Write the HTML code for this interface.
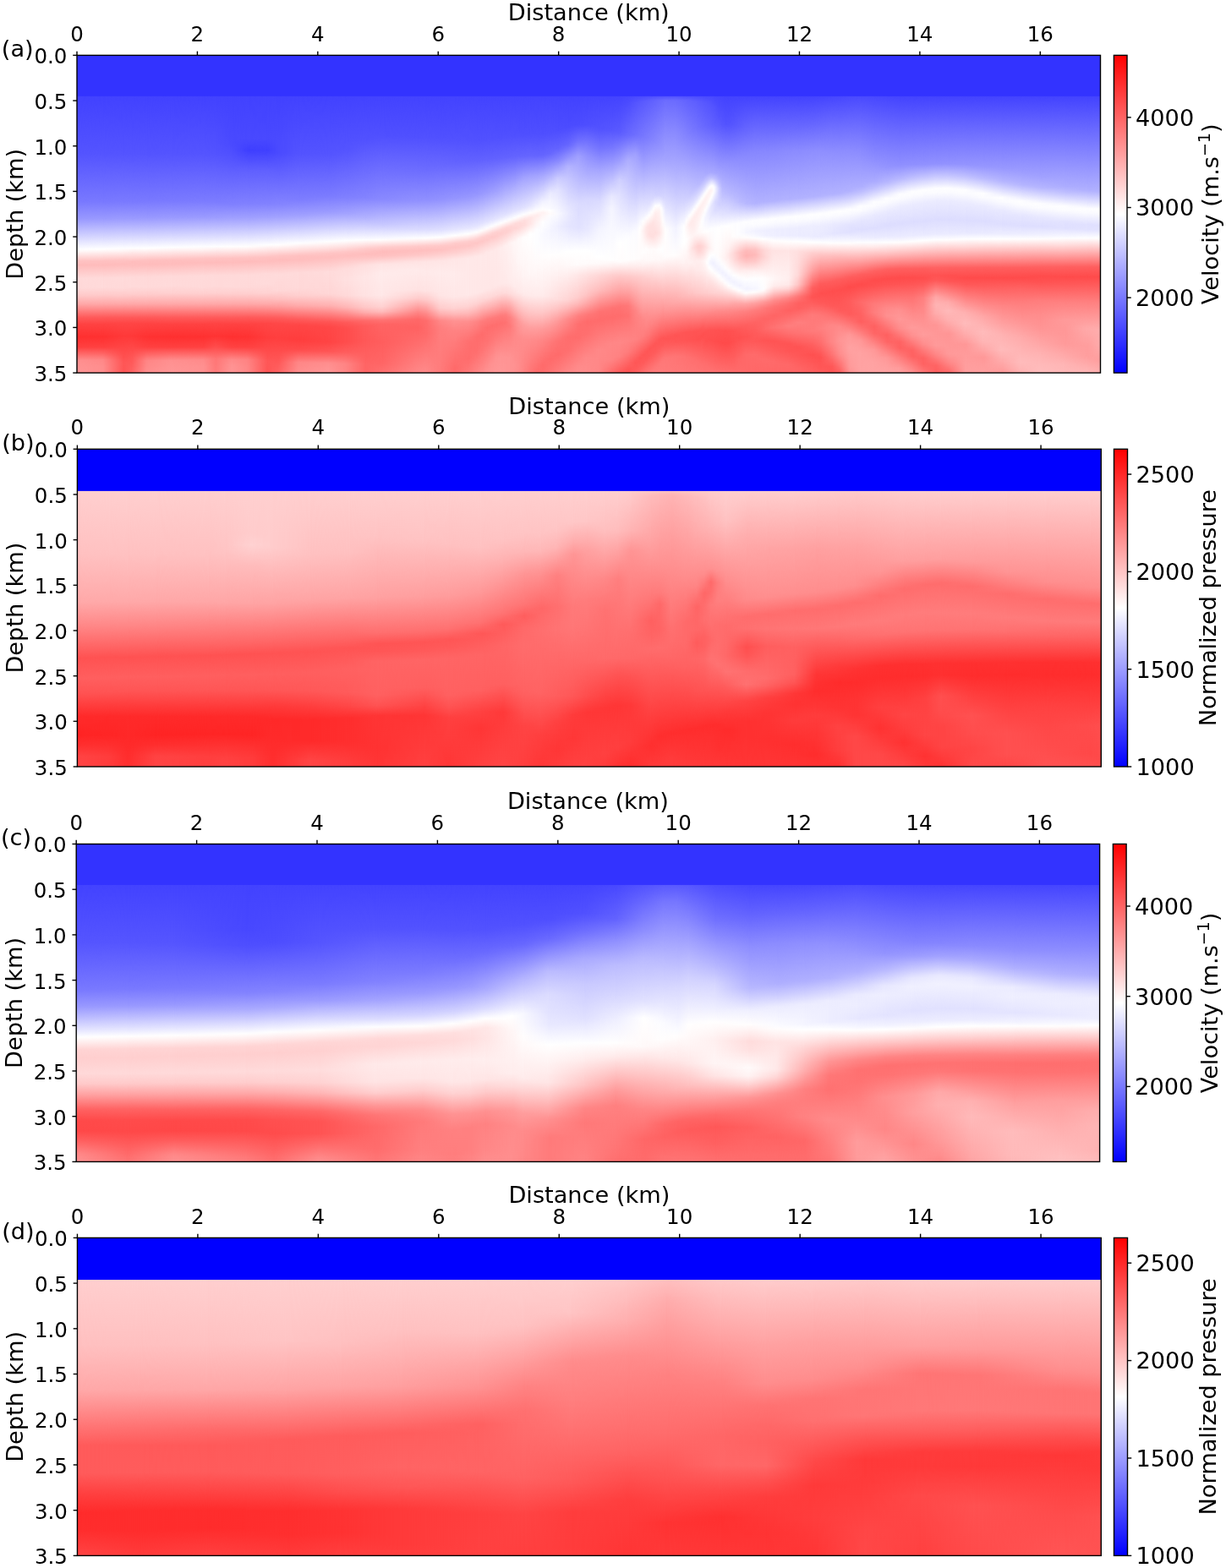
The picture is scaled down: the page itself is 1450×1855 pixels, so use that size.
<!DOCTYPE html>
<html><head><meta charset="utf-8"><style>
html,body{margin:0;padding:0;background:#fff;overflow:hidden;width:1450px;height:1855px;}
svg{display:block;}
.t{font-family:"DejaVu Sans","Liberation Sans",sans-serif;font-size:24.5px;fill:#000;}
.l{font-family:"DejaVu Sans","Liberation Sans",sans-serif;font-size:27.2px;fill:#000;}
.c{font-family:"DejaVu Sans","Liberation Sans",sans-serif;font-size:27.2px;fill:#000;}
</style></head><body>
<svg width="1450" height="1855" viewBox="0 0 1450 1855">
<defs><linearGradient id="rmpg"><stop offset="0" stop-color="#fff" stop-opacity="0"/><stop offset="1" stop-color="#fff"/></linearGradient><mask id="rmp" maskContentUnits="objectBoundingBox" style="mask-type:alpha"><rect width="1" height="1" fill="url(#rmpg)"/></mask></defs><defs><clipPath id="h0c"><rect x="91.0" y="65.4" width="1210.50" height="375.70"/></clipPath><linearGradient id="h00" x2="0" y2="1"><stop offset="0" stop-color="#33f"/><stop offset=".1263" stop-color="#33f"/><stop offset=".129" stop-color="#4242ff"/><stop offset=".3098" stop-color="#5454ff"/><stop offset=".4614" stop-color="#7979ff"/><stop offset=".5146" stop-color="#9898ff"/><stop offset=".6104" stop-color="#fdfdff"/><stop offset=".6157" stop-color="#fffafa"/><stop offset=".6476" stop-color="#ffc3c3"/><stop offset=".6609" stop-color="#ffbcbc"/><stop offset=".7035" stop-color="#ffdada"/><stop offset=".7327" stop-color="#ffd9d9"/><stop offset=".7566" stop-color="#ffc9c9"/><stop offset=".7832" stop-color="#ffa8a8"/><stop offset=".8258" stop-color="#ff5a5a"/><stop offset=".8471" stop-color="#ff4242"/><stop offset=".887" stop-color="#ff3030"/><stop offset=".9189" stop-color="#ff4040"/><stop offset=".9455" stop-color="#ff7474"/><stop offset=".9614" stop-color="#ff9090"/><stop offset="1" stop-color="#ff9797"/></linearGradient><linearGradient id="h01" x2="0" y2="1"><stop offset="0" stop-color="#33f"/><stop offset=".1263" stop-color="#33f"/><stop offset=".129" stop-color="#4242ff"/><stop offset=".3098" stop-color="#5454ff"/><stop offset=".4614" stop-color="#7979ff"/><stop offset=".5146" stop-color="#99f"/><stop offset=".6104" stop-color="#fff"/><stop offset=".6476" stop-color="#ffc1c1"/><stop offset=".6609" stop-color="#ffbcbc"/><stop offset=".7008" stop-color="#ffd9d9"/><stop offset=".7301" stop-color="#ffdada"/><stop offset=".754" stop-color="#ffcbcb"/><stop offset=".7832" stop-color="#ffa8a8"/><stop offset=".8258" stop-color="#ff5959"/><stop offset=".8471" stop-color="#ff4242"/><stop offset=".887" stop-color="#ff3131"/><stop offset=".9189" stop-color="#ff4141"/><stop offset=".9588" stop-color="#ff8787"/><stop offset=".9801" stop-color="#ff8d8d"/><stop offset="1" stop-color="#ff8d8d"/></linearGradient><linearGradient id="h02" x2="0" y2="1"><stop offset="0" stop-color="#33f"/><stop offset=".1263" stop-color="#33f"/><stop offset=".129" stop-color="#4242ff"/><stop offset=".3098" stop-color="#5454ff"/><stop offset=".4614" stop-color="#7a7aff"/><stop offset=".5146" stop-color="#9b9bff"/><stop offset=".6077" stop-color="#fdfdff"/><stop offset=".6157" stop-color="#fff5f5"/><stop offset=".6449" stop-color="#ffc3c3"/><stop offset=".6582" stop-color="#ffbcbc"/><stop offset=".7008" stop-color="#ffdada"/><stop offset=".7327" stop-color="#ffd9d9"/><stop offset=".7566" stop-color="#ffc9c9"/><stop offset=".7832" stop-color="#ffa8a8"/><stop offset=".8258" stop-color="#ff5959"/><stop offset=".8444" stop-color="#ff4545"/><stop offset=".8843" stop-color="#ff3939"/><stop offset=".9668" stop-color="#ff5656"/><stop offset="1" stop-color="#f55"/></linearGradient><linearGradient id="h03" x2="0" y2="1"><stop offset="0" stop-color="#33f"/><stop offset=".1263" stop-color="#33f"/><stop offset=".129" stop-color="#4242ff"/><stop offset=".3098" stop-color="#5454ff"/><stop offset=".4614" stop-color="#7a7aff"/><stop offset=".5146" stop-color="#9b9bff"/><stop offset=".6077" stop-color="#fefeff"/><stop offset=".6263" stop-color="#ffe0e0"/><stop offset=".6503" stop-color="#ffbdbd"/><stop offset=".6636" stop-color="#ffbfbf"/><stop offset=".6981" stop-color="#ffd9d9"/><stop offset=".7274" stop-color="#ffdada"/><stop offset=".7513" stop-color="#ffcece"/><stop offset=".7832" stop-color="#ffa8a8"/><stop offset=".8258" stop-color="#ff5959"/><stop offset=".8444" stop-color="#ff4545"/><stop offset=".8843" stop-color="#ff3939"/><stop offset=".9508" stop-color="#f55"/><stop offset="1" stop-color="#ff6363"/></linearGradient><linearGradient id="h04" x2="0" y2="1"><stop offset="0" stop-color="#33f"/><stop offset=".1263" stop-color="#33f"/><stop offset=".129" stop-color="#4242ff"/><stop offset=".3098" stop-color="#5454ff"/><stop offset=".4588" stop-color="#7979ff"/><stop offset=".512" stop-color="#99f"/><stop offset=".6077" stop-color="#fff"/><stop offset=".6449" stop-color="#ffc1c1"/><stop offset=".6582" stop-color="#ffbcbc"/><stop offset=".6981" stop-color="#ffd9d9"/><stop offset=".7301" stop-color="#ffdada"/><stop offset=".754" stop-color="#ffcbcb"/><stop offset=".7832" stop-color="#ffa8a8"/><stop offset=".8258" stop-color="#ff5959"/><stop offset=".8444" stop-color="#f44"/><stop offset=".887" stop-color="#ff3232"/><stop offset=".9189" stop-color="#ff4141"/><stop offset=".9614" stop-color="#ff8686"/><stop offset="1" stop-color="#ff8f8f"/></linearGradient><linearGradient id="h05" x2="0" y2="1"><stop offset="0" stop-color="#33f"/><stop offset=".1263" stop-color="#33f"/><stop offset=".129" stop-color="#4242ff"/><stop offset=".3098" stop-color="#5454ff"/><stop offset=".4588" stop-color="#7a7aff"/><stop offset=".512" stop-color="#9b9bff"/><stop offset=".6051" stop-color="#fefeff"/><stop offset=".621" stop-color="#ffe5e5"/><stop offset=".6449" stop-color="#ffbfbf"/><stop offset=".6582" stop-color="#ffbdbd"/><stop offset=".6955" stop-color="#ffd9d9"/><stop offset=".7247" stop-color="#ffdada"/><stop offset=".7487" stop-color="#ffd0d0"/><stop offset=".7832" stop-color="#ffa8a8"/><stop offset=".8258" stop-color="#ff5a5a"/><stop offset=".8471" stop-color="#ff4242"/><stop offset=".887" stop-color="#ff3030"/><stop offset=".9189" stop-color="#ff4040"/><stop offset=".9455" stop-color="#ff7474"/><stop offset=".9614" stop-color="#ff9090"/><stop offset="1" stop-color="#ff9797"/></linearGradient><linearGradient id="h06" x2="0" y2="1"><stop offset="0" stop-color="#33f"/><stop offset=".1263" stop-color="#33f"/><stop offset=".129" stop-color="#4242ff"/><stop offset=".3098" stop-color="#5454ff"/><stop offset=".4588" stop-color="#7b7bff"/><stop offset=".5093" stop-color="#9a9aff"/><stop offset=".6024" stop-color="#fdfdff"/><stop offset=".6104" stop-color="#fff5f5"/><stop offset=".6396" stop-color="#ffc3c3"/><stop offset=".6529" stop-color="#ffbcbc"/><stop offset=".6955" stop-color="#ffdada"/><stop offset=".7301" stop-color="#ffd9d9"/><stop offset=".7513" stop-color="#ffcece"/><stop offset=".7832" stop-color="#ffa8a8"/><stop offset=".8258" stop-color="#ff5a5a"/><stop offset=".8471" stop-color="#ff4242"/><stop offset=".887" stop-color="#ff3131"/><stop offset=".9189" stop-color="#ff4242"/><stop offset=".9588" stop-color="#ff8a8a"/><stop offset=".9801" stop-color="#ff9090"/><stop offset="1" stop-color="#ff9090"/></linearGradient><linearGradient id="h07" x2="0" y2="1"><stop offset="0" stop-color="#33f"/><stop offset=".1263" stop-color="#33f"/><stop offset=".129" stop-color="#4242ff"/><stop offset=".3098" stop-color="#5353ff"/><stop offset=".4614" stop-color="#7c7cff"/><stop offset=".512" stop-color="#9e9eff"/><stop offset=".5944" stop-color="#f6f6ff"/><stop offset=".6024" stop-color="#fefeff"/><stop offset=".6396" stop-color="#ffc2c2"/><stop offset=".6529" stop-color="#ffbcbc"/><stop offset=".6928" stop-color="#ffd9d9"/><stop offset=".7247" stop-color="#ffdada"/><stop offset=".7487" stop-color="#ffd0d0"/><stop offset=".7832" stop-color="#ffa8a8"/><stop offset=".8258" stop-color="#ff5a5a"/><stop offset=".8444" stop-color="#f44"/><stop offset=".8843" stop-color="#ff3434"/><stop offset=".9162" stop-color="#ff4b4b"/><stop offset=".9561" stop-color="#ff7676"/><stop offset="1" stop-color="#ff7b7b"/></linearGradient><linearGradient id="h08" x2="0" y2="1"><stop offset="0" stop-color="#33f"/><stop offset=".1263" stop-color="#33f"/><stop offset=".129" stop-color="#4242ff"/><stop offset=".2806" stop-color="#4a4aff"/><stop offset=".3231" stop-color="#5353ff"/><stop offset=".4694" stop-color="#8080ff"/><stop offset=".5146" stop-color="#a2a2ff"/><stop offset=".5918" stop-color="#f4f4ff"/><stop offset=".6024" stop-color="#fffefe"/><stop offset=".6396" stop-color="#ffc1c1"/><stop offset=".6529" stop-color="#ffbdbd"/><stop offset=".6928" stop-color="#ffd9d9"/><stop offset=".7274" stop-color="#ffdada"/><stop offset=".7513" stop-color="#ffcece"/><stop offset=".7832" stop-color="#ffa8a8"/><stop offset=".8258" stop-color="#ff5a5a"/><stop offset=".8471" stop-color="#ff4242"/><stop offset=".887" stop-color="#ff3131"/><stop offset=".9189" stop-color="#ff4242"/><stop offset=".9588" stop-color="#ff8b8b"/><stop offset=".9774" stop-color="#ff9393"/><stop offset="1" stop-color="#ff9595"/></linearGradient><linearGradient id="h09" x2="0" y2="1"><stop offset="0" stop-color="#33f"/><stop offset=".1263" stop-color="#33f"/><stop offset=".129" stop-color="#4242ff"/><stop offset=".262" stop-color="#4949ff"/><stop offset=".2992" stop-color="#3f3fff"/><stop offset=".3604" stop-color="#5f5fff"/><stop offset=".4668" stop-color="#8080ff"/><stop offset=".512" stop-color="#a0a0ff"/><stop offset=".5918" stop-color="#f5f5ff"/><stop offset=".6024" stop-color="#fffdfd"/><stop offset=".637" stop-color="#ffc3c3"/><stop offset=".6503" stop-color="#ffbcbc"/><stop offset=".6928" stop-color="#ffdada"/><stop offset=".7301" stop-color="#ffd9d9"/><stop offset=".7513" stop-color="#ffcece"/><stop offset=".7832" stop-color="#ffa8a8"/><stop offset=".8258" stop-color="#ff5959"/><stop offset=".8471" stop-color="#ff4242"/><stop offset=".887" stop-color="#ff3232"/><stop offset=".9189" stop-color="#ff4141"/><stop offset=".9588" stop-color="#ff8282"/><stop offset=".9827" stop-color="#ff8787"/><stop offset="1" stop-color="#ff8787"/></linearGradient><linearGradient id="h010" x2="0" y2="1"><stop offset="0" stop-color="#33f"/><stop offset=".1263" stop-color="#33f"/><stop offset=".129" stop-color="#4242ff"/><stop offset=".262" stop-color="#4949ff"/><stop offset=".2992" stop-color="#4040ff"/><stop offset=".363" stop-color="#6060ff"/><stop offset=".4668" stop-color="#8181ff"/><stop offset=".5093" stop-color="#a0a0ff"/><stop offset=".5891" stop-color="#f5f5ff"/><stop offset=".5971" stop-color="#fefeff"/><stop offset=".613" stop-color="#ffe5e5"/><stop offset=".637" stop-color="#ffc0c0"/><stop offset=".6503" stop-color="#ffbebe"/><stop offset=".6875" stop-color="#ffd9d9"/><stop offset=".7194" stop-color="#ffdbdb"/><stop offset=".7487" stop-color="#ffd2d2"/><stop offset=".7832" stop-color="#faa"/><stop offset=".8258" stop-color="#ff5b5b"/><stop offset=".8444" stop-color="#ff4646"/><stop offset=".8896" stop-color="#ff3d3d"/><stop offset=".9641" stop-color="#ff5757"/><stop offset="1" stop-color="#f55"/></linearGradient><linearGradient id="h011" x2="0" y2="1"><stop offset="0" stop-color="#33f"/><stop offset=".1263" stop-color="#33f"/><stop offset=".129" stop-color="#4242ff"/><stop offset=".2699" stop-color="#4a4aff"/><stop offset=".3072" stop-color="#4a4aff"/><stop offset=".3843" stop-color="#66f"/><stop offset=".4694" stop-color="#8484ff"/><stop offset=".5093" stop-color="#a2a2ff"/><stop offset=".5864" stop-color="#f5f5ff"/><stop offset=".5971" stop-color="#fffefe"/><stop offset=".6316" stop-color="#ffc4c4"/><stop offset=".6449" stop-color="#ffbcbc"/><stop offset=".6902" stop-color="#ffdbdb"/><stop offset=".7407" stop-color="#ffd7d7"/><stop offset=".7673" stop-color="#ffc0c0"/><stop offset=".7912" stop-color="#ff9e9e"/><stop offset=".8258" stop-color="#ff5d5d"/><stop offset=".8444" stop-color="#ff4848"/><stop offset=".8896" stop-color="#ff3f3f"/><stop offset=".9588" stop-color="#f55"/><stop offset="1" stop-color="#ff6363"/></linearGradient><linearGradient id="h012" x2="0" y2="1"><stop offset="0" stop-color="#33f"/><stop offset=".1263" stop-color="#33f"/><stop offset=".129" stop-color="#4242ff"/><stop offset=".3098" stop-color="#5353ff"/><stop offset=".4561" stop-color="#7e7eff"/><stop offset=".504" stop-color="#a0a0ff"/><stop offset=".5838" stop-color="#f5f5ff"/><stop offset=".5918" stop-color="#fefeff"/><stop offset=".6077" stop-color="#ffe5e5"/><stop offset=".6316" stop-color="#ffc0c0"/><stop offset=".6449" stop-color="#ffbebe"/><stop offset=".6848" stop-color="#ffdada"/><stop offset=".7327" stop-color="#ffd9d9"/><stop offset=".7566" stop-color="#ffcfcf"/><stop offset=".7886" stop-color="#faa"/><stop offset=".8311" stop-color="#ff5b5b"/><stop offset=".8497" stop-color="#ff4646"/><stop offset=".8949" stop-color="#ff3d3d"/><stop offset=".9269" stop-color="#ff4c4c"/><stop offset=".9668" stop-color="#ff8686"/><stop offset="1" stop-color="#ff8f8f"/></linearGradient><linearGradient id="h013" x2="0" y2="1"><stop offset="0" stop-color="#33f"/><stop offset=".1263" stop-color="#33f"/><stop offset=".129" stop-color="#4242ff"/><stop offset=".3098" stop-color="#5454ff"/><stop offset=".4428" stop-color="#7b7bff"/><stop offset=".4934" stop-color="#9b9bff"/><stop offset=".5864" stop-color="#fefeff"/><stop offset=".5971" stop-color="#ffefef"/><stop offset=".6237" stop-color="#ffc4c4"/><stop offset=".637" stop-color="#ffbebe"/><stop offset=".6822" stop-color="#ffdbdb"/><stop offset=".7513" stop-color="#ffd6d6"/><stop offset=".7886" stop-color="#ffb0b0"/><stop offset=".8391" stop-color="#f55"/><stop offset=".8551" stop-color="#ff4747"/><stop offset=".9029" stop-color="#f44"/><stop offset=".9322" stop-color="#f55"/><stop offset=".9694" stop-color="#ff8e8e"/><stop offset=".996" stop-color="#ff9696"/><stop offset="1" stop-color="#ff9696"/></linearGradient><linearGradient id="h014" x2="0" y2="1"><stop offset="0" stop-color="#33f"/><stop offset=".1263" stop-color="#33f"/><stop offset=".129" stop-color="#4242ff"/><stop offset=".2992" stop-color="#5454ff"/><stop offset=".4481" stop-color="#8080ff"/><stop offset=".4987" stop-color="#a3a3ff"/><stop offset=".5838" stop-color="#fefeff"/><stop offset=".6184" stop-color="#ffc6c6"/><stop offset=".6316" stop-color="#ffbebe"/><stop offset=".6715" stop-color="#ffdcdc"/><stop offset=".7088" stop-color="#ffe0e0"/><stop offset=".7566" stop-color="#ffd9d9"/><stop offset=".7939" stop-color="#ffb5b5"/><stop offset=".8178" stop-color="#ff8686"/><stop offset=".8418" stop-color="#ff5959"/><stop offset=".8604" stop-color="#ff4d4d"/><stop offset=".9029" stop-color="#ff4d4d"/><stop offset=".9348" stop-color="#ff5d5d"/><stop offset=".9721" stop-color="#ff8383"/><stop offset="1" stop-color="#ff8484"/></linearGradient><linearGradient id="h015" x2="0" y2="1"><stop offset="0" stop-color="#33f"/><stop offset=".1263" stop-color="#33f"/><stop offset=".129" stop-color="#4343ff"/><stop offset=".2646" stop-color="#5151ff"/><stop offset=".4481" stop-color="#8383ff"/><stop offset=".512" stop-color="#b2b2ff"/><stop offset=".5785" stop-color="#fafaff"/><stop offset=".5811" stop-color="#fefeff"/><stop offset=".6104" stop-color="#ffc8c8"/><stop offset=".6263" stop-color="#ffbdbd"/><stop offset=".6396" stop-color="#ffc6c6"/><stop offset=".6609" stop-color="#ffdfdf"/><stop offset=".6981" stop-color="#ffe6e6"/><stop offset=".7566" stop-color="#ffe2e2"/><stop offset=".7939" stop-color="#ffc7c7"/><stop offset=".8098" stop-color="#ffadad"/><stop offset=".8364" stop-color="#ff6969"/><stop offset=".8524" stop-color="#ff5b5b"/><stop offset=".8976" stop-color="#ff5858"/><stop offset=".9747" stop-color="#ff6565"/><stop offset="1" stop-color="#ff6565"/></linearGradient><linearGradient id="h016" x2="0" y2="1"><stop offset="0" stop-color="#33f"/><stop offset=".1263" stop-color="#33f"/><stop offset=".129" stop-color="#4343ff"/><stop offset=".254" stop-color="#5050ff"/><stop offset=".4535" stop-color="#8989ff"/><stop offset=".5332" stop-color="#c8c8ff"/><stop offset=".5758" stop-color="#f8f8ff"/><stop offset=".5811" stop-color="#fffdfd"/><stop offset=".6051" stop-color="#ffcaca"/><stop offset=".6184" stop-color="#ffbcbc"/><stop offset=".6316" stop-color="#ffc0c0"/><stop offset=".6582" stop-color="#ffe4e4"/><stop offset=".6875" stop-color="#ffebeb"/><stop offset=".7566" stop-color="#ffe7e7"/><stop offset=".7912" stop-color="#ffd2d2"/><stop offset=".8072" stop-color="#ffbcbc"/><stop offset=".8338" stop-color="#ff7373"/><stop offset=".8471" stop-color="#ff6464"/><stop offset=".9029" stop-color="#ff5e5e"/><stop offset=".9721" stop-color="#f66"/><stop offset="1" stop-color="#ff7070"/></linearGradient><linearGradient id="h017" x2="0" y2="1"><stop offset="0" stop-color="#33f"/><stop offset=".1263" stop-color="#33f"/><stop offset=".129" stop-color="#4343ff"/><stop offset=".2566" stop-color="#5050ff"/><stop offset=".3684" stop-color="#6f6fff"/><stop offset=".4588" stop-color="#9191ff"/><stop offset=".5492" stop-color="#dbdbff"/><stop offset=".5758" stop-color="#fdfdff"/><stop offset=".5838" stop-color="#ffefef"/><stop offset=".6024" stop-color="#ffc8c8"/><stop offset=".6157" stop-color="#ffbebe"/><stop offset=".629" stop-color="#ffc7c7"/><stop offset=".6503" stop-color="#ffe3e3"/><stop offset=".6769" stop-color="#ffeaea"/><stop offset=".738" stop-color="#ffe2e2"/><stop offset=".7646" stop-color="#fcc"/><stop offset=".8098" stop-color="#ff8585"/><stop offset=".8311" stop-color="#ff6868"/><stop offset=".8577" stop-color="#ff6262"/><stop offset=".9109" stop-color="#ff6e6e"/><stop offset="1" stop-color="#f88"/></linearGradient><linearGradient id="h018" x2="0" y2="1"><stop offset="0" stop-color="#33f"/><stop offset=".1263" stop-color="#33f"/><stop offset=".129" stop-color="#4343ff"/><stop offset=".2593" stop-color="#5151ff"/><stop offset=".3604" stop-color="#6c6cff"/><stop offset=".4561" stop-color="#9090ff"/><stop offset=".5492" stop-color="#dcdcff"/><stop offset=".5758" stop-color="#fff"/><stop offset=".5997" stop-color="#ffcbcb"/><stop offset=".613" stop-color="#ffbfbf"/><stop offset=".629" stop-color="#ffcaca"/><stop offset=".6503" stop-color="#ffe5e5"/><stop offset=".6822" stop-color="#ffeaea"/><stop offset=".7407" stop-color="#ffe3e3"/><stop offset=".7699" stop-color="#ffcaca"/><stop offset=".8152" stop-color="#ff8686"/><stop offset=".8364" stop-color="#ff6c6c"/><stop offset=".8763" stop-color="#ff6a6a"/><stop offset=".9934" stop-color="#f88"/><stop offset="1" stop-color="#f88"/></linearGradient><linearGradient id="h019" x2="0" y2="1"><stop offset="0" stop-color="#33f"/><stop offset=".1263" stop-color="#33f"/><stop offset=".129" stop-color="#4343ff"/><stop offset=".2593" stop-color="#5050ff"/><stop offset=".3471" stop-color="#6868ff"/><stop offset=".4561" stop-color="#9393ff"/><stop offset=".5519" stop-color="#e1e1ff"/><stop offset=".5731" stop-color="#fefeff"/><stop offset=".5997" stop-color="#ffc8c8"/><stop offset=".613" stop-color="#ffc1c1"/><stop offset=".629" stop-color="#ffd0d0"/><stop offset=".6476" stop-color="#ffe5e5"/><stop offset=".6848" stop-color="#ffebeb"/><stop offset=".7566" stop-color="#ffe5e5"/><stop offset=".7965" stop-color="#fcc"/><stop offset=".8152" stop-color="#ffb0b0"/><stop offset=".8364" stop-color="#f88"/><stop offset=".8604" stop-color="#ff7e7e"/><stop offset=".9082" stop-color="#ff7d7d"/><stop offset=".988" stop-color="#ff7b7b"/><stop offset="1" stop-color="#ff7a7a"/></linearGradient><linearGradient id="h020" x2="0" y2="1"><stop offset="0" stop-color="#33f"/><stop offset=".1263" stop-color="#33f"/><stop offset=".129" stop-color="#4343ff"/><stop offset=".2646" stop-color="#5151ff"/><stop offset=".3391" stop-color="#6464ff"/><stop offset=".4508" stop-color="#9595ff"/><stop offset=".5492" stop-color="#e5e5ff"/><stop offset=".5678" stop-color="#fff"/><stop offset=".5918" stop-color="#ffcbcb"/><stop offset=".6051" stop-color="#ffc3c3"/><stop offset=".621" stop-color="#ffcfcf"/><stop offset=".6423" stop-color="#ffe6e6"/><stop offset=".6902" stop-color="#ffebeb"/><stop offset=".7593" stop-color="#ffe7e7"/><stop offset=".7965" stop-color="#ffd2d2"/><stop offset=".8152" stop-color="#ffb8b8"/><stop offset=".8364" stop-color="#ff9292"/><stop offset=".8684" stop-color="#ff8383"/><stop offset=".9854" stop-color="#ff6a6a"/><stop offset="1" stop-color="#ff6b6b"/></linearGradient><linearGradient id="h021" x2="0" y2="1"><stop offset="0" stop-color="#33f"/><stop offset=".1263" stop-color="#33f"/><stop offset=".129" stop-color="#4343ff"/><stop offset=".2699" stop-color="#5252ff"/><stop offset=".3338" stop-color="#6262ff"/><stop offset=".4455" stop-color="#9696ff"/><stop offset=".5439" stop-color="#e5e5ff"/><stop offset=".5625" stop-color="#fff"/><stop offset=".5864" stop-color="#fcc"/><stop offset=".5997" stop-color="#ffc5c5"/><stop offset=".6184" stop-color="#ffd5d5"/><stop offset=".6396" stop-color="#ffe8e8"/><stop offset=".754" stop-color="#ffe8e8"/><stop offset=".7912" stop-color="#ffd2d2"/><stop offset=".8125" stop-color="#ffb8b8"/><stop offset=".8391" stop-color="#ff8d8d"/><stop offset=".9029" stop-color="#ff6f6f"/><stop offset=".9535" stop-color="#ff6c6c"/><stop offset="1" stop-color="#ff7979"/></linearGradient><linearGradient id="h022" x2="0" y2="1"><stop offset="0" stop-color="#33f"/><stop offset=".1263" stop-color="#33f"/><stop offset=".129" stop-color="#4343ff"/><stop offset=".2699" stop-color="#5151ff"/><stop offset=".3311" stop-color="#6161ff"/><stop offset=".4402" stop-color="#9797ff"/><stop offset=".5386" stop-color="#e5e5ff"/><stop offset=".5572" stop-color="#fffefe"/><stop offset=".5785" stop-color="#ffd0d0"/><stop offset=".5918" stop-color="#ffc6c6"/><stop offset=".6104" stop-color="#ffd4d4"/><stop offset=".6343" stop-color="#ffe8e8"/><stop offset=".7487" stop-color="#ffe7e7"/><stop offset=".7832" stop-color="#ffd1d1"/><stop offset=".8125" stop-color="#ffabab"/><stop offset=".8391" stop-color="#ff8484"/><stop offset=".887" stop-color="#ff6d6d"/><stop offset=".9348" stop-color="#ff6f6f"/><stop offset="1" stop-color="#ff8585"/></linearGradient><linearGradient id="h023" x2="0" y2="1"><stop offset="0" stop-color="#33f"/><stop offset=".1263" stop-color="#33f"/><stop offset=".129" stop-color="#4343ff"/><stop offset=".2673" stop-color="#5151ff"/><stop offset=".3285" stop-color="#6161ff"/><stop offset=".4375" stop-color="#9a9aff"/><stop offset=".5306" stop-color="#e3e3ff"/><stop offset=".5519" stop-color="#fffdfd"/><stop offset=".5731" stop-color="#ffcfcf"/><stop offset=".5864" stop-color="#ffc7c7"/><stop offset=".6077" stop-color="#ffd9d9"/><stop offset=".6316" stop-color="#ffe9e9"/><stop offset=".7434" stop-color="#ffe7e7"/><stop offset=".7753" stop-color="#ffd2d2"/><stop offset=".8125" stop-color="#ffa0a0"/><stop offset=".8391" stop-color="#ff7b7b"/><stop offset=".879" stop-color="#ff6c6c"/><stop offset=".9269" stop-color="#ff7474"/><stop offset="1" stop-color="#ff8b8b"/></linearGradient><linearGradient id="h024" x2="0" y2="1"><stop offset="0" stop-color="#33f"/><stop offset=".1263" stop-color="#33f"/><stop offset=".129" stop-color="#4343ff"/><stop offset=".2646" stop-color="#5151ff"/><stop offset=".3285" stop-color="#6262ff"/><stop offset=".4322" stop-color="#9b9bff"/><stop offset=".5253" stop-color="#e4e4ff"/><stop offset=".5439" stop-color="#fdfdff"/><stop offset=".5492" stop-color="#fff6f6"/><stop offset=".5678" stop-color="#ffcfcf"/><stop offset=".5811" stop-color="#ffc9c9"/><stop offset=".621" stop-color="#ffe8e8"/><stop offset=".7354" stop-color="#ffe7e7"/><stop offset=".7646" stop-color="#ffd8d8"/><stop offset=".7965" stop-color="#ffb0b0"/><stop offset=".8311" stop-color="#ff7c7c"/><stop offset=".8577" stop-color="#ff6e6e"/><stop offset=".9003" stop-color="#ff7272"/><stop offset=".988" stop-color="#ff8f8f"/><stop offset="1" stop-color="#ff9191"/></linearGradient><linearGradient id="h025" x2="0" y2="1"><stop offset="0" stop-color="#33f"/><stop offset=".1263" stop-color="#33f"/><stop offset=".129" stop-color="#4343ff"/><stop offset=".262" stop-color="#5151ff"/><stop offset=".3258" stop-color="#6161ff"/><stop offset=".4295" stop-color="#9e9eff"/><stop offset=".5199" stop-color="#e4e4ff"/><stop offset=".5386" stop-color="#fefeff"/><stop offset=".5598" stop-color="#ffd2d2"/><stop offset=".5731" stop-color="#ffc9c9"/><stop offset=".5944" stop-color="#ffdada"/><stop offset=".6184" stop-color="#ffe9e9"/><stop offset=".7327" stop-color="#ffe6e6"/><stop offset=".7593" stop-color="#ffd8d8"/><stop offset=".7912" stop-color="#ffb0b0"/><stop offset=".8285" stop-color="#ff7a7a"/><stop offset=".8524" stop-color="#ff6e6e"/><stop offset=".8949" stop-color="#f77"/><stop offset=".9694" stop-color="#ff9191"/><stop offset="1" stop-color="#ff9595"/></linearGradient><linearGradient id="h026" x2="0" y2="1"><stop offset="0" stop-color="#33f"/><stop offset=".1263" stop-color="#33f"/><stop offset=".129" stop-color="#4343ff"/><stop offset=".2593" stop-color="#5050ff"/><stop offset=".3258" stop-color="#6262ff"/><stop offset=".4295" stop-color="#a2a2ff"/><stop offset=".5146" stop-color="#e4e4ff"/><stop offset=".5332" stop-color="#fefeff"/><stop offset=".5572" stop-color="#ffcfcf"/><stop offset=".5705" stop-color="#ffcbcb"/><stop offset=".6104" stop-color="#ffe9e9"/><stop offset=".7247" stop-color="#ffe7e7"/><stop offset=".754" stop-color="#ffd9d9"/><stop offset=".7859" stop-color="#ffb1b1"/><stop offset=".8258" stop-color="#ff7979"/><stop offset=".8497" stop-color="#ff6e6e"/><stop offset=".8923" stop-color="#ff7b7b"/><stop offset=".9508" stop-color="#ff9292"/><stop offset="1" stop-color="#ff9797"/></linearGradient><linearGradient id="h027" x2="0" y2="1"><stop offset="0" stop-color="#33f"/><stop offset=".1263" stop-color="#33f"/><stop offset=".129" stop-color="#4343ff"/><stop offset=".2566" stop-color="#5050ff"/><stop offset=".3231" stop-color="#6262ff"/><stop offset=".4428" stop-color="#b1b1ff"/><stop offset=".5093" stop-color="#e5e5ff"/><stop offset=".5279" stop-color="#fff"/><stop offset=".5492" stop-color="#ffd3d3"/><stop offset=".5625" stop-color="#ffcdcd"/><stop offset=".6051" stop-color="#ffecec"/><stop offset=".7194" stop-color="#ffe8e8"/><stop offset=".7513" stop-color="#ffd8d8"/><stop offset=".7859" stop-color="#ffa9a9"/><stop offset=".8205" stop-color="#ff7a7a"/><stop offset=".8444" stop-color="#ff6f6f"/><stop offset=".8923" stop-color="#ff7f7f"/><stop offset=".9481" stop-color="#ff9494"/><stop offset="1" stop-color="#ff9797"/></linearGradient><linearGradient id="h028" x2="0" y2="1"><stop offset="0" stop-color="#33f"/><stop offset=".1263" stop-color="#33f"/><stop offset=".129" stop-color="#4343ff"/><stop offset=".254" stop-color="#5050ff"/><stop offset=".3231" stop-color="#6363ff"/><stop offset=".5013" stop-color="#e1e1ff"/><stop offset=".5226" stop-color="#fefeff"/><stop offset=".5439" stop-color="#ffd4d4"/><stop offset=".5572" stop-color="#ffcfcf"/><stop offset=".5997" stop-color="#ffefef"/><stop offset=".7168" stop-color="#ffe9e9"/><stop offset=".7487" stop-color="#ffdada"/><stop offset=".7832" stop-color="#ffadad"/><stop offset=".8178" stop-color="#ff7d7d"/><stop offset=".8418" stop-color="#ff7171"/><stop offset=".8976" stop-color="#ff8484"/><stop offset=".9535" stop-color="#ff9494"/><stop offset="1" stop-color="#ff9696"/></linearGradient><linearGradient id="h029" x2="0" y2="1"><stop offset="0" stop-color="#33f"/><stop offset=".1263" stop-color="#33f"/><stop offset=".129" stop-color="#4343ff"/><stop offset=".254" stop-color="#5050ff"/><stop offset=".3205" stop-color="#6363ff"/><stop offset=".496" stop-color="#e1e1ff"/><stop offset=".5173" stop-color="#fdfdff"/><stop offset=".5253" stop-color="#fff0f0"/><stop offset=".5386" stop-color="#ffd6d6"/><stop offset=".5519" stop-color="#ffd1d1"/><stop offset=".5918" stop-color="#fff2f2"/><stop offset=".7168" stop-color="#ffebeb"/><stop offset=".7513" stop-color="#ffdbdb"/><stop offset=".7939" stop-color="#ffa4a4"/><stop offset=".8258" stop-color="#ff8080"/><stop offset=".8524" stop-color="#ff7979"/><stop offset=".9508" stop-color="#ff9393"/><stop offset="1" stop-color="#ff9393"/></linearGradient><linearGradient id="h030" x2="0" y2="1"><stop offset="0" stop-color="#33f"/><stop offset=".1263" stop-color="#33f"/><stop offset=".129" stop-color="#4343ff"/><stop offset=".2513" stop-color="#5050ff"/><stop offset=".3205" stop-color="#6464ff"/><stop offset=".4269" stop-color="#b5b5ff"/><stop offset=".4907" stop-color="#e2e2ff"/><stop offset=".512" stop-color="#fefeff"/><stop offset=".5306" stop-color="#ffdada"/><stop offset=".5439" stop-color="#ffd4d4"/><stop offset=".5652" stop-color="#ffe6e6"/><stop offset=".5891" stop-color="#fff7f7"/><stop offset=".7274" stop-color="#ffecec"/><stop offset=".7566" stop-color="#fdd"/><stop offset=".8311" stop-color="#ff8f8f"/><stop offset=".8657" stop-color="#ff8787"/><stop offset=".9774" stop-color="#ff9191"/><stop offset="1" stop-color="#ff9090"/></linearGradient><linearGradient id="h031" x2="0" y2="1"><stop offset="0" stop-color="#33f"/><stop offset=".1263" stop-color="#33f"/><stop offset=".129" stop-color="#4343ff"/><stop offset=".2487" stop-color="#4f4fff"/><stop offset=".3178" stop-color="#6464ff"/><stop offset=".4003" stop-color="#a8a8ff"/><stop offset=".4854" stop-color="#e1e1ff"/><stop offset=".5066" stop-color="#fefeff"/><stop offset=".5279" stop-color="#ffd9d9"/><stop offset=".5439" stop-color="#ffd8d8"/><stop offset=".5785" stop-color="#fff9f9"/><stop offset=".6476" stop-color="#fff7f7"/><stop offset=".746" stop-color="#ffe9e9"/><stop offset=".7912" stop-color="#ffc5c5"/><stop offset=".8391" stop-color="#f99"/><stop offset=".8923" stop-color="#ff8b8b"/><stop offset=".9827" stop-color="#ff8c8c"/><stop offset="1" stop-color="#ff8b8b"/></linearGradient><linearGradient id="h032" x2="0" y2="1"><stop offset="0" stop-color="#33f"/><stop offset=".1263" stop-color="#33f"/><stop offset=".129" stop-color="#4343ff"/><stop offset=".2487" stop-color="#4f4fff"/><stop offset=".3178" stop-color="#6565ff"/><stop offset=".387" stop-color="#a4a4ff"/><stop offset=".4801" stop-color="#e2e2ff"/><stop offset=".5013" stop-color="#fefeff"/><stop offset=".5199" stop-color="#fdd"/><stop offset=".5359" stop-color="#ffdbdb"/><stop offset=".5731" stop-color="#fffdfd"/><stop offset=".6981" stop-color="#fff4f4"/><stop offset=".754" stop-color="#ffeaea"/><stop offset=".8125" stop-color="#ffbdbd"/><stop offset=".8497" stop-color="#ff9f9f"/><stop offset=".8949" stop-color="#ff8d8d"/><stop offset=".9907" stop-color="#ff8383"/><stop offset="1" stop-color="#ff8282"/></linearGradient><linearGradient id="h033" x2="0" y2="1"><stop offset="0" stop-color="#33f"/><stop offset=".1263" stop-color="#33f"/><stop offset=".129" stop-color="#4343ff"/><stop offset=".2487" stop-color="#4f4fff"/><stop offset=".3178" stop-color="#66f"/><stop offset=".3816" stop-color="#a3a3ff"/><stop offset=".4747" stop-color="#e5e5ff"/><stop offset=".496" stop-color="#fffefe"/><stop offset=".512" stop-color="#ffe4e4"/><stop offset=".5306" stop-color="#ffe5e5"/><stop offset=".5625" stop-color="#fff"/><stop offset=".6795" stop-color="#fff7f7"/><stop offset=".7566" stop-color="#ffeaea"/><stop offset=".8152" stop-color="#ffc1c1"/><stop offset=".8604" stop-color="#ff9d9d"/><stop offset=".8949" stop-color="#ff8c8c"/><stop offset="1" stop-color="#ff7676"/></linearGradient><linearGradient id="h034" x2="0" y2="1"><stop offset="0" stop-color="#33f"/><stop offset=".1263" stop-color="#33f"/><stop offset=".129" stop-color="#4343ff"/><stop offset=".2487" stop-color="#4f4fff"/><stop offset=".3152" stop-color="#6464ff"/><stop offset=".379" stop-color="#a3a3ff"/><stop offset=".4854" stop-color="#fafaff"/><stop offset=".4907" stop-color="#fffcfc"/><stop offset=".504" stop-color="#ffebeb"/><stop offset=".5492" stop-color="#fdfdff"/><stop offset=".5918" stop-color="#fdfdff"/><stop offset=".6556" stop-color="#fffafa"/><stop offset=".7566" stop-color="#ffebeb"/><stop offset=".8125" stop-color="#ffc5c5"/><stop offset=".8604" stop-color="#ff9d9d"/><stop offset=".8976" stop-color="#ff8989"/><stop offset=".9934" stop-color="#ff6d6d"/><stop offset="1" stop-color="#ff6c6c"/></linearGradient><linearGradient id="h035" x2="0" y2="1"><stop offset="0" stop-color="#33f"/><stop offset=".1263" stop-color="#33f"/><stop offset=".129" stop-color="#4343ff"/><stop offset=".2487" stop-color="#4f4fff"/><stop offset=".3152" stop-color="#6565ff"/><stop offset=".3763" stop-color="#a5a5ff"/><stop offset=".4614" stop-color="#f2f2ff"/><stop offset=".4854" stop-color="#fffefe"/><stop offset=".496" stop-color="#fff1f1"/><stop offset=".5253" stop-color="#fefeff"/><stop offset=".5678" stop-color="#f9f9ff"/><stop offset=".6316" stop-color="#fffdfd"/><stop offset=".7566" stop-color="#ffebeb"/><stop offset=".8098" stop-color="#ffc7c7"/><stop offset=".863" stop-color="#f99"/><stop offset=".9003" stop-color="#ff8484"/><stop offset=".9747" stop-color="#ff6b6b"/><stop offset="1" stop-color="#ff6c6c"/></linearGradient><linearGradient id="h036" x2="0" y2="1"><stop offset="0" stop-color="#33f"/><stop offset=".1263" stop-color="#33f"/><stop offset=".129" stop-color="#4343ff"/><stop offset=".2434" stop-color="#4f4fff"/><stop offset=".3098" stop-color="#6767ff"/><stop offset=".3896" stop-color="#bebeff"/><stop offset=".4348" stop-color="#ebebff"/><stop offset=".4614" stop-color="#f5f5ff"/><stop offset=".4827" stop-color="#fafaff"/><stop offset=".488" stop-color="#fff"/><stop offset=".4987" stop-color="#fffbfb"/><stop offset=".5066" stop-color="#fcfcff"/><stop offset=".5519" stop-color="#f4f4ff"/><stop offset=".629" stop-color="#fffefe"/><stop offset=".7593" stop-color="#ffe5e5"/><stop offset=".7992" stop-color="#ffc9c9"/><stop offset=".8497" stop-color="#ff9b9b"/><stop offset=".9029" stop-color="#ff7a7a"/><stop offset=".9561" stop-color="#ff6b6b"/><stop offset="1" stop-color="#ff7474"/></linearGradient><linearGradient id="h037" x2="0" y2="1"><stop offset="0" stop-color="#33f"/><stop offset=".1263" stop-color="#33f"/><stop offset=".129" stop-color="#4343ff"/><stop offset=".2354" stop-color="#4d4dff"/><stop offset=".2939" stop-color="#6363ff"/><stop offset=".3285" stop-color="#8484ff"/><stop offset=".387" stop-color="#cbcbff"/><stop offset=".4242" stop-color="#e3e3ff"/><stop offset=".4827" stop-color="#f4f4ff"/><stop offset=".4987" stop-color="#f9f9ff"/><stop offset=".5386" stop-color="#eef"/><stop offset=".6263" stop-color="#fffefe"/><stop offset=".6715" stop-color="#fff5f5"/><stop offset=".7673" stop-color="#fdd"/><stop offset=".7965" stop-color="#ffc4c4"/><stop offset=".8391" stop-color="#ff9797"/><stop offset=".9003" stop-color="#ff7272"/><stop offset=".9428" stop-color="#ff6b6b"/><stop offset="1" stop-color="#ff7d7d"/></linearGradient><linearGradient id="h038" x2="0" y2="1"><stop offset="0" stop-color="#33f"/><stop offset=".1263" stop-color="#33f"/><stop offset=".129" stop-color="#4242ff"/><stop offset=".2274" stop-color="#4c4cff"/><stop offset=".2832" stop-color="#6767ff"/><stop offset=".3497" stop-color="#b3b3ff"/><stop offset=".3896" stop-color="#c7c7ff"/><stop offset=".4774" stop-color="#e5e5ff"/><stop offset=".4987" stop-color="#eaeaff"/><stop offset=".5386" stop-color="#e5e5ff"/><stop offset=".6184" stop-color="#fff"/><stop offset=".6609" stop-color="#fff9f9"/><stop offset=".7035" stop-color="#ffe9e9"/><stop offset=".7699" stop-color="#ffd4d4"/><stop offset=".7939" stop-color="#ffb9b9"/><stop offset=".8311" stop-color="#ff8989"/><stop offset=".887" stop-color="#ff6d6d"/><stop offset=".9295" stop-color="#ff6f6f"/><stop offset="1" stop-color="#f88"/></linearGradient><linearGradient id="h039" x2="0" y2="1"><stop offset="0" stop-color="#33f"/><stop offset=".1263" stop-color="#33f"/><stop offset=".129" stop-color="#4242ff"/><stop offset=".2194" stop-color="#4c4cff"/><stop offset=".2699" stop-color="#7070ff"/><stop offset=".3178" stop-color="#a0a0ff"/><stop offset=".4082" stop-color="#c2c2ff"/><stop offset=".4668" stop-color="#dbdbff"/><stop offset=".5066" stop-color="#dfdfff"/><stop offset=".5439" stop-color="#e2e2ff"/><stop offset=".6157" stop-color="#fff"/><stop offset=".6582" stop-color="#fffbfb"/><stop offset=".6928" stop-color="#ffe6e6"/><stop offset=".762" stop-color="#fcc"/><stop offset=".7832" stop-color="#ffb7b7"/><stop offset=".8205" stop-color="#ff7f7f"/><stop offset=".8471" stop-color="#ff6f6f"/><stop offset=".8896" stop-color="#ff6d6d"/><stop offset=".9827" stop-color="#ff8b8b"/><stop offset="1" stop-color="#ff8c8c"/></linearGradient><linearGradient id="h040" x2="0" y2="1"><stop offset="0" stop-color="#33f"/><stop offset=".1263" stop-color="#33f"/><stop offset=".129" stop-color="#4343ff"/><stop offset=".2194" stop-color="#4e4eff"/><stop offset=".262" stop-color="#6c6cff"/><stop offset=".3178" stop-color="#9393ff"/><stop offset=".3843" stop-color="#b3b3ff"/><stop offset=".4535" stop-color="#d7d7ff"/><stop offset=".5013" stop-color="#e1e1ff"/><stop offset=".5465" stop-color="#e7e7ff"/><stop offset=".6157" stop-color="#fff"/><stop offset=".6556" stop-color="#fffbfb"/><stop offset=".6928" stop-color="#ffe0e0"/><stop offset=".754" stop-color="#ffc4c4"/><stop offset=".7806" stop-color="#ffa9a9"/><stop offset=".8152" stop-color="#ff7a7a"/><stop offset=".8391" stop-color="#ff6c6c"/><stop offset=".879" stop-color="#ff7070"/><stop offset=".9535" stop-color="#ff8989"/><stop offset="1" stop-color="#ff8c8c"/></linearGradient><linearGradient id="h041" x2="0" y2="1"><stop offset="0" stop-color="#33f"/><stop offset=".1263" stop-color="#33f"/><stop offset=".129" stop-color="#4343ff"/><stop offset=".2327" stop-color="#5353ff"/><stop offset=".2912" stop-color="#7373ff"/><stop offset=".363" stop-color="#a6a6ff"/><stop offset=".4588" stop-color="#dadaff"/><stop offset=".5492" stop-color="#f4f4ff"/><stop offset=".6343" stop-color="#fff"/><stop offset=".6556" stop-color="#fffafa"/><stop offset=".6928" stop-color="#ffd7d7"/><stop offset=".7407" stop-color="#fbb"/><stop offset=".8072" stop-color="#ff7272"/><stop offset=".8364" stop-color="#ff6c6c"/><stop offset=".9269" stop-color="#f88"/><stop offset="1" stop-color="#ff8686"/></linearGradient><linearGradient id="h042" x2="0" y2="1"><stop offset="0" stop-color="#33f"/><stop offset=".1263" stop-color="#33f"/><stop offset=".129" stop-color="#4343ff"/><stop offset=".2354" stop-color="#5656ff"/><stop offset=".2912" stop-color="#77f"/><stop offset=".4455" stop-color="#e9e9ff"/><stop offset=".4827" stop-color="#f5f5ff"/><stop offset=".5625" stop-color="#f9f9ff"/><stop offset=".6449" stop-color="#fffefe"/><stop offset=".6636" stop-color="#ffefef"/><stop offset=".6928" stop-color="#ffcece"/><stop offset=".7407" stop-color="#ffacac"/><stop offset=".7965" stop-color="#ff7373"/><stop offset=".8258" stop-color="#ff6c6c"/><stop offset=".9082" stop-color="#ff8787"/><stop offset=".9588" stop-color="#ff8484"/><stop offset="1" stop-color="#ff6a6a"/></linearGradient><linearGradient id="h043" x2="0" y2="1"><stop offset="0" stop-color="#33f"/><stop offset=".1263" stop-color="#33f"/><stop offset=".129" stop-color="#4343ff"/><stop offset=".2434" stop-color="#5b5bff"/><stop offset=".3311" stop-color="#9d9dff"/><stop offset=".3923" stop-color="#d0d0ff"/><stop offset=".4402" stop-color="#e0e0ff"/><stop offset=".5891" stop-color="#fff"/><stop offset=".6503" stop-color="#fffcfc"/><stop offset=".6955" stop-color="#ffc8c8"/><stop offset=".7434" stop-color="#ffa2a2"/><stop offset=".7912" stop-color="#ff7373"/><stop offset=".8205" stop-color="#ff6d6d"/><stop offset=".9029" stop-color="#ff8787"/><stop offset=".9481" stop-color="#ff8181"/><stop offset="1" stop-color="#ff5b5b"/></linearGradient><linearGradient id="h044" x2="0" y2="1"><stop offset="0" stop-color="#33f"/><stop offset=".1263" stop-color="#33f"/><stop offset=".129" stop-color="#4646ff"/><stop offset=".2513" stop-color="#6868ff"/><stop offset=".3285" stop-color="#adadff"/><stop offset=".3737" stop-color="#c0c0ff"/><stop offset=".4721" stop-color="#dedeff"/><stop offset=".5731" stop-color="#fdfdff"/><stop offset=".6449" stop-color="#fffdfd"/><stop offset=".6662" stop-color="#ffeaea"/><stop offset=".6955" stop-color="#ffcaca"/><stop offset=".7434" stop-color="#ffa3a3"/><stop offset=".7886" stop-color="#ff7878"/><stop offset=".8205" stop-color="#ff7171"/><stop offset=".8976" stop-color="#ff8585"/><stop offset=".9348" stop-color="#ff7b7b"/><stop offset=".988" stop-color="#ff5656"/><stop offset="1" stop-color="#ff5454"/></linearGradient><linearGradient id="h045" x2="0" y2="1"><stop offset="0" stop-color="#33f"/><stop offset=".1263" stop-color="#33f"/><stop offset=".129" stop-color="#4949ff"/><stop offset=".1503" stop-color="#55f"/><stop offset=".2513" stop-color="#6f6fff"/><stop offset=".3125" stop-color="#a1a1ff"/><stop offset=".4109" stop-color="#c3c3ff"/><stop offset=".5545" stop-color="#fbfbff"/><stop offset=".6423" stop-color="#fffcfc"/><stop offset=".6636" stop-color="#ffeded"/><stop offset=".6981" stop-color="#ffcbcb"/><stop offset=".8045" stop-color="#ff8585"/><stop offset=".8418" stop-color="#ff8080"/><stop offset=".8949" stop-color="#ff8282"/><stop offset=".9295" stop-color="#ff6f6f"/><stop offset=".9668" stop-color="#ff5656"/><stop offset=".996" stop-color="#ff5d5d"/><stop offset="1" stop-color="#ff5e5e"/></linearGradient><linearGradient id="h046" x2="0" y2="1"><stop offset="0" stop-color="#33f"/><stop offset=".1263" stop-color="#33f"/><stop offset=".129" stop-color="#4a4aff"/><stop offset=".1476" stop-color="#5858ff"/><stop offset=".254" stop-color="#7474ff"/><stop offset=".3231" stop-color="#9d9dff"/><stop offset=".5226" stop-color="#f7f7ff"/><stop offset=".5412" stop-color="#fffefe"/><stop offset=".5811" stop-color="#fffcfc"/><stop offset=".6396" stop-color="#fffcfc"/><stop offset=".6636" stop-color="#ffeded"/><stop offset=".6981" stop-color="#ffcdcd"/><stop offset=".8231" stop-color="#ff8686"/><stop offset=".8923" stop-color="#ff7e7e"/><stop offset=".9535" stop-color="#ff5656"/><stop offset=".9801" stop-color="#ff5c5c"/><stop offset="1" stop-color="#ff6767"/></linearGradient><linearGradient id="h047" x2="0" y2="1"><stop offset="0" stop-color="#33f"/><stop offset=".1263" stop-color="#33f"/><stop offset=".129" stop-color="#4b4bff"/><stop offset=".1449" stop-color="#5a5aff"/><stop offset=".2566" stop-color="#7878ff"/><stop offset=".4322" stop-color="#cdcdff"/><stop offset=".504" stop-color="#f1f1ff"/><stop offset=".5226" stop-color="#fffefe"/><stop offset=".5519" stop-color="#ffefef"/><stop offset=".621" stop-color="#fffefe"/><stop offset=".6556" stop-color="#fff4f4"/><stop offset=".6981" stop-color="#ffcfcf"/><stop offset=".8338" stop-color="#ff8787"/><stop offset=".8843" stop-color="#ff7e7e"/><stop offset=".9428" stop-color="#ff5656"/><stop offset=".9668" stop-color="#ff5a5a"/><stop offset="1" stop-color="#ff6e6e"/></linearGradient><linearGradient id="h048" x2="0" y2="1"><stop offset="0" stop-color="#33f"/><stop offset=".1263" stop-color="#33f"/><stop offset=".129" stop-color="#4d4dff"/><stop offset=".1449" stop-color="#5d5dff"/><stop offset=".2593" stop-color="#7c7cff"/><stop offset=".4854" stop-color="#e8e8ff"/><stop offset=".512" stop-color="#fffefe"/><stop offset=".5412" stop-color="#ffe4e4"/><stop offset=".5678" stop-color="#ffe5e5"/><stop offset=".6104" stop-color="#fffdfd"/><stop offset=".6476" stop-color="#fff8f8"/><stop offset=".7035" stop-color="#ffcdcd"/><stop offset=".8152" stop-color="#ff9090"/><stop offset=".8551" stop-color="#ff8484"/><stop offset=".8923" stop-color="#ff7373"/><stop offset=".9322" stop-color="#ff5656"/><stop offset=".9561" stop-color="#ff5959"/><stop offset="1" stop-color="#ff7474"/></linearGradient><linearGradient id="h049" x2="0" y2="1"><stop offset="0" stop-color="#33f"/><stop offset=".1263" stop-color="#33f"/><stop offset=".129" stop-color="#4d4dff"/><stop offset=".1449" stop-color="#5f5fff"/><stop offset=".262" stop-color="#7f7fff"/><stop offset=".4694" stop-color="#e1e1ff"/><stop offset=".504" stop-color="#fff"/><stop offset=".5359" stop-color="#ffe1e1"/><stop offset=".5652" stop-color="#ffdede"/><stop offset=".613" stop-color="#fffcfc"/><stop offset=".6476" stop-color="#fff8f8"/><stop offset=".7061" stop-color="#fcc"/><stop offset=".8045" stop-color="#ff9797"/><stop offset=".8391" stop-color="#ff8686"/><stop offset=".879" stop-color="#f77"/><stop offset=".9242" stop-color="#ff5656"/><stop offset=".9481" stop-color="#ff5959"/><stop offset=".9987" stop-color="#f77"/><stop offset="1" stop-color="#f77"/></linearGradient><linearGradient id="h050" x2="0" y2="1"><stop offset="0" stop-color="#33f"/><stop offset=".1263" stop-color="#33f"/><stop offset=".129" stop-color="#4e4eff"/><stop offset=".1423" stop-color="#6060ff"/><stop offset=".2646" stop-color="#8383ff"/><stop offset=".4535" stop-color="#dadaff"/><stop offset=".4934" stop-color="#fffefe"/><stop offset=".5306" stop-color="#ffe1e1"/><stop offset=".5705" stop-color="#ffdede"/><stop offset=".6104" stop-color="#fffbfb"/><stop offset=".6423" stop-color="#fffafa"/><stop offset=".6822" stop-color="#ffdcdc"/><stop offset=".8098" stop-color="#ff9494"/><stop offset=".8471" stop-color="#ff8383"/><stop offset=".887" stop-color="#ff6b6b"/><stop offset=".9189" stop-color="#ff5656"/><stop offset=".9455" stop-color="#ff5c5c"/><stop offset=".9934" stop-color="#ff7878"/><stop offset="1" stop-color="#ff7979"/></linearGradient><linearGradient id="h051" x2="0" y2="1"><stop offset="0" stop-color="#33f"/><stop offset=".1263" stop-color="#33f"/><stop offset=".129" stop-color="#4f4fff"/><stop offset=".1423" stop-color="#6262ff"/><stop offset=".2673" stop-color="#8585ff"/><stop offset=".4481" stop-color="#d7d7ff"/><stop offset=".4827" stop-color="#fff"/><stop offset=".5253" stop-color="#ffe2e2"/><stop offset=".5705" stop-color="#ffdede"/><stop offset=".6104" stop-color="#fffbfb"/><stop offset=".6423" stop-color="#fff9f9"/><stop offset=".7168" stop-color="#ffc8c8"/><stop offset=".8019" stop-color="#f99"/><stop offset=".8418" stop-color="#ff8383"/><stop offset=".8816" stop-color="#ff6b6b"/><stop offset=".9136" stop-color="#ff5656"/><stop offset=".9402" stop-color="#ff5b5b"/><stop offset=".988" stop-color="#ff7878"/><stop offset="1" stop-color="#ff7a7a"/></linearGradient><linearGradient id="h052" x2="0" y2="1"><stop offset="0" stop-color="#33f"/><stop offset=".1263" stop-color="#33f"/><stop offset=".129" stop-color="#5050ff"/><stop offset=".1423" stop-color="#6363ff"/><stop offset=".2699" stop-color="#88f"/><stop offset=".4428" stop-color="#d4d4ff"/><stop offset=".4641" stop-color="#eef"/><stop offset=".4747" stop-color="#fff"/><stop offset=".4987" stop-color="#ffecec"/><stop offset=".5598" stop-color="#fdd"/><stop offset=".5838" stop-color="#ffe9e9"/><stop offset=".613" stop-color="#fffcfc"/><stop offset=".6449" stop-color="#fff8f8"/><stop offset=".7168" stop-color="#ffc8c8"/><stop offset=".7992" stop-color="#ff9b9b"/><stop offset=".8471" stop-color="#ff7f7f"/><stop offset=".9082" stop-color="#ff5656"/><stop offset=".9348" stop-color="#ff5b5b"/><stop offset=".9827" stop-color="#ff7878"/><stop offset="1" stop-color="#ff7b7b"/></linearGradient><linearGradient id="h053" x2="0" y2="1"><stop offset="0" stop-color="#33f"/><stop offset=".1263" stop-color="#33f"/><stop offset=".129" stop-color="#5151ff"/><stop offset=".1423" stop-color="#6767ff"/><stop offset=".2832" stop-color="#9090ff"/><stop offset=".4402" stop-color="#d2d2ff"/><stop offset=".4614" stop-color="#ebebff"/><stop offset=".4721" stop-color="#fdfdff"/><stop offset=".4907" stop-color="#fff2f2"/><stop offset=".5306" stop-color="#ffeaea"/><stop offset=".5598" stop-color="#ffe5e5"/><stop offset=".6104" stop-color="#fffefe"/><stop offset=".6449" stop-color="#fff8f8"/><stop offset=".7301" stop-color="#ffc2c2"/><stop offset=".8045" stop-color="#ff9797"/><stop offset=".8684" stop-color="#ff6969"/><stop offset=".8976" stop-color="#f55"/><stop offset=".9242" stop-color="#ff5c5c"/><stop offset=".9721" stop-color="#ff7878"/><stop offset="1" stop-color="#ff7c7c"/></linearGradient><linearGradient id="h054" x2="0" y2="1"><stop offset="0" stop-color="#33f"/><stop offset=".1263" stop-color="#33f"/><stop offset=".129" stop-color="#5252ff"/><stop offset=".1423" stop-color="#6868ff"/><stop offset=".2912" stop-color="#9494ff"/><stop offset=".4428" stop-color="#d4d4ff"/><stop offset=".4694" stop-color="#f2f2ff"/><stop offset=".4801" stop-color="#fff"/><stop offset=".5306" stop-color="#fff2f2"/><stop offset=".5598" stop-color="#ffecec"/><stop offset=".6104" stop-color="#fff"/><stop offset=".6476" stop-color="#fff6f6"/><stop offset=".7327" stop-color="#ffc1c1"/><stop offset=".8045" stop-color="#ff9696"/><stop offset=".8657" stop-color="#ff6a6a"/><stop offset=".8923" stop-color="#ff5656"/><stop offset=".9162" stop-color="#ff5a5a"/><stop offset=".9641" stop-color="#f77"/><stop offset="1" stop-color="#ff7c7c"/></linearGradient><linearGradient id="h055" x2="0" y2="1"><stop offset="0" stop-color="#33f"/><stop offset=".1263" stop-color="#33f"/><stop offset=".129" stop-color="#5252ff"/><stop offset=".1423" stop-color="#6a6aff"/><stop offset=".3045" stop-color="#9a9aff"/><stop offset=".4481" stop-color="#d6d6ff"/><stop offset=".4854" stop-color="#f7f7ff"/><stop offset=".5226" stop-color="#fffdfd"/><stop offset=".5572" stop-color="#fff3f3"/><stop offset=".6077" stop-color="#fefeff"/><stop offset=".6396" stop-color="#fffafa"/><stop offset=".754" stop-color="#ffb6b6"/><stop offset=".8604" stop-color="#ff6d6d"/><stop offset=".8896" stop-color="#ff5656"/><stop offset=".9109" stop-color="#ff5959"/><stop offset=".9588" stop-color="#f77"/><stop offset="1" stop-color="#ff7c7c"/></linearGradient><linearGradient id="h056" x2="0" y2="1"><stop offset="0" stop-color="#33f"/><stop offset=".1263" stop-color="#33f"/><stop offset=".129" stop-color="#5353ff"/><stop offset=".1423" stop-color="#6c6cff"/><stop offset=".3311" stop-color="#a5a5ff"/><stop offset=".4641" stop-color="#dedeff"/><stop offset=".5066" stop-color="#f0f0ff"/><stop offset=".5465" stop-color="#fffefe"/><stop offset=".6343" stop-color="#fffcfc"/><stop offset=".7992" stop-color="#ff9a9a"/><stop offset=".8684" stop-color="#ff6464"/><stop offset=".8923" stop-color="#ff5454"/><stop offset=".9162" stop-color="#ff5e5e"/><stop offset=".9535" stop-color="#f77"/><stop offset="1" stop-color="#ff7b7b"/></linearGradient><linearGradient id="h057" x2="0" y2="1"><stop offset="0" stop-color="#33f"/><stop offset=".1263" stop-color="#33f"/><stop offset=".129" stop-color="#5353ff"/><stop offset=".1423" stop-color="#6b6bff"/><stop offset=".3577" stop-color="#adadff"/><stop offset=".5439" stop-color="#f2f2ff"/><stop offset=".629" stop-color="#fffdfd"/><stop offset=".7779" stop-color="#ffa9a9"/><stop offset=".8816" stop-color="#ff5454"/><stop offset=".9029" stop-color="#ff5757"/><stop offset=".9481" stop-color="#ff7575"/><stop offset="1" stop-color="#ff7979"/></linearGradient><linearGradient id="h058" x2="0" y2="1"><stop offset="0" stop-color="#33f"/><stop offset=".1263" stop-color="#33f"/><stop offset=".129" stop-color="#5050ff"/><stop offset=".1423" stop-color="#6565ff"/><stop offset=".2646" stop-color="#8989ff"/><stop offset=".4641" stop-color="#d5d5ff"/><stop offset=".5386" stop-color="#fefeff"/><stop offset=".5918" stop-color="#fff"/><stop offset=".6556" stop-color="#fff1f1"/><stop offset=".7593" stop-color="#ffb9b9"/><stop offset=".8737" stop-color="#f55"/><stop offset=".8976" stop-color="#f55"/><stop offset=".9481" stop-color="#ff7272"/><stop offset="1" stop-color="#ff7878"/></linearGradient><linearGradient id="h059" x2="0" y2="1"><stop offset="0" stop-color="#33f"/><stop offset=".1263" stop-color="#33f"/><stop offset=".129" stop-color="#4f4fff"/><stop offset=".1423" stop-color="#6363ff"/><stop offset=".2513" stop-color="#8282ff"/><stop offset=".4535" stop-color="#d1d1ff"/><stop offset=".5013" stop-color="#efefff"/><stop offset=".5199" stop-color="#fffefe"/><stop offset=".5412" stop-color="#fff6f6"/><stop offset=".5785" stop-color="#fffefe"/><stop offset=".6263" stop-color="#fff6f6"/><stop offset=".6689" stop-color="#ffebeb"/><stop offset=".7566" stop-color="#ffbcbc"/><stop offset=".8737" stop-color="#ff5454"/><stop offset=".8976" stop-color="#ff5454"/><stop offset=".9508" stop-color="#ff7171"/><stop offset="1" stop-color="#f77"/></linearGradient><linearGradient id="h060" x2="0" y2="1"><stop offset="0" stop-color="#33f"/><stop offset=".1263" stop-color="#33f"/><stop offset=".129" stop-color="#4f4fff"/><stop offset=".1423" stop-color="#6161ff"/><stop offset=".2434" stop-color="#7d7dff"/><stop offset=".4455" stop-color="#cdcdff"/><stop offset=".488" stop-color="#ebebff"/><stop offset=".5066" stop-color="#fefeff"/><stop offset=".5332" stop-color="#ffecec"/><stop offset=".5758" stop-color="#fff9f9"/><stop offset=".613" stop-color="#fee"/><stop offset=".6529" stop-color="#fff1f1"/><stop offset=".7513" stop-color="#ffc2c2"/><stop offset=".871" stop-color="#ff5454"/><stop offset=".8949" stop-color="#ff5353"/><stop offset=".9508" stop-color="#ff7070"/><stop offset="1" stop-color="#f77"/></linearGradient><linearGradient id="h061" x2="0" y2="1"><stop offset="0" stop-color="#33f"/><stop offset=".1263" stop-color="#33f"/><stop offset=".129" stop-color="#4e4eff"/><stop offset=".1423" stop-color="#6060ff"/><stop offset=".2407" stop-color="#7b7bff"/><stop offset=".4375" stop-color="#c9c9ff"/><stop offset=".4774" stop-color="#e6e6ff"/><stop offset=".5013" stop-color="#fffefe"/><stop offset=".5279" stop-color="#ffeaea"/><stop offset=".5519" stop-color="#fff0f0"/><stop offset=".5731" stop-color="#fff6f6"/><stop offset=".6104" stop-color="#ffe8e8"/><stop offset=".6529" stop-color="#fff0f0"/><stop offset=".7513" stop-color="#ffc2c2"/><stop offset=".871" stop-color="#ff5454"/><stop offset=".8949" stop-color="#ff5353"/><stop offset=".9535" stop-color="#ff7070"/><stop offset="1" stop-color="#ff7676"/></linearGradient><linearGradient id="h062" x2="0" y2="1"><stop offset="0" stop-color="#33f"/><stop offset=".1263" stop-color="#33f"/><stop offset=".129" stop-color="#4e4eff"/><stop offset=".1449" stop-color="#6060ff"/><stop offset=".2354" stop-color="#77f"/><stop offset=".4295" stop-color="#c5c5ff"/><stop offset=".4694" stop-color="#e3e3ff"/><stop offset=".4934" stop-color="#fff"/><stop offset=".5199" stop-color="#ffeaea"/><stop offset=".5439" stop-color="#ffeded"/><stop offset=".5705" stop-color="#fff4f4"/><stop offset=".6077" stop-color="#ffe1e1"/><stop offset=".6503" stop-color="#fff0f0"/><stop offset=".7274" stop-color="#ffd1d1"/><stop offset=".762" stop-color="#ffbaba"/><stop offset=".871" stop-color="#ff5454"/><stop offset=".8949" stop-color="#ff5252"/><stop offset=".9535" stop-color="#ff6f6f"/><stop offset="1" stop-color="#ff7676"/></linearGradient><linearGradient id="h063" x2="0" y2="1"><stop offset="0" stop-color="#33f"/><stop offset=".1263" stop-color="#33f"/><stop offset=".129" stop-color="#4d4dff"/><stop offset=".1449" stop-color="#5f5fff"/><stop offset=".2327" stop-color="#7575ff"/><stop offset=".4242" stop-color="#c3c3ff"/><stop offset=".4614" stop-color="#e1e1ff"/><stop offset=".4854" stop-color="#fff"/><stop offset=".5093" stop-color="#ffebeb"/><stop offset=".5359" stop-color="#ffecec"/><stop offset=".5652" stop-color="#fff4f4"/><stop offset=".6051" stop-color="#ffdbdb"/><stop offset=".6316" stop-color="#ffe8e8"/><stop offset=".6582" stop-color="#ffefef"/><stop offset=".7487" stop-color="#ffc6c6"/><stop offset=".871" stop-color="#ff5353"/><stop offset=".8976" stop-color="#ff5353"/><stop offset=".9561" stop-color="#ff6f6f"/><stop offset="1" stop-color="#ff7676"/></linearGradient><linearGradient id="h064" x2="0" y2="1"><stop offset="0" stop-color="#33f"/><stop offset=".1263" stop-color="#33f"/><stop offset=".129" stop-color="#4c4cff"/><stop offset=".1449" stop-color="#5d5dff"/><stop offset=".2301" stop-color="#7272ff"/><stop offset=".4136" stop-color="#bdbdff"/><stop offset=".4481" stop-color="#dcdcff"/><stop offset=".4747" stop-color="#fff"/><stop offset=".4987" stop-color="#ffebeb"/><stop offset=".5332" stop-color="#fff2f2"/><stop offset=".5625" stop-color="#fff6f6"/><stop offset=".6024" stop-color="#ffd4d4"/><stop offset=".621" stop-color="#ffdbdb"/><stop offset=".6476" stop-color="#fee"/><stop offset=".6795" stop-color="#ffe8e8"/><stop offset=".7487" stop-color="#ffc8c8"/><stop offset=".8684" stop-color="#ff5454"/><stop offset=".8949" stop-color="#ff5151"/><stop offset=".9588" stop-color="#ff6e6e"/><stop offset="1" stop-color="#ff7575"/></linearGradient><linearGradient id="h065" x2="0" y2="1"><stop offset="0" stop-color="#33f"/><stop offset=".1263" stop-color="#33f"/><stop offset=".129" stop-color="#4c4cff"/><stop offset=".1449" stop-color="#5b5bff"/><stop offset=".2274" stop-color="#6f6fff"/><stop offset=".4082" stop-color="#bbf"/><stop offset=".4428" stop-color="#dedeff"/><stop offset=".4668" stop-color="#fff"/><stop offset=".488" stop-color="#ffeded"/><stop offset=".5146" stop-color="#fff1f1"/><stop offset=".5545" stop-color="#fffafa"/><stop offset=".5758" stop-color="#ffecec"/><stop offset=".5997" stop-color="#ffd2d2"/><stop offset=".6157" stop-color="#ffd4d4"/><stop offset=".6476" stop-color="#fee"/><stop offset=".6795" stop-color="#ffe8e8"/><stop offset=".7487" stop-color="#ffc8c8"/><stop offset=".8684" stop-color="#ff5454"/><stop offset=".8949" stop-color="#ff5151"/><stop offset=".9614" stop-color="#ff6e6e"/><stop offset="1" stop-color="#ff7575"/></linearGradient><linearGradient id="h066" x2="0" y2="1"><stop offset="0" stop-color="#33f"/><stop offset=".1263" stop-color="#33f"/><stop offset=".129" stop-color="#4b4bff"/><stop offset=".1449" stop-color="#5a5aff"/><stop offset=".2274" stop-color="#6e6eff"/><stop offset=".4029" stop-color="#b9b9ff"/><stop offset=".4348" stop-color="#dcdcff"/><stop offset=".4588" stop-color="#fff"/><stop offset=".4801" stop-color="#ffeded"/><stop offset=".504" stop-color="#fff2f2"/><stop offset=".5412" stop-color="#fffdfd"/><stop offset=".5652" stop-color="#fff6f6"/><stop offset=".5997" stop-color="#ffd2d2"/><stop offset=".6157" stop-color="#ffd4d4"/><stop offset=".6476" stop-color="#fee"/><stop offset=".6769" stop-color="#ffeaea"/><stop offset=".7487" stop-color="#ffc9c9"/><stop offset=".8657" stop-color="#f55"/><stop offset=".8923" stop-color="#ff5050"/><stop offset=".9641" stop-color="#ff6e6e"/><stop offset="1" stop-color="#ff7474"/></linearGradient><linearGradient id="h067" x2="0" y2="1"><stop offset="0" stop-color="#33f"/><stop offset=".1263" stop-color="#33f"/><stop offset=".129" stop-color="#4b4bff"/><stop offset=".1476" stop-color="#5a5aff"/><stop offset=".2247" stop-color="#6b6bff"/><stop offset=".3949" stop-color="#b6b6ff"/><stop offset=".4242" stop-color="#d6d6ff"/><stop offset=".4508" stop-color="#fff"/><stop offset=".4721" stop-color="#fee"/><stop offset=".496" stop-color="#fff4f4"/><stop offset=".5199" stop-color="#fefeff"/><stop offset=".5572" stop-color="#fffbfb"/><stop offset=".5838" stop-color="#ffe3e3"/><stop offset=".6024" stop-color="#ffd3d3"/><stop offset=".621" stop-color="#ffdbdb"/><stop offset=".6476" stop-color="#fff0f0"/><stop offset=".6769" stop-color="#ffebeb"/><stop offset=".7487" stop-color="#ffcaca"/><stop offset=".8604" stop-color="#ff5858"/><stop offset=".8843" stop-color="#ff4f4f"/><stop offset=".9215" stop-color="#ff5d5d"/><stop offset=".9801" stop-color="#ff7171"/><stop offset="1" stop-color="#ff7474"/></linearGradient><linearGradient id="h068" x2="0" y2="1"><stop offset="0" stop-color="#33f"/><stop offset=".1263" stop-color="#33f"/><stop offset=".129" stop-color="#4a4aff"/><stop offset=".1476" stop-color="#5858ff"/><stop offset=".2247" stop-color="#6a6aff"/><stop offset=".387" stop-color="#b2b2ff"/><stop offset=".4136" stop-color="#d0d0ff"/><stop offset=".4428" stop-color="#fff"/><stop offset=".4641" stop-color="#fee"/><stop offset=".488" stop-color="#fff6f6"/><stop offset=".504" stop-color="#fdfdff"/><stop offset=".5306" stop-color="#fbfbff"/><stop offset=".5572" stop-color="#fffcfc"/><stop offset=".6024" stop-color="#ffd8d8"/><stop offset=".621" stop-color="#ffdfdf"/><stop offset=".6476" stop-color="#fff3f3"/><stop offset=".6769" stop-color="#ffeded"/><stop offset=".7487" stop-color="#ffcbcb"/><stop offset=".8551" stop-color="#ff5c5c"/><stop offset=".879" stop-color="#ff4f4f"/><stop offset=".9109" stop-color="#ff5656"/><stop offset=".9694" stop-color="#ff6e6e"/><stop offset="1" stop-color="#ff7474"/></linearGradient><linearGradient id="h069" x2="0" y2="1"><stop offset="0" stop-color="#33f"/><stop offset=".1263" stop-color="#33f"/><stop offset=".129" stop-color="#4a4aff"/><stop offset=".1476" stop-color="#5757ff"/><stop offset=".2221" stop-color="#6767ff"/><stop offset=".379" stop-color="#aeaeff"/><stop offset=".4056" stop-color="#ceceff"/><stop offset=".4348" stop-color="#fff"/><stop offset=".4535" stop-color="#ffefef"/><stop offset=".4747" stop-color="#fff5f5"/><stop offset=".488" stop-color="#fff"/><stop offset=".5146" stop-color="#f4f4ff"/><stop offset=".5545" stop-color="#fffefe"/><stop offset=".6024" stop-color="#ffdede"/><stop offset=".621" stop-color="#ffe5e5"/><stop offset=".6476" stop-color="#fff7f7"/><stop offset=".6742" stop-color="#fff0f0"/><stop offset=".7487" stop-color="#fcc"/><stop offset=".8364" stop-color="#ff6f6f"/><stop offset=".871" stop-color="#ff5151"/><stop offset=".9029" stop-color="#ff5252"/><stop offset=".9694" stop-color="#ff6d6d"/><stop offset="1" stop-color="#ff7373"/></linearGradient><linearGradient id="h070" x2="0" y2="1"><stop offset="0" stop-color="#33f"/><stop offset=".1263" stop-color="#33f"/><stop offset=".129" stop-color="#4949ff"/><stop offset=".1503" stop-color="#5656ff"/><stop offset=".2221" stop-color="#66f"/><stop offset=".3737" stop-color="#ababff"/><stop offset=".3949" stop-color="#c6c6ff"/><stop offset=".4269" stop-color="#fff"/><stop offset=".4455" stop-color="#fff0f0"/><stop offset=".4668" stop-color="#fff7f7"/><stop offset=".4774" stop-color="#fefeff"/><stop offset=".504" stop-color="#f0f0ff"/><stop offset=".5545" stop-color="#fffefe"/><stop offset=".6051" stop-color="#ffe4e4"/><stop offset=".629" stop-color="#fff2f2"/><stop offset=".6529" stop-color="#fffefe"/><stop offset=".7301" stop-color="#ffd8d8"/><stop offset=".754" stop-color="#ffc7c7"/><stop offset=".8205" stop-color="#ff7f7f"/><stop offset=".8684" stop-color="#ff5252"/><stop offset=".9003" stop-color="#ff5050"/><stop offset=".9747" stop-color="#ff6e6e"/><stop offset="1" stop-color="#ff7373"/></linearGradient><linearGradient id="h071" x2="0" y2="1"><stop offset="0" stop-color="#33f"/><stop offset=".1263" stop-color="#33f"/><stop offset=".129" stop-color="#4949ff"/><stop offset=".1503" stop-color="#55f"/><stop offset=".2221" stop-color="#6464ff"/><stop offset=".371" stop-color="#aaf"/><stop offset=".3896" stop-color="#c3c3ff"/><stop offset=".4189" stop-color="#fefeff"/><stop offset=".4375" stop-color="#fff0f0"/><stop offset=".4588" stop-color="#fffafa"/><stop offset=".4668" stop-color="#fdfdff"/><stop offset=".4934" stop-color="#ececff"/><stop offset=".5199" stop-color="#f1f1ff"/><stop offset=".5545" stop-color="#fffefe"/><stop offset=".6051" stop-color="#ffebeb"/><stop offset=".629" stop-color="#fff8f8"/><stop offset=".6396" stop-color="#fefeff"/><stop offset=".6582" stop-color="#fbfbff"/><stop offset=".6689" stop-color="#fffcfc"/><stop offset=".7114" stop-color="#ffe0e0"/><stop offset=".7487" stop-color="#ffcece"/><stop offset=".8178" stop-color="#ff8181"/><stop offset=".8657" stop-color="#ff5353"/><stop offset=".8949" stop-color="#ff4f4f"/><stop offset=".9854" stop-color="#ff7070"/><stop offset="1" stop-color="#ff7272"/></linearGradient><linearGradient id="h072" x2="0" y2="1"><stop offset="0" stop-color="#33f"/><stop offset=".1263" stop-color="#33f"/><stop offset=".129" stop-color="#4848ff"/><stop offset=".1529" stop-color="#55f"/><stop offset=".2221" stop-color="#6464ff"/><stop offset=".371" stop-color="#aaf"/><stop offset=".3896" stop-color="#c6c6ff"/><stop offset=".4136" stop-color="#fbfbff"/><stop offset=".4162" stop-color="#fff"/><stop offset=".4322" stop-color="#fff1f1"/><stop offset=".4508" stop-color="#fff8f8"/><stop offset=".4588" stop-color="#fff"/><stop offset=".488" stop-color="#eaeaff"/><stop offset=".5146" stop-color="#ededff"/><stop offset=".5492" stop-color="#fefeff"/><stop offset=".6077" stop-color="#fee"/><stop offset=".6343" stop-color="#fff"/><stop offset=".6556" stop-color="#f7f7ff"/><stop offset=".6689" stop-color="#fff"/><stop offset=".7088" stop-color="#ffe2e2"/><stop offset=".7487" stop-color="#ffcece"/><stop offset=".8152" stop-color="#ff8383"/><stop offset=".8657" stop-color="#ff5353"/><stop offset=".8949" stop-color="#ff4e4e"/><stop offset=".988" stop-color="#ff7070"/><stop offset="1" stop-color="#ff7272"/></linearGradient><linearGradient id="h073" x2="0" y2="1"><stop offset="0" stop-color="#33f"/><stop offset=".1263" stop-color="#33f"/><stop offset=".129" stop-color="#4848ff"/><stop offset=".1529" stop-color="#5454ff"/><stop offset=".2221" stop-color="#6363ff"/><stop offset=".3684" stop-color="#a8a8ff"/><stop offset=".387" stop-color="#c2c2ff"/><stop offset=".4136" stop-color="#fff"/><stop offset=".4269" stop-color="#fff2f2"/><stop offset=".4455" stop-color="#fff8f8"/><stop offset=".4535" stop-color="#fff"/><stop offset=".4827" stop-color="#e8e8ff"/><stop offset=".512" stop-color="#ebebff"/><stop offset=".5465" stop-color="#fdfdff"/><stop offset=".6077" stop-color="#fff1f1"/><stop offset=".6316" stop-color="#fff"/><stop offset=".6529" stop-color="#f5f5ff"/><stop offset=".6715" stop-color="#fff"/><stop offset=".7114" stop-color="#ffe1e1"/><stop offset=".7487" stop-color="#ffcfcf"/><stop offset=".8152" stop-color="#ff8383"/><stop offset=".8657" stop-color="#ff5252"/><stop offset=".8976" stop-color="#ff4f4f"/><stop offset=".988" stop-color="#ff7070"/><stop offset="1" stop-color="#ff7272"/></linearGradient><linearGradient id="h074" x2="0" y2="1"><stop offset="0" stop-color="#33f"/><stop offset=".1263" stop-color="#33f"/><stop offset=".129" stop-color="#4848ff"/><stop offset=".1556" stop-color="#5454ff"/><stop offset=".2221" stop-color="#6262ff"/><stop offset=".3684" stop-color="#a8a8ff"/><stop offset=".3843" stop-color="#bebeff"/><stop offset=".4109" stop-color="#fdfdff"/><stop offset=".4269" stop-color="#fff2f2"/><stop offset=".4481" stop-color="#fff"/><stop offset=".4774" stop-color="#e6e6ff"/><stop offset=".5066" stop-color="#e8e8ff"/><stop offset=".5465" stop-color="#fefeff"/><stop offset=".6104" stop-color="#fff4f4"/><stop offset=".6316" stop-color="#fdfdff"/><stop offset=".6529" stop-color="#f3f3ff"/><stop offset=".6742" stop-color="#fff"/><stop offset=".7114" stop-color="#ffe2e2"/><stop offset=".7487" stop-color="#ffcfcf"/><stop offset=".8152" stop-color="#ff8383"/><stop offset=".8657" stop-color="#ff5252"/><stop offset=".8976" stop-color="#ff4e4e"/><stop offset=".9907" stop-color="#ff7070"/><stop offset="1" stop-color="#ff7272"/></linearGradient><linearGradient id="h075" x2="0" y2="1"><stop offset="0" stop-color="#33f"/><stop offset=".1263" stop-color="#33f"/><stop offset=".129" stop-color="#4848ff"/><stop offset=".1556" stop-color="#5353ff"/><stop offset=".2194" stop-color="#6060ff"/><stop offset=".3684" stop-color="#a7a7ff"/><stop offset=".3843" stop-color="#bebeff"/><stop offset=".4109" stop-color="#fefeff"/><stop offset=".4242" stop-color="#fff4f4"/><stop offset=".4428" stop-color="#fff"/><stop offset=".4721" stop-color="#e4e4ff"/><stop offset=".4987" stop-color="#e4e4ff"/><stop offset=".5465" stop-color="#fefeff"/><stop offset=".6104" stop-color="#fff6f6"/><stop offset=".629" stop-color="#fefeff"/><stop offset=".6529" stop-color="#f1f1ff"/><stop offset=".6769" stop-color="#fff"/><stop offset=".7141" stop-color="#ffe2e2"/><stop offset=".7487" stop-color="#ffcfcf"/><stop offset=".8125" stop-color="#ff8585"/><stop offset=".8657" stop-color="#ff5252"/><stop offset=".8976" stop-color="#ff4e4e"/><stop offset=".9934" stop-color="#ff7171"/><stop offset="1" stop-color="#ff7272"/></linearGradient><linearGradient id="h076" x2="0" y2="1"><stop offset="0" stop-color="#33f"/><stop offset=".1263" stop-color="#33f"/><stop offset=".129" stop-color="#4747ff"/><stop offset=".1582" stop-color="#5353ff"/><stop offset=".2194" stop-color="#5f5fff"/><stop offset=".3684" stop-color="#a7a7ff"/><stop offset=".3843" stop-color="#bdbdff"/><stop offset=".4109" stop-color="#fcfcff"/><stop offset=".4269" stop-color="#fff8f8"/><stop offset=".4375" stop-color="#fefeff"/><stop offset=".4694" stop-color="#e2e2ff"/><stop offset=".496" stop-color="#e2e2ff"/><stop offset=".5439" stop-color="#fdfdff"/><stop offset=".613" stop-color="#fff8f8"/><stop offset=".629" stop-color="#fefeff"/><stop offset=".6556" stop-color="#f1f1ff"/><stop offset=".6795" stop-color="#fffefe"/><stop offset=".7168" stop-color="#ffe1e1"/><stop offset=".7487" stop-color="#ffd0d0"/><stop offset=".8125" stop-color="#ff8585"/><stop offset=".8657" stop-color="#ff5252"/><stop offset=".8976" stop-color="#ff4e4e"/><stop offset=".996" stop-color="#ff7171"/><stop offset="1" stop-color="#ff7272"/></linearGradient><linearGradient id="h077" x2="0" y2="1"><stop offset="0" stop-color="#33f"/><stop offset=".1263" stop-color="#33f"/><stop offset=".129" stop-color="#4747ff"/><stop offset=".1609" stop-color="#5353ff"/><stop offset=".2194" stop-color="#5f5fff"/><stop offset=".371" stop-color="#a9a9ff"/><stop offset=".387" stop-color="#c1c1ff"/><stop offset=".4109" stop-color="#f9f9ff"/><stop offset=".4162" stop-color="#fff"/><stop offset=".4348" stop-color="#fbfbff"/><stop offset=".4641" stop-color="#e0e0ff"/><stop offset=".4907" stop-color="#dfdfff"/><stop offset=".5439" stop-color="#fdfdff"/><stop offset=".6157" stop-color="#fffafa"/><stop offset=".629" stop-color="#fefeff"/><stop offset=".6556" stop-color="#f0f0ff"/><stop offset=".6769" stop-color="#fbfbff"/><stop offset=".6848" stop-color="#fffbfb"/><stop offset=".7194" stop-color="#ffe1e1"/><stop offset=".7487" stop-color="#ffd0d0"/><stop offset=".8125" stop-color="#ff8585"/><stop offset=".8657" stop-color="#ff5252"/><stop offset=".9003" stop-color="#ff4e4e"/><stop offset=".996" stop-color="#ff7171"/><stop offset="1" stop-color="#ff7171"/></linearGradient><linearGradient id="h078" x2="0" y2="1"><stop offset="0" stop-color="#33f"/><stop offset=".1263" stop-color="#33f"/><stop offset=".129" stop-color="#4646ff"/><stop offset=".1689" stop-color="#5353ff"/><stop offset=".2194" stop-color="#5d5dff"/><stop offset=".371" stop-color="#a7a7ff"/><stop offset=".3896" stop-color="#c1c1ff"/><stop offset=".4136" stop-color="#efefff"/><stop offset=".4269" stop-color="#f3f3ff"/><stop offset=".4614" stop-color="#d9d9ff"/><stop offset=".488" stop-color="#dcdcff"/><stop offset=".5439" stop-color="#fefeff"/><stop offset=".621" stop-color="#fffcfc"/><stop offset=".6343" stop-color="#fcfcff"/><stop offset=".6636" stop-color="#f1f1ff"/><stop offset=".6875" stop-color="#fffdfd"/><stop offset=".7221" stop-color="#ffe1e1"/><stop offset=".7487" stop-color="#ffd1d1"/><stop offset=".8098" stop-color="#ff8787"/><stop offset=".8657" stop-color="#ff5252"/><stop offset=".9003" stop-color="#ff4d4d"/><stop offset=".9987" stop-color="#ff7171"/><stop offset="1" stop-color="#ff7171"/></linearGradient><linearGradient id="h079" x2="0" y2="1"><stop offset="0" stop-color="#33f"/><stop offset=".1263" stop-color="#33f"/><stop offset=".129" stop-color="#4545ff"/><stop offset=".1928" stop-color="#5353ff"/><stop offset=".2301" stop-color="#6060ff"/><stop offset=".3497" stop-color="#99f"/><stop offset=".3843" stop-color="#aeaeff"/><stop offset=".4189" stop-color="#d2d2ff"/><stop offset=".4694" stop-color="#d1d1ff"/><stop offset=".5199" stop-color="#f0f0ff"/><stop offset=".5439" stop-color="#fff"/><stop offset=".6316" stop-color="#fffbfb"/><stop offset=".6449" stop-color="#fdfdff"/><stop offset=".6742" stop-color="#f1f1ff"/><stop offset=".6955" stop-color="#fff"/><stop offset=".7301" stop-color="#ffe1e1"/><stop offset=".754" stop-color="#ffcdcd"/><stop offset=".8072" stop-color="#ff8989"/><stop offset=".8657" stop-color="#ff5151"/><stop offset=".9029" stop-color="#ff4c4c"/><stop offset="1" stop-color="#ff7070"/></linearGradient><linearGradient id="h080" x2="0" y2="1"><stop offset="0" stop-color="#33f"/><stop offset=".1263" stop-color="#33f"/><stop offset=".129" stop-color="#44f"/><stop offset=".2194" stop-color="#5757ff"/><stop offset=".3444" stop-color="#9696ff"/><stop offset=".4029" stop-color="#b2b2ff"/><stop offset=".4481" stop-color="#c6c6ff"/><stop offset=".504" stop-color="#e4e4ff"/><stop offset=".5386" stop-color="#fefeff"/><stop offset=".637" stop-color="#fff6f6"/><stop offset=".6582" stop-color="#fdfdff"/><stop offset=".6848" stop-color="#f1f1ff"/><stop offset=".7061" stop-color="#fffefe"/><stop offset=".754" stop-color="#ffcfcf"/><stop offset=".8072" stop-color="#ff8989"/><stop offset=".8684" stop-color="#ff5050"/><stop offset=".9056" stop-color="#ff4b4b"/><stop offset="1" stop-color="#ff7070"/></linearGradient><linearGradient id="h081" x2="0" y2="1"><stop offset="0" stop-color="#33f"/><stop offset=".1263" stop-color="#33f"/><stop offset=".129" stop-color="#4343ff"/><stop offset=".2168" stop-color="#5353ff"/><stop offset=".3418" stop-color="#9494ff"/><stop offset=".4375" stop-color="#bdbdff"/><stop offset=".5066" stop-color="#e6e6ff"/><stop offset=".5386" stop-color="#fff"/><stop offset=".6077" stop-color="#fff4f4"/><stop offset=".6396" stop-color="#fff0f0"/><stop offset=".6689" stop-color="#fefeff"/><stop offset=".6928" stop-color="#f1f1ff"/><stop offset=".7168" stop-color="#fffefe"/><stop offset=".754" stop-color="#ffd1d1"/><stop offset=".8045" stop-color="#ff8b8b"/><stop offset=".8684" stop-color="#ff4f4f"/><stop offset=".9082" stop-color="#ff4b4b"/><stop offset="1" stop-color="#ff6f6f"/></linearGradient><linearGradient id="h082" x2="0" y2="1"><stop offset="0" stop-color="#33f"/><stop offset=".1263" stop-color="#33f"/><stop offset=".129" stop-color="#4343ff"/><stop offset=".2168" stop-color="#5353ff"/><stop offset=".3391" stop-color="#9292ff"/><stop offset=".4348" stop-color="#b9b9ff"/><stop offset=".496" stop-color="#dedeff"/><stop offset=".5359" stop-color="#fff"/><stop offset=".5971" stop-color="#fff4f4"/><stop offset=".6316" stop-color="#ffe6e6"/><stop offset=".6636" stop-color="#fff3f3"/><stop offset=".6795" stop-color="#fefeff"/><stop offset=".7035" stop-color="#f1f1ff"/><stop offset=".7221" stop-color="#fcfcff"/><stop offset=".7247" stop-color="#fff"/><stop offset=".7566" stop-color="#ffcfcf"/><stop offset=".8019" stop-color="#ff8d8d"/><stop offset=".8684" stop-color="#ff5050"/><stop offset=".9056" stop-color="#ff4b4b"/><stop offset="1" stop-color="#ff6e6e"/></linearGradient><linearGradient id="h083" x2="0" y2="1"><stop offset="0" stop-color="#33f"/><stop offset=".1263" stop-color="#33f"/><stop offset=".129" stop-color="#4343ff"/><stop offset=".2194" stop-color="#5757ff"/><stop offset=".3311" stop-color="#8e8eff"/><stop offset=".4455" stop-color="#babaff"/><stop offset=".4827" stop-color="#d1d1ff"/><stop offset=".5306" stop-color="#fdfdff"/><stop offset=".5705" stop-color="#fffdfd"/><stop offset=".6237" stop-color="#ffd7d7"/><stop offset=".6449" stop-color="#ffdbdb"/><stop offset=".6928" stop-color="#fefeff"/><stop offset=".7141" stop-color="#f1f1ff"/><stop offset=".7301" stop-color="#fbfbff"/><stop offset=".7354" stop-color="#fffcfc"/><stop offset=".7806" stop-color="#ffa8a8"/><stop offset=".8098" stop-color="#ff8383"/><stop offset=".8684" stop-color="#ff5252"/><stop offset=".9003" stop-color="#ff4f4f"/><stop offset=".9987" stop-color="#ff6c6c"/><stop offset="1" stop-color="#ff6c6c"/></linearGradient><linearGradient id="h084" x2="0" y2="1"><stop offset="0" stop-color="#33f"/><stop offset=".1263" stop-color="#33f"/><stop offset=".129" stop-color="#4343ff"/><stop offset=".2247" stop-color="#5d5dff"/><stop offset=".3205" stop-color="#8a8aff"/><stop offset=".4614" stop-color="#bcbcff"/><stop offset=".4934" stop-color="#d9d9ff"/><stop offset=".5279" stop-color="#fdfdff"/><stop offset=".5652" stop-color="#fdfdff"/><stop offset=".5758" stop-color="#fff9f9"/><stop offset=".621" stop-color="#ffc6c6"/><stop offset=".6396" stop-color="#ffc8c8"/><stop offset=".6928" stop-color="#fffafa"/><stop offset=".7008" stop-color="#fdfdff"/><stop offset=".7247" stop-color="#f2f2ff"/><stop offset=".7407" stop-color="#fff"/><stop offset=".7806" stop-color="#ffa8a8"/><stop offset=".8072" stop-color="#ff8383"/><stop offset=".8604" stop-color="#ff5858"/><stop offset=".8896" stop-color="#ff5050"/><stop offset=".9588" stop-color="#f66"/><stop offset="1" stop-color="#ff6b6b"/></linearGradient><linearGradient id="h085" x2="0" y2="1"><stop offset="0" stop-color="#33f"/><stop offset=".1263" stop-color="#33f"/><stop offset=".129" stop-color="#4343ff"/><stop offset=".2354" stop-color="#66f"/><stop offset=".3098" stop-color="#8787ff"/><stop offset=".4668" stop-color="#b8b8ff"/><stop offset=".5253" stop-color="#fefeff"/><stop offset=".5572" stop-color="#f6f6ff"/><stop offset=".5731" stop-color="#fffdfd"/><stop offset=".6157" stop-color="#ffbaba"/><stop offset=".6316" stop-color="#ffb3b3"/><stop offset=".6503" stop-color="#ffc6c6"/><stop offset=".6795" stop-color="#fee"/><stop offset=".7061" stop-color="#fefeff"/><stop offset=".7354" stop-color="#f3f3ff"/><stop offset=".7487" stop-color="#fffdfd"/><stop offset=".7832" stop-color="#ffa4a4"/><stop offset=".8072" stop-color="#ff8080"/><stop offset=".8497" stop-color="#ff5f5f"/><stop offset=".887" stop-color="#ff5353"/><stop offset=".9428" stop-color="#ff6969"/><stop offset="1" stop-color="#ff6969"/></linearGradient><linearGradient id="h086" x2="0" y2="1"><stop offset="0" stop-color="#33f"/><stop offset=".1263" stop-color="#33f"/><stop offset=".129" stop-color="#4343ff"/><stop offset=".2434" stop-color="#6e6eff"/><stop offset=".3045" stop-color="#8787ff"/><stop offset=".4668" stop-color="#b3b3ff"/><stop offset=".5199" stop-color="#fdfdff"/><stop offset=".5332" stop-color="#fcfcff"/><stop offset=".5545" stop-color="#f1f1ff"/><stop offset=".5705" stop-color="#f9f9ff"/><stop offset=".5758" stop-color="#fffdfd"/><stop offset=".613" stop-color="#ffc1c1"/><stop offset=".629" stop-color="#ffb9b9"/><stop offset=".6476" stop-color="#ffc7c7"/><stop offset=".6822" stop-color="#fff2f2"/><stop offset=".7035" stop-color="#fefeff"/><stop offset=".7354" stop-color="#f6f6ff"/><stop offset=".746" stop-color="#fffcfc"/><stop offset=".7806" stop-color="#ffa0a0"/><stop offset=".8045" stop-color="#ff7b7b"/><stop offset=".8418" stop-color="#ff6363"/><stop offset=".8763" stop-color="#ff5a5a"/><stop offset=".9003" stop-color="#ff5858"/><stop offset=".9428" stop-color="#ff6b6b"/><stop offset="1" stop-color="#ff6767"/></linearGradient><linearGradient id="h087" x2="0" y2="1"><stop offset="0" stop-color="#33f"/><stop offset=".1263" stop-color="#33f"/><stop offset=".129" stop-color="#4343ff"/><stop offset=".2407" stop-color="#6d6dff"/><stop offset=".3019" stop-color="#8787ff"/><stop offset=".4614" stop-color="#b1b1ff"/><stop offset=".488" stop-color="#d4d4ff"/><stop offset=".5173" stop-color="#fefeff"/><stop offset=".5306" stop-color="#fcfcff"/><stop offset=".5519" stop-color="#efefff"/><stop offset=".5678" stop-color="#f2f2ff"/><stop offset=".5785" stop-color="#fff"/><stop offset=".613" stop-color="#ffd5d5"/><stop offset=".6343" stop-color="#ffd1d1"/><stop offset=".7008" stop-color="#fffdfd"/><stop offset=".7354" stop-color="#fdfdff"/><stop offset=".7407" stop-color="#fffbfb"/><stop offset=".754" stop-color="#ffdcdc"/><stop offset=".7753" stop-color="#ff9e9e"/><stop offset=".7939" stop-color="#ff7d7d"/><stop offset=".8285" stop-color="#ff6565"/><stop offset=".863" stop-color="#f66"/><stop offset=".8976" stop-color="#f55"/><stop offset=".9561" stop-color="#ff6b6b"/><stop offset="1" stop-color="#ff6767"/></linearGradient><linearGradient id="h088" x2="0" y2="1"><stop offset="0" stop-color="#33f"/><stop offset=".1263" stop-color="#33f"/><stop offset=".129" stop-color="#4343ff"/><stop offset=".238" stop-color="#6c6cff"/><stop offset=".3019" stop-color="#8787ff"/><stop offset=".4614" stop-color="#b2b2ff"/><stop offset=".496" stop-color="#e2e2ff"/><stop offset=".5173" stop-color="#fefeff"/><stop offset=".5306" stop-color="#fbfbff"/><stop offset=".5519" stop-color="#efefff"/><stop offset=".5678" stop-color="#f1f1ff"/><stop offset=".5785" stop-color="#fefeff"/><stop offset=".613" stop-color="#ffdada"/><stop offset=".637" stop-color="#ffd8d8"/><stop offset=".7035" stop-color="#fffcfc"/><stop offset=".7327" stop-color="#fffafa"/><stop offset=".746" stop-color="#ffe7e7"/><stop offset=".7779" stop-color="#ff9393"/><stop offset=".7965" stop-color="#f77"/><stop offset=".8285" stop-color="#ff6565"/><stop offset=".8604" stop-color="#ff6a6a"/><stop offset=".8976" stop-color="#ff5454"/><stop offset=".9588" stop-color="#ff6b6b"/><stop offset="1" stop-color="#ff6767"/></linearGradient><linearGradient id="h089" x2="0" y2="1"><stop offset="0" stop-color="#33f"/><stop offset=".1263" stop-color="#33f"/><stop offset=".129" stop-color="#4343ff"/><stop offset=".238" stop-color="#6c6cff"/><stop offset=".3019" stop-color="#88f"/><stop offset=".4588" stop-color="#b2b2ff"/><stop offset=".4934" stop-color="#e2e2ff"/><stop offset=".5146" stop-color="#fefeff"/><stop offset=".5279" stop-color="#fbfbff"/><stop offset=".5492" stop-color="#eef"/><stop offset=".5678" stop-color="#efefff"/><stop offset=".5838" stop-color="#fffefe"/><stop offset=".6157" stop-color="#ffe3e3"/><stop offset=".6636" stop-color="#ffecec"/><stop offset=".7061" stop-color="#fff6f6"/><stop offset=".7274" stop-color="#ffecec"/><stop offset=".7434" stop-color="#ffd0d0"/><stop offset=".7726" stop-color="#ff8c8c"/><stop offset=".7912" stop-color="#ff7373"/><stop offset=".8205" stop-color="#ff6464"/><stop offset=".8577" stop-color="#ff7272"/><stop offset=".879" stop-color="#ff6363"/><stop offset=".9003" stop-color="#ff5454"/><stop offset=".9269" stop-color="#ff5b5b"/><stop offset=".9641" stop-color="#ff6a6a"/><stop offset="1" stop-color="#ff6767"/></linearGradient><linearGradient id="h090" x2="0" y2="1"><stop offset="0" stop-color="#33f"/><stop offset=".1263" stop-color="#33f"/><stop offset=".129" stop-color="#4343ff"/><stop offset=".2327" stop-color="#6b6bff"/><stop offset=".2992" stop-color="#8a8aff"/><stop offset=".4535" stop-color="#b2b2ff"/><stop offset=".4854" stop-color="#ddf"/><stop offset=".5093" stop-color="#fefeff"/><stop offset=".5226" stop-color="#fbfbff"/><stop offset=".5465" stop-color="#ededff"/><stop offset=".5678" stop-color="#ededff"/><stop offset=".5864" stop-color="#fffefe"/><stop offset=".6157" stop-color="#ffe4e4"/><stop offset=".7008" stop-color="#fee"/><stop offset=".7221" stop-color="#ffe8e8"/><stop offset=".7354" stop-color="#ffd3d3"/><stop offset=".7646" stop-color="#ff8484"/><stop offset=".7806" stop-color="#ff6d6d"/><stop offset=".8045" stop-color="#ff6161"/><stop offset=".8524" stop-color="#ff7e7e"/><stop offset=".8763" stop-color="#ff6f6f"/><stop offset=".9082" stop-color="#ff5454"/><stop offset=".9322" stop-color="#ff5656"/><stop offset=".9747" stop-color="#ff6868"/><stop offset="1" stop-color="#f66"/></linearGradient><linearGradient id="h091" x2="0" y2="1"><stop offset="0" stop-color="#33f"/><stop offset=".1263" stop-color="#33f"/><stop offset=".129" stop-color="#4343ff"/><stop offset=".2274" stop-color="#6969ff"/><stop offset=".2992" stop-color="#8b8bff"/><stop offset=".4508" stop-color="#b2b2ff"/><stop offset=".4907" stop-color="#eaeaff"/><stop offset=".5066" stop-color="#fefeff"/><stop offset=".5199" stop-color="#fbfbff"/><stop offset=".5439" stop-color="#ededff"/><stop offset=".5678" stop-color="#ececff"/><stop offset=".5864" stop-color="#fff"/><stop offset=".6184" stop-color="#ffdede"/><stop offset=".6902" stop-color="#ffd8d8"/><stop offset=".7221" stop-color="#ffc5c5"/><stop offset=".738" stop-color="#ffa8a8"/><stop offset=".7593" stop-color="#f77"/><stop offset=".7806" stop-color="#ff6161"/><stop offset=".7965" stop-color="#ff6060"/><stop offset=".8418" stop-color="#ff7f7f"/><stop offset=".8737" stop-color="#ff7474"/><stop offset=".9189" stop-color="#ff5353"/><stop offset=".9455" stop-color="#ff5757"/><stop offset=".9854" stop-color="#ff6565"/><stop offset="1" stop-color="#ff6565"/></linearGradient><linearGradient id="h092" x2="0" y2="1"><stop offset="0" stop-color="#33f"/><stop offset=".1263" stop-color="#33f"/><stop offset=".129" stop-color="#4343ff"/><stop offset=".2168" stop-color="#66f"/><stop offset=".3019" stop-color="#8e8eff"/><stop offset=".4455" stop-color="#b2b2ff"/><stop offset=".4801" stop-color="#e2e2ff"/><stop offset=".5013" stop-color="#fefeff"/><stop offset=".5146" stop-color="#fbfbff"/><stop offset=".5386" stop-color="#ededff"/><stop offset=".5705" stop-color="#ebebff"/><stop offset=".5891" stop-color="#fff"/><stop offset=".6237" stop-color="#ffcdcd"/><stop offset=".6795" stop-color="#ff9e9e"/><stop offset=".7327" stop-color="#ff5f5f"/><stop offset=".762" stop-color="#ff5353"/><stop offset=".7886" stop-color="#ff6363"/><stop offset=".8178" stop-color="#ff7a7a"/><stop offset=".8684" stop-color="#ff7b7b"/><stop offset=".9109" stop-color="#ff6060"/><stop offset=".9428" stop-color="#ff5050"/><stop offset="1" stop-color="#ff6161"/></linearGradient><linearGradient id="h093" x2="0" y2="1"><stop offset="0" stop-color="#33f"/><stop offset=".1263" stop-color="#33f"/><stop offset=".129" stop-color="#44f"/><stop offset=".2194" stop-color="#6969ff"/><stop offset=".3019" stop-color="#8f8fff"/><stop offset=".4428" stop-color="#b2b2ff"/><stop offset=".4801" stop-color="#e6e6ff"/><stop offset=".4987" stop-color="#fefeff"/><stop offset=".512" stop-color="#fbfbff"/><stop offset=".5359" stop-color="#ededff"/><stop offset=".5705" stop-color="#eaeaff"/><stop offset=".5891" stop-color="#fefeff"/><stop offset=".6024" stop-color="#ffebeb"/><stop offset=".629" stop-color="#ffc3c3"/><stop offset=".7194" stop-color="#ff5b5b"/><stop offset=".7513" stop-color="#ff4f4f"/><stop offset=".7806" stop-color="#ff5a5a"/><stop offset=".8178" stop-color="#f77"/><stop offset=".8604" stop-color="#ff8080"/><stop offset=".9082" stop-color="#ff6b6b"/><stop offset=".9508" stop-color="#ff5151"/><stop offset=".9827" stop-color="#ff5757"/><stop offset="1" stop-color="#ff5d5d"/></linearGradient><linearGradient id="h094" x2="0" y2="1"><stop offset="0" stop-color="#33f"/><stop offset=".1263" stop-color="#33f"/><stop offset=".129" stop-color="#4646ff"/><stop offset=".2434" stop-color="#7676ff"/><stop offset=".3098" stop-color="#9090ff"/><stop offset=".4375" stop-color="#b2b2ff"/><stop offset=".4721" stop-color="#e2e2ff"/><stop offset=".4934" stop-color="#fefeff"/><stop offset=".5066" stop-color="#fbfbff"/><stop offset=".5332" stop-color="#eaeaff"/><stop offset=".5625" stop-color="#e5e5ff"/><stop offset=".5864" stop-color="#fafaff"/><stop offset=".5918" stop-color="#fffdfd"/><stop offset=".6316" stop-color="#ffbebe"/><stop offset=".7114" stop-color="#ff5d5d"/><stop offset=".7434" stop-color="#ff4e4e"/><stop offset=".7886" stop-color="#ff5858"/><stop offset=".8497" stop-color="#ff8787"/><stop offset=".9029" stop-color="#ff8787"/><stop offset=".9402" stop-color="#ff7575"/><stop offset=".9801" stop-color="#ff5757"/><stop offset="1" stop-color="#ff5656"/></linearGradient><linearGradient id="h095" x2="0" y2="1"><stop offset="0" stop-color="#33f"/><stop offset=".1263" stop-color="#33f"/><stop offset=".129" stop-color="#4747ff"/><stop offset=".3045" stop-color="#8e8eff"/><stop offset=".4348" stop-color="#b2b2ff"/><stop offset=".4907" stop-color="#fff"/><stop offset=".504" stop-color="#fafaff"/><stop offset=".5359" stop-color="#e6e6ff"/><stop offset=".5598" stop-color="#e3e3ff"/><stop offset=".5838" stop-color="#f7f7ff"/><stop offset=".5918" stop-color="#fffdfd"/><stop offset=".6343" stop-color="#ffb9b9"/><stop offset=".7061" stop-color="#ff5d5d"/><stop offset=".738" stop-color="#ff4e4e"/><stop offset=".8045" stop-color="#ff5b5b"/><stop offset=".8551" stop-color="#ff8a8a"/><stop offset=".8976" stop-color="#ff9595"/><stop offset=".9402" stop-color="#ff8d8d"/><stop offset=".9987" stop-color="#ff5f5f"/><stop offset="1" stop-color="#ff5f5f"/></linearGradient><linearGradient id="h096" x2="0" y2="1"><stop offset="0" stop-color="#33f"/><stop offset=".1263" stop-color="#33f"/><stop offset=".129" stop-color="#4949ff"/><stop offset=".3019" stop-color="#8d8dff"/><stop offset=".4269" stop-color="#b1b1ff"/><stop offset=".4508" stop-color="#cfcfff"/><stop offset=".4854" stop-color="#fefeff"/><stop offset=".4987" stop-color="#fafaff"/><stop offset=".5359" stop-color="#e2e2ff"/><stop offset=".5572" stop-color="#e0e0ff"/><stop offset=".5838" stop-color="#f7f7ff"/><stop offset=".5918" stop-color="#fffdfd"/><stop offset=".6476" stop-color="#ffa4a4"/><stop offset=".6981" stop-color="#ff5d5d"/><stop offset=".7301" stop-color="#ff4b4b"/><stop offset=".7726" stop-color="#ff5c5c"/><stop offset=".8152" stop-color="#ff5b5b"/><stop offset=".8418" stop-color="#ff7272"/><stop offset=".8816" stop-color="#f99"/><stop offset=".9215" stop-color="#ffa2a2"/><stop offset=".9801" stop-color="#ff9a9a"/><stop offset="1" stop-color="#ff9393"/></linearGradient><linearGradient id="h097" x2="0" y2="1"><stop offset="0" stop-color="#33f"/><stop offset=".1263" stop-color="#33f"/><stop offset=".129" stop-color="#4a4aff"/><stop offset=".3019" stop-color="#8b8bff"/><stop offset=".4136" stop-color="#aeaeff"/><stop offset=".4322" stop-color="#c0c0ff"/><stop offset=".4747" stop-color="#fdfdff"/><stop offset=".488" stop-color="#fcfcff"/><stop offset=".5199" stop-color="#e6e6ff"/><stop offset=".5492" stop-color="#dedeff"/><stop offset=".5758" stop-color="#eef"/><stop offset=".5891" stop-color="#fdfdff"/><stop offset=".6024" stop-color="#ffebeb"/><stop offset=".6902" stop-color="#ff5e5e"/><stop offset=".7221" stop-color="#ff4b4b"/><stop offset=".7779" stop-color="#ff6a6a"/><stop offset=".8125" stop-color="#ff6262"/><stop offset=".8391" stop-color="#ff5f5f"/><stop offset=".8657" stop-color="#f77"/><stop offset=".8976" stop-color="#ff9797"/><stop offset=".9375" stop-color="#ffa2a2"/><stop offset="1" stop-color="#ffa3a3"/></linearGradient><linearGradient id="h098" x2="0" y2="1"><stop offset="0" stop-color="#33f"/><stop offset=".1263" stop-color="#33f"/><stop offset=".129" stop-color="#4848ff"/><stop offset=".3205" stop-color="#8b8bff"/><stop offset=".3976" stop-color="#ababff"/><stop offset=".4189" stop-color="#c0c0ff"/><stop offset=".4614" stop-color="#fdfdff"/><stop offset=".4747" stop-color="#fcfcff"/><stop offset=".504" stop-color="#e9e9ff"/><stop offset=".5439" stop-color="#dedeff"/><stop offset=".5731" stop-color="#ebebff"/><stop offset=".5891" stop-color="#fdfdff"/><stop offset=".6024" stop-color="#ffebeb"/><stop offset=".6795" stop-color="#ff6161"/><stop offset=".7088" stop-color="#ff4c4c"/><stop offset=".7274" stop-color="#ff5252"/><stop offset=".7832" stop-color="#ff7a7a"/><stop offset=".8098" stop-color="#ff7e7e"/><stop offset=".8551" stop-color="#ff6060"/><stop offset=".8763" stop-color="#f66"/><stop offset=".9269" stop-color="#ff9898"/><stop offset=".9668" stop-color="#ffa2a2"/><stop offset="1" stop-color="#ffa3a3"/></linearGradient><linearGradient id="h099" x2="0" y2="1"><stop offset="0" stop-color="#33f"/><stop offset=".1263" stop-color="#33f"/><stop offset=".129" stop-color="#4646ff"/><stop offset=".3524" stop-color="#9494ff"/><stop offset=".4003" stop-color="#b7b7ff"/><stop offset=".4508" stop-color="#fefeff"/><stop offset=".4641" stop-color="#fbfbff"/><stop offset=".4934" stop-color="#e9e9ff"/><stop offset=".5359" stop-color="#ddf"/><stop offset=".5705" stop-color="#eaeaff"/><stop offset=".5891" stop-color="#fefeff"/><stop offset=".621" stop-color="#ffc8c8"/><stop offset=".6742" stop-color="#ff6060"/><stop offset=".7035" stop-color="#ff4c4c"/><stop offset=".7221" stop-color="#ff5353"/><stop offset=".7965" stop-color="#ff8a8a"/><stop offset=".8205" stop-color="#ff9090"/><stop offset=".8524" stop-color="#ff7878"/><stop offset=".8816" stop-color="#ff6060"/><stop offset=".9029" stop-color="#f66"/><stop offset=".9535" stop-color="#ff9898"/><stop offset=".9934" stop-color="#ffa2a2"/><stop offset="1" stop-color="#ffa3a3"/></linearGradient><linearGradient id="h0100" x2="0" y2="1"><stop offset="0" stop-color="#33f"/><stop offset=".1263" stop-color="#33f"/><stop offset=".129" stop-color="#44f"/><stop offset=".3471" stop-color="#9090ff"/><stop offset=".3896" stop-color="#b8b8ff"/><stop offset=".4375" stop-color="#fdfdff"/><stop offset=".4508" stop-color="#fcfcff"/><stop offset=".4774" stop-color="#ebebff"/><stop offset=".5306" stop-color="#ddf"/><stop offset=".5705" stop-color="#ebebff"/><stop offset=".5891" stop-color="#fffdfd"/><stop offset=".6316" stop-color="#ffafaf"/><stop offset=".6715" stop-color="#ff6060"/><stop offset=".7008" stop-color="#ff4c4c"/><stop offset=".7194" stop-color="#ff5353"/><stop offset=".8019" stop-color="#ff9090"/><stop offset=".8311" stop-color="#ff9898"/><stop offset=".8604" stop-color="#ff8c8c"/><stop offset=".9029" stop-color="#ff6262"/><stop offset=".9215" stop-color="#ff6161"/><stop offset=".9535" stop-color="#ff8080"/><stop offset=".9854" stop-color="#ff9b9b"/><stop offset="1" stop-color="#ff9f9f"/></linearGradient><linearGradient id="h0101" x2="0" y2="1"><stop offset="0" stop-color="#33f"/><stop offset=".1263" stop-color="#33f"/><stop offset=".129" stop-color="#4343ff"/><stop offset=".3444" stop-color="#9090ff"/><stop offset=".3843" stop-color="#bdbdff"/><stop offset=".4295" stop-color="#fefeff"/><stop offset=".4428" stop-color="#fbfbff"/><stop offset=".4694" stop-color="#ebebff"/><stop offset=".5253" stop-color="#ddf"/><stop offset=".5678" stop-color="#ebebff"/><stop offset=".5864" stop-color="#fffefe"/><stop offset=".6316" stop-color="#ffabab"/><stop offset=".6715" stop-color="#ff5f5f"/><stop offset=".7008" stop-color="#ff4c4c"/><stop offset=".7194" stop-color="#f55"/><stop offset=".762" stop-color="#ff7272"/><stop offset=".8178" stop-color="#ff8c8c"/><stop offset=".8577" stop-color="#ff9b9b"/><stop offset=".8843" stop-color="#ff8f8f"/><stop offset=".9295" stop-color="#ff6262"/><stop offset=".9481" stop-color="#ff6262"/><stop offset=".9801" stop-color="#ff8080"/><stop offset="1" stop-color="#ff9191"/></linearGradient><linearGradient id="h0102" x2="0" y2="1"><stop offset="0" stop-color="#33f"/><stop offset=".1263" stop-color="#33f"/><stop offset=".129" stop-color="#4343ff"/><stop offset=".3444" stop-color="#9191ff"/><stop offset=".3843" stop-color="#c5c5ff"/><stop offset=".4242" stop-color="#fefeff"/><stop offset=".4375" stop-color="#fbfbff"/><stop offset=".4641" stop-color="#ebebff"/><stop offset=".5226" stop-color="#ddf"/><stop offset=".5652" stop-color="#eaeaff"/><stop offset=".5838" stop-color="#fff"/><stop offset=".637" stop-color="#ff9e9e"/><stop offset=".6715" stop-color="#ff5e5e"/><stop offset=".7008" stop-color="#ff4d4d"/><stop offset=".7194" stop-color="#ff5858"/><stop offset=".7646" stop-color="#ff8080"/><stop offset=".8125" stop-color="#ff8b8b"/><stop offset=".879" stop-color="#ff9c9c"/><stop offset=".9082" stop-color="#ff8e8e"/><stop offset=".9535" stop-color="#ff6262"/><stop offset=".9721" stop-color="#ff6262"/><stop offset="1" stop-color="#ff7878"/></linearGradient><linearGradient id="h0103" x2="0" y2="1"><stop offset="0" stop-color="#33f"/><stop offset=".1263" stop-color="#33f"/><stop offset=".129" stop-color="#4343ff"/><stop offset=".3418" stop-color="#9191ff"/><stop offset=".3843" stop-color="#ccf"/><stop offset=".4189" stop-color="#fdfdff"/><stop offset=".4322" stop-color="#fcfcff"/><stop offset=".4588" stop-color="#ebebff"/><stop offset=".5173" stop-color="#ddf"/><stop offset=".5625" stop-color="#eaeaff"/><stop offset=".5811" stop-color="#fefeff"/><stop offset=".6263" stop-color="#ffafaf"/><stop offset=".6689" stop-color="#ff6262"/><stop offset=".6928" stop-color="#ff5353"/><stop offset=".7088" stop-color="#ff5858"/><stop offset=".762" stop-color="#ffa7a7"/><stop offset=".7859" stop-color="#ffb4b4"/><stop offset=".8125" stop-color="#ffacac"/><stop offset=".8497" stop-color="#ff9595"/><stop offset=".9136" stop-color="#ff9a9a"/><stop offset=".9428" stop-color="#ff8686"/><stop offset=".9774" stop-color="#ff6363"/><stop offset="1" stop-color="#ff6060"/></linearGradient><linearGradient id="h0104" x2="0" y2="1"><stop offset="0" stop-color="#33f"/><stop offset=".1263" stop-color="#33f"/><stop offset=".129" stop-color="#4343ff"/><stop offset=".3418" stop-color="#9292ff"/><stop offset=".3816" stop-color="#c8c8ff"/><stop offset=".4189" stop-color="#fefeff"/><stop offset=".4322" stop-color="#fbfbff"/><stop offset=".4588" stop-color="#ebebff"/><stop offset=".5173" stop-color="#ddf"/><stop offset=".5625" stop-color="#ebebff"/><stop offset=".5811" stop-color="#fffefe"/><stop offset=".6689" stop-color="#ff6161"/><stop offset=".6955" stop-color="#ff4f4f"/><stop offset=".7114" stop-color="#f55"/><stop offset=".7779" stop-color="#ffabab"/><stop offset=".8045" stop-color="#ffb9b9"/><stop offset=".8338" stop-color="#ffb0b0"/><stop offset=".8763" stop-color="#ff9595"/><stop offset=".9402" stop-color="#ff9a9a"/><stop offset=".9694" stop-color="#ff8686"/><stop offset=".9987" stop-color="#ff6868"/><stop offset="1" stop-color="#ff6868"/></linearGradient><linearGradient id="h0105" x2="0" y2="1"><stop offset="0" stop-color="#33f"/><stop offset=".1263" stop-color="#33f"/><stop offset=".129" stop-color="#4343ff"/><stop offset=".3444" stop-color="#9494ff"/><stop offset=".3816" stop-color="#c0c0ff"/><stop offset=".4242" stop-color="#fefeff"/><stop offset=".4375" stop-color="#fbfbff"/><stop offset=".4641" stop-color="#ebebff"/><stop offset=".5199" stop-color="#ddf"/><stop offset=".5598" stop-color="#e9e9ff"/><stop offset=".5785" stop-color="#fefeff"/><stop offset=".6024" stop-color="#ffd8d8"/><stop offset=".6689" stop-color="#ff6060"/><stop offset=".7008" stop-color="#ff4b4b"/><stop offset=".7221" stop-color="#ff5858"/><stop offset=".8098" stop-color="#ffb0b0"/><stop offset=".8444" stop-color="#fbb"/><stop offset=".8763" stop-color="#ffadad"/><stop offset=".9109" stop-color="#ff9797"/><stop offset=".9588" stop-color="#ff9d9d"/><stop offset="1" stop-color="#ff9f9f"/></linearGradient><linearGradient id="h0106" x2="0" y2="1"><stop offset="0" stop-color="#33f"/><stop offset=".1263" stop-color="#33f"/><stop offset=".129" stop-color="#4343ff"/><stop offset=".3497" stop-color="#9696ff"/><stop offset=".387" stop-color="#b9b9ff"/><stop offset=".4348" stop-color="#fefeff"/><stop offset=".4481" stop-color="#fbfbff"/><stop offset=".4747" stop-color="#eaeaff"/><stop offset=".5226" stop-color="#ddf"/><stop offset=".5598" stop-color="#eaeaff"/><stop offset=".5785" stop-color="#fff"/><stop offset=".6689" stop-color="#ff5f5f"/><stop offset=".7008" stop-color="#ff4b4b"/><stop offset=".7274" stop-color="#ff5c5c"/><stop offset=".8231" stop-color="#ffa7a7"/><stop offset=".871" stop-color="#fbb"/><stop offset=".9029" stop-color="#ffb5b5"/><stop offset=".9508" stop-color="#ff9898"/><stop offset="1" stop-color="#ffa0a0"/></linearGradient><linearGradient id="h0107" x2="0" y2="1"><stop offset="0" stop-color="#33f"/><stop offset=".1263" stop-color="#33f"/><stop offset=".129" stop-color="#4343ff"/><stop offset=".3551" stop-color="#9898ff"/><stop offset=".3976" stop-color="#b6b6ff"/><stop offset=".4481" stop-color="#fefeff"/><stop offset=".4614" stop-color="#fbfbff"/><stop offset=".4907" stop-color="#e8e8ff"/><stop offset=".5306" stop-color="#dedeff"/><stop offset=".5625" stop-color="#ededff"/><stop offset=".5785" stop-color="#fff"/><stop offset=".6689" stop-color="#ff5f5f"/><stop offset=".7008" stop-color="#ff4b4b"/><stop offset=".7301" stop-color="#ff5f5f"/><stop offset=".7886" stop-color="#ff8585"/><stop offset=".879" stop-color="#ffb2b2"/><stop offset=".9269" stop-color="#fbb"/><stop offset=".9614" stop-color="#ffabab"/><stop offset=".9934" stop-color="#ff9c9c"/><stop offset="1" stop-color="#ff9b9b"/></linearGradient><linearGradient id="h0108" x2="0" y2="1"><stop offset="0" stop-color="#33f"/><stop offset=".1263" stop-color="#33f"/><stop offset=".129" stop-color="#4343ff"/><stop offset=".3657" stop-color="#9c9cff"/><stop offset=".4082" stop-color="#b5b5ff"/><stop offset=".4588" stop-color="#fefeff"/><stop offset=".4721" stop-color="#fcfcff"/><stop offset=".504" stop-color="#e6e6ff"/><stop offset=".5359" stop-color="#dedeff"/><stop offset=".5625" stop-color="#ededff"/><stop offset=".5785" stop-color="#fffefe"/><stop offset=".6689" stop-color="#ff5e5e"/><stop offset=".7008" stop-color="#ff4b4b"/><stop offset=".7354" stop-color="#ff6464"/><stop offset=".7779" stop-color="#ff7d7d"/><stop offset=".8418" stop-color="#ff9696"/><stop offset=".8896" stop-color="#ffabab"/><stop offset=".9668" stop-color="#ffbcbc"/><stop offset="1" stop-color="#ffb2b2"/></linearGradient><linearGradient id="h0109" x2="0" y2="1"><stop offset="0" stop-color="#33f"/><stop offset=".1263" stop-color="#33f"/><stop offset=".129" stop-color="#4343ff"/><stop offset=".3816" stop-color="#a1a1ff"/><stop offset=".4162" stop-color="#b5b5ff"/><stop offset=".4668" stop-color="#fdfdff"/><stop offset=".4801" stop-color="#fcfcff"/><stop offset=".512" stop-color="#e6e6ff"/><stop offset=".5386" stop-color="#dedeff"/><stop offset=".5652" stop-color="#f0f0ff"/><stop offset=".5785" stop-color="#fffdfd"/><stop offset=".6662" stop-color="#ff6161"/><stop offset=".6955" stop-color="#ff4c4c"/><stop offset=".7141" stop-color="#ff5252"/><stop offset=".7726" stop-color="#ff7d7d"/><stop offset=".8152" stop-color="#ff8c8c"/><stop offset=".8604" stop-color="#ff9595"/><stop offset=".9402" stop-color="#ffb2b2"/><stop offset="1" stop-color="#ffbebe"/></linearGradient><linearGradient id="h0110" x2="0" y2="1"><stop offset="0" stop-color="#33f"/><stop offset=".1263" stop-color="#33f"/><stop offset=".129" stop-color="#4343ff"/><stop offset=".4136" stop-color="#adadff"/><stop offset=".4322" stop-color="#bfbfff"/><stop offset=".4747" stop-color="#fdfdff"/><stop offset=".488" stop-color="#fcfcff"/><stop offset=".5253" stop-color="#e2e2ff"/><stop offset=".5439" stop-color="#e0e0ff"/><stop offset=".5705" stop-color="#f7f7ff"/><stop offset=".5758" stop-color="#fefeff"/><stop offset=".5971" stop-color="#fdd"/><stop offset=".6662" stop-color="#ff6060"/><stop offset=".6981" stop-color="#ff4b4b"/><stop offset=".7221" stop-color="#ff5959"/><stop offset=".7779" stop-color="#ff8181"/><stop offset=".8338" stop-color="#ff9a9a"/><stop offset=".8737" stop-color="#ff9797"/><stop offset=".9082" stop-color="#ff9a9a"/><stop offset=".9747" stop-color="#ffb5b5"/><stop offset="1" stop-color="#ffb8b8"/></linearGradient><linearGradient id="h0111" x2="0" y2="1"><stop offset="0" stop-color="#33f"/><stop offset=".1263" stop-color="#33f"/><stop offset=".129" stop-color="#4343ff"/><stop offset=".4242" stop-color="#afafff"/><stop offset=".4481" stop-color="#ceceff"/><stop offset=".4827" stop-color="#fefeff"/><stop offset=".496" stop-color="#fbfbff"/><stop offset=".5332" stop-color="#e0e0ff"/><stop offset=".5492" stop-color="#e2e2ff"/><stop offset=".5758" stop-color="#fefeff"/><stop offset=".6263" stop-color="#ffa6a6"/><stop offset=".6662" stop-color="#ff5f5f"/><stop offset=".6981" stop-color="#ff4b4b"/><stop offset=".7247" stop-color="#ff5c5c"/><stop offset=".7753" stop-color="#ff7f7f"/><stop offset=".8604" stop-color="#faa"/><stop offset=".9162" stop-color="#ff9d9d"/><stop offset=".9481" stop-color="#ff9e9e"/><stop offset="1" stop-color="#ffb7b7"/></linearGradient><linearGradient id="h0112" x2="0" y2="1"><stop offset="0" stop-color="#33f"/><stop offset=".1263" stop-color="#33f"/><stop offset=".129" stop-color="#4343ff"/><stop offset=".4295" stop-color="#b2b2ff"/><stop offset=".4854" stop-color="#fff"/><stop offset=".4987" stop-color="#fafaff"/><stop offset=".5359" stop-color="#e0e0ff"/><stop offset=".5519" stop-color="#e4e4ff"/><stop offset=".5758" stop-color="#fff"/><stop offset=".6662" stop-color="#ff5f5f"/><stop offset=".6981" stop-color="#ff4b4b"/><stop offset=".7274" stop-color="#ff5e5e"/><stop offset=".7779" stop-color="#ff8080"/><stop offset=".863" stop-color="#ffadad"/><stop offset=".9136" stop-color="#faa"/><stop offset=".9588" stop-color="#ff9e9e"/><stop offset="1" stop-color="#ffafaf"/></linearGradient></defs><g clip-path="url(#h0c)"><g shape-rendering="crispEdges"><rect x="91" y="65.4" width="31" height="375.7" fill="url(#h00)"/><rect x="91" y="65.4" width="31" height="375.7" fill="url(#h01)" mask="url(#rmp)"/><rect x="122" y="65.4" width="24" height="375.7" fill="url(#h01)"/><rect x="122" y="65.4" width="24" height="375.7" fill="url(#h02)" mask="url(#rmp)"/><rect x="146" y="65.4" width="10" height="375.7" fill="url(#h02)"/><rect x="146" y="65.4" width="10" height="375.7" fill="url(#h03)" mask="url(#rmp)"/><rect x="156" y="65.4" width="18" height="375.7" fill="url(#h03)"/><rect x="156" y="65.4" width="18" height="375.7" fill="url(#h04)" mask="url(#rmp)"/><rect x="174" y="65.4" width="29" height="375.7" fill="url(#h04)"/><rect x="174" y="65.4" width="29" height="375.7" fill="url(#h05)" mask="url(#rmp)"/><rect x="203" y="65.4" width="38" height="375.7" fill="url(#h05)"/><rect x="203" y="65.4" width="38" height="375.7" fill="url(#h06)" mask="url(#rmp)"/><rect x="241" y="65.4" width="14" height="375.7" fill="url(#h06)"/><rect x="241" y="65.4" width="14" height="375.7" fill="url(#h07)" mask="url(#rmp)"/><rect x="255" y="65.4" width="19" height="375.7" fill="url(#h07)"/><rect x="255" y="65.4" width="19" height="375.7" fill="url(#h08)" mask="url(#rmp)"/><rect x="274" y="65.4" width="19" height="375.7" fill="url(#h08)"/><rect x="274" y="65.4" width="19" height="375.7" fill="url(#h09)" mask="url(#rmp)"/><rect x="293" y="65.4" width="23" height="375.7" fill="url(#h09)"/><rect x="293" y="65.4" width="23" height="375.7" fill="url(#h010)" mask="url(#rmp)"/><rect x="316" y="65.4" width="13" height="375.7" fill="url(#h010)"/><rect x="316" y="65.4" width="13" height="375.7" fill="url(#h011)" mask="url(#rmp)"/><rect x="329" y="65.4" width="24" height="375.7" fill="url(#h011)"/><rect x="329" y="65.4" width="24" height="375.7" fill="url(#h012)" mask="url(#rmp)"/><rect x="353" y="65.4" width="36" height="375.7" fill="url(#h012)"/><rect x="353" y="65.4" width="36" height="375.7" fill="url(#h013)" mask="url(#rmp)"/><rect x="389" y="65.4" width="21" height="375.7" fill="url(#h013)"/><rect x="389" y="65.4" width="21" height="375.7" fill="url(#h014)" mask="url(#rmp)"/><rect x="410" y="65.4" width="22" height="375.7" fill="url(#h014)"/><rect x="410" y="65.4" width="22" height="375.7" fill="url(#h015)" mask="url(#rmp)"/><rect x="432" y="65.4" width="20" height="375.7" fill="url(#h015)"/><rect x="432" y="65.4" width="20" height="375.7" fill="url(#h016)" mask="url(#rmp)"/><rect x="452" y="65.4" width="42" height="375.7" fill="url(#h016)"/><rect x="452" y="65.4" width="42" height="375.7" fill="url(#h017)" mask="url(#rmp)"/><rect x="494" y="65.4" width="10" height="375.7" fill="url(#h017)"/><rect x="494" y="65.4" width="10" height="375.7" fill="url(#h018)" mask="url(#rmp)"/><rect x="504" y="65.4" width="17" height="375.7" fill="url(#h018)"/><rect x="504" y="65.4" width="17" height="375.7" fill="url(#h019)" mask="url(#rmp)"/><rect x="521" y="65.4" width="17" height="375.7" fill="url(#h019)"/><rect x="521" y="65.4" width="17" height="375.7" fill="url(#h020)" mask="url(#rmp)"/><rect x="538" y="65.4" width="16" height="375.7" fill="url(#h020)"/><rect x="538" y="65.4" width="16" height="375.7" fill="url(#h021)" mask="url(#rmp)"/><rect x="554" y="65.4" width="10" height="375.7" fill="url(#h021)"/><rect x="554" y="65.4" width="10" height="375.7" fill="url(#h022)" mask="url(#rmp)"/><rect x="564" y="65.4" width="6" height="375.7" fill="url(#h022)"/><rect x="564" y="65.4" width="6" height="375.7" fill="url(#h023)" mask="url(#rmp)"/><rect x="570" y="65.4" width="6" height="375.7" fill="url(#h023)"/><rect x="570" y="65.4" width="6" height="375.7" fill="url(#h024)" mask="url(#rmp)"/><rect x="576" y="65.4" width="6" height="375.7" fill="url(#h024)"/><rect x="576" y="65.4" width="6" height="375.7" fill="url(#h025)" mask="url(#rmp)"/><rect x="582" y="65.4" width="5" height="375.7" fill="url(#h025)"/><rect x="582" y="65.4" width="5" height="375.7" fill="url(#h026)" mask="url(#rmp)"/><rect x="587" y="65.4" width="6" height="375.7" fill="url(#h026)"/><rect x="587" y="65.4" width="6" height="375.7" fill="url(#h027)" mask="url(#rmp)"/><rect x="593" y="65.4" width="5" height="375.7" fill="url(#h027)"/><rect x="593" y="65.4" width="5" height="375.7" fill="url(#h028)" mask="url(#rmp)"/><rect x="598" y="65.4" width="5" height="375.7" fill="url(#h028)"/><rect x="598" y="65.4" width="5" height="375.7" fill="url(#h029)" mask="url(#rmp)"/><rect x="603" y="65.4" width="6" height="375.7" fill="url(#h029)"/><rect x="603" y="65.4" width="6" height="375.7" fill="url(#h030)" mask="url(#rmp)"/><rect x="609" y="65.4" width="5" height="375.7" fill="url(#h030)"/><rect x="609" y="65.4" width="5" height="375.7" fill="url(#h031)" mask="url(#rmp)"/><rect x="614" y="65.4" width="6" height="375.7" fill="url(#h031)"/><rect x="614" y="65.4" width="6" height="375.7" fill="url(#h032)" mask="url(#rmp)"/><rect x="620" y="65.4" width="7" height="375.7" fill="url(#h032)"/><rect x="620" y="65.4" width="7" height="375.7" fill="url(#h033)" mask="url(#rmp)"/><rect x="627" y="65.4" width="8" height="375.7" fill="url(#h033)"/><rect x="627" y="65.4" width="8" height="375.7" fill="url(#h034)" mask="url(#rmp)"/><rect x="635" y="65.4" width="7" height="375.7" fill="url(#h034)"/><rect x="635" y="65.4" width="7" height="375.7" fill="url(#h035)" mask="url(#rmp)"/><rect x="642" y="65.4" width="9" height="375.7" fill="url(#h035)"/><rect x="642" y="65.4" width="9" height="375.7" fill="url(#h036)" mask="url(#rmp)"/><rect x="651" y="65.4" width="9" height="375.7" fill="url(#h036)"/><rect x="651" y="65.4" width="9" height="375.7" fill="url(#h037)" mask="url(#rmp)"/><rect x="660" y="65.4" width="12" height="375.7" fill="url(#h037)"/><rect x="660" y="65.4" width="12" height="375.7" fill="url(#h038)" mask="url(#rmp)"/><rect x="672" y="65.4" width="12" height="375.7" fill="url(#h038)"/><rect x="672" y="65.4" width="12" height="375.7" fill="url(#h039)" mask="url(#rmp)"/><rect x="684" y="65.4" width="10" height="375.7" fill="url(#h039)"/><rect x="684" y="65.4" width="10" height="375.7" fill="url(#h040)" mask="url(#rmp)"/><rect x="694" y="65.4" width="15" height="375.7" fill="url(#h040)"/><rect x="694" y="65.4" width="15" height="375.7" fill="url(#h041)" mask="url(#rmp)"/><rect x="709" y="65.4" width="15" height="375.7" fill="url(#h041)"/><rect x="709" y="65.4" width="15" height="375.7" fill="url(#h042)" mask="url(#rmp)"/><rect x="724" y="65.4" width="9" height="375.7" fill="url(#h042)"/><rect x="724" y="65.4" width="9" height="375.7" fill="url(#h043)" mask="url(#rmp)"/><rect x="733" y="65.4" width="10" height="375.7" fill="url(#h043)"/><rect x="733" y="65.4" width="10" height="375.7" fill="url(#h044)" mask="url(#rmp)"/><rect x="743" y="65.4" width="9" height="375.7" fill="url(#h044)"/><rect x="743" y="65.4" width="9" height="375.7" fill="url(#h045)" mask="url(#rmp)"/><rect x="752" y="65.4" width="5" height="375.7" fill="url(#h045)"/><rect x="752" y="65.4" width="5" height="375.7" fill="url(#h046)" mask="url(#rmp)"/><rect x="757" y="65.4" width="4" height="375.7" fill="url(#h046)"/><rect x="757" y="65.4" width="4" height="375.7" fill="url(#h047)" mask="url(#rmp)"/><rect x="761" y="65.4" width="4" height="375.7" fill="url(#h047)"/><rect x="761" y="65.4" width="4" height="375.7" fill="url(#h048)" mask="url(#rmp)"/><rect x="765" y="65.4" width="3" height="375.7" fill="url(#h048)"/><rect x="765" y="65.4" width="3" height="375.7" fill="url(#h049)" mask="url(#rmp)"/><rect x="768" y="65.4" width="3" height="375.7" fill="url(#h049)"/><rect x="768" y="65.4" width="3" height="375.7" fill="url(#h050)" mask="url(#rmp)"/><rect x="771" y="65.4" width="2" height="375.7" fill="url(#h050)"/><rect x="771" y="65.4" width="2" height="375.7" fill="url(#h051)" mask="url(#rmp)"/><rect x="773" y="65.4" width="2" height="375.7" fill="url(#h051)"/><rect x="773" y="65.4" width="2" height="375.7" fill="url(#h052)" mask="url(#rmp)"/><rect x="775" y="65.4" width="5" height="375.7" fill="url(#h052)"/><rect x="775" y="65.4" width="5" height="375.7" fill="url(#h053)" mask="url(#rmp)"/><rect x="780" y="65.4" width="2" height="375.7" fill="url(#h053)"/><rect x="780" y="65.4" width="2" height="375.7" fill="url(#h054)" mask="url(#rmp)"/><rect x="782" y="65.4" width="2" height="375.7" fill="url(#h054)"/><rect x="782" y="65.4" width="2" height="375.7" fill="url(#h055)" mask="url(#rmp)"/><rect x="784" y="65.4" width="3" height="375.7" fill="url(#h055)"/><rect x="784" y="65.4" width="3" height="375.7" fill="url(#h056)" mask="url(#rmp)"/><rect x="787" y="65.4" width="12" height="375.7" fill="url(#h056)"/><rect x="787" y="65.4" width="12" height="375.7" fill="url(#h057)" mask="url(#rmp)"/><rect x="799" y="65.4" width="10" height="375.7" fill="url(#h057)"/><rect x="799" y="65.4" width="10" height="375.7" fill="url(#h058)" mask="url(#rmp)"/><rect x="809" y="65.4" width="3" height="375.7" fill="url(#h058)"/><rect x="809" y="65.4" width="3" height="375.7" fill="url(#h059)" mask="url(#rmp)"/><rect x="812" y="65.4" width="3" height="375.7" fill="url(#h059)"/><rect x="812" y="65.4" width="3" height="375.7" fill="url(#h060)" mask="url(#rmp)"/><rect x="815" y="65.4" width="2" height="375.7" fill="url(#h060)"/><rect x="815" y="65.4" width="2" height="375.7" fill="url(#h061)" mask="url(#rmp)"/><rect x="817" y="65.4" width="2" height="375.7" fill="url(#h061)"/><rect x="817" y="65.4" width="2" height="375.7" fill="url(#h062)" mask="url(#rmp)"/><rect x="819" y="65.4" width="2" height="375.7" fill="url(#h062)"/><rect x="819" y="65.4" width="2" height="375.7" fill="url(#h063)" mask="url(#rmp)"/><rect x="821" y="65.4" width="3" height="375.7" fill="url(#h063)"/><rect x="821" y="65.4" width="3" height="375.7" fill="url(#h064)" mask="url(#rmp)"/><rect x="824" y="65.4" width="2" height="375.7" fill="url(#h064)"/><rect x="824" y="65.4" width="2" height="375.7" fill="url(#h065)" mask="url(#rmp)"/><rect x="826" y="65.4" width="2" height="375.7" fill="url(#h065)"/><rect x="826" y="65.4" width="2" height="375.7" fill="url(#h066)" mask="url(#rmp)"/><rect x="828" y="65.4" width="2" height="375.7" fill="url(#h066)"/><rect x="828" y="65.4" width="2" height="375.7" fill="url(#h067)" mask="url(#rmp)"/><rect x="830" y="65.4" width="2" height="375.7" fill="url(#h067)"/><rect x="830" y="65.4" width="2" height="375.7" fill="url(#h068)" mask="url(#rmp)"/><rect x="832" y="65.4" width="2" height="375.7" fill="url(#h068)"/><rect x="832" y="65.4" width="2" height="375.7" fill="url(#h069)" mask="url(#rmp)"/><rect x="834" y="65.4" width="2" height="375.7" fill="url(#h069)"/><rect x="834" y="65.4" width="2" height="375.7" fill="url(#h070)" mask="url(#rmp)"/><rect x="836" y="65.4" width="2" height="375.7" fill="url(#h070)"/><rect x="836" y="65.4" width="2" height="375.7" fill="url(#h071)" mask="url(#rmp)"/><rect x="838" y="65.4" width="1" height="375.7" fill="url(#h071)"/><rect x="838" y="65.4" width="1" height="375.7" fill="url(#h072)" mask="url(#rmp)"/><rect x="839" y="65.4" width="1" height="375.7" fill="url(#h072)"/><rect x="839" y="65.4" width="1" height="375.7" fill="url(#h073)" mask="url(#rmp)"/><rect x="840" y="65.4" width="1" height="375.7" fill="url(#h073)"/><rect x="840" y="65.4" width="1" height="375.7" fill="url(#h074)" mask="url(#rmp)"/><rect x="841" y="65.4" width="1" height="375.7" fill="url(#h074)"/><rect x="841" y="65.4" width="1" height="375.7" fill="url(#h075)" mask="url(#rmp)"/><rect x="842" y="65.4" width="1" height="375.7" fill="url(#h075)"/><rect x="842" y="65.4" width="1" height="375.7" fill="url(#h076)" mask="url(#rmp)"/><rect x="843" y="65.4" width="1" height="375.7" fill="url(#h076)"/><rect x="843" y="65.4" width="1" height="375.7" fill="url(#h077)" mask="url(#rmp)"/><rect x="844" y="65.4" width="2" height="375.7" fill="url(#h077)"/><rect x="844" y="65.4" width="2" height="375.7" fill="url(#h078)" mask="url(#rmp)"/><rect x="846" y="65.4" width="4" height="375.7" fill="url(#h078)"/><rect x="846" y="65.4" width="4" height="375.7" fill="url(#h079)" mask="url(#rmp)"/><rect x="850" y="65.4" width="4" height="375.7" fill="url(#h079)"/><rect x="850" y="65.4" width="4" height="375.7" fill="url(#h080)" mask="url(#rmp)"/><rect x="854" y="65.4" width="4" height="375.7" fill="url(#h080)"/><rect x="854" y="65.4" width="4" height="375.7" fill="url(#h081)" mask="url(#rmp)"/><rect x="858" y="65.4" width="4" height="375.7" fill="url(#h081)"/><rect x="858" y="65.4" width="4" height="375.7" fill="url(#h082)" mask="url(#rmp)"/><rect x="862" y="65.4" width="6" height="375.7" fill="url(#h082)"/><rect x="862" y="65.4" width="6" height="375.7" fill="url(#h083)" mask="url(#rmp)"/><rect x="868" y="65.4" width="6" height="375.7" fill="url(#h083)"/><rect x="868" y="65.4" width="6" height="375.7" fill="url(#h084)" mask="url(#rmp)"/><rect x="874" y="65.4" width="8" height="375.7" fill="url(#h084)"/><rect x="874" y="65.4" width="8" height="375.7" fill="url(#h085)" mask="url(#rmp)"/><rect x="882" y="65.4" width="11" height="375.7" fill="url(#h085)"/><rect x="882" y="65.4" width="11" height="375.7" fill="url(#h086)" mask="url(#rmp)"/><rect x="893" y="65.4" width="10" height="375.7" fill="url(#h086)"/><rect x="893" y="65.4" width="10" height="375.7" fill="url(#h087)" mask="url(#rmp)"/><rect x="903" y="65.4" width="3" height="375.7" fill="url(#h087)"/><rect x="903" y="65.4" width="3" height="375.7" fill="url(#h088)" mask="url(#rmp)"/><rect x="906" y="65.4" width="9" height="375.7" fill="url(#h088)"/><rect x="906" y="65.4" width="9" height="375.7" fill="url(#h089)" mask="url(#rmp)"/><rect x="915" y="65.4" width="18" height="375.7" fill="url(#h089)"/><rect x="915" y="65.4" width="18" height="375.7" fill="url(#h090)" mask="url(#rmp)"/><rect x="933" y="65.4" width="11" height="375.7" fill="url(#h090)"/><rect x="933" y="65.4" width="11" height="375.7" fill="url(#h091)" mask="url(#rmp)"/><rect x="944" y="65.4" width="17" height="375.7" fill="url(#h091)"/><rect x="944" y="65.4" width="17" height="375.7" fill="url(#h092)" mask="url(#rmp)"/><rect x="961" y="65.4" width="9" height="375.7" fill="url(#h092)"/><rect x="961" y="65.4" width="9" height="375.7" fill="url(#h093)" mask="url(#rmp)"/><rect x="970" y="65.4" width="14" height="375.7" fill="url(#h093)"/><rect x="970" y="65.4" width="14" height="375.7" fill="url(#h094)" mask="url(#rmp)"/><rect x="984" y="65.4" width="9" height="375.7" fill="url(#h094)"/><rect x="984" y="65.4" width="9" height="375.7" fill="url(#h095)" mask="url(#rmp)"/><rect x="993" y="65.4" width="12" height="375.7" fill="url(#h095)"/><rect x="993" y="65.4" width="12" height="375.7" fill="url(#h096)" mask="url(#rmp)"/><rect x="1005" y="65.4" width="13" height="375.7" fill="url(#h096)"/><rect x="1005" y="65.4" width="13" height="375.7" fill="url(#h097)" mask="url(#rmp)"/><rect x="1018" y="65.4" width="16" height="375.7" fill="url(#h097)"/><rect x="1018" y="65.4" width="16" height="375.7" fill="url(#h098)" mask="url(#rmp)"/><rect x="1034" y="65.4" width="15" height="375.7" fill="url(#h098)"/><rect x="1034" y="65.4" width="15" height="375.7" fill="url(#h099)" mask="url(#rmp)"/><rect x="1049" y="65.4" width="15" height="375.7" fill="url(#h099)"/><rect x="1049" y="65.4" width="15" height="375.7" fill="url(#h0100)" mask="url(#rmp)"/><rect x="1064" y="65.4" width="15" height="375.7" fill="url(#h0100)"/><rect x="1064" y="65.4" width="15" height="375.7" fill="url(#h0101)" mask="url(#rmp)"/><rect x="1079" y="65.4" width="13" height="375.7" fill="url(#h0101)"/><rect x="1079" y="65.4" width="13" height="375.7" fill="url(#h0102)" mask="url(#rmp)"/><rect x="1092" y="65.4" width="15" height="375.7" fill="url(#h0102)"/><rect x="1092" y="65.4" width="15" height="375.7" fill="url(#h0103)" mask="url(#rmp)"/><rect x="1107" y="65.4" width="15" height="375.7" fill="url(#h0103)"/><rect x="1107" y="65.4" width="15" height="375.7" fill="url(#h0104)" mask="url(#rmp)"/><rect x="1122" y="65.4" width="20" height="375.7" fill="url(#h0104)"/><rect x="1122" y="65.4" width="20" height="375.7" fill="url(#h0105)" mask="url(#rmp)"/><rect x="1142" y="65.4" width="21" height="375.7" fill="url(#h0105)"/><rect x="1142" y="65.4" width="21" height="375.7" fill="url(#h0106)" mask="url(#rmp)"/><rect x="1163" y="65.4" width="22" height="375.7" fill="url(#h0106)"/><rect x="1163" y="65.4" width="22" height="375.7" fill="url(#h0107)" mask="url(#rmp)"/><rect x="1185" y="65.4" width="23" height="375.7" fill="url(#h0107)"/><rect x="1185" y="65.4" width="23" height="375.7" fill="url(#h0108)" mask="url(#rmp)"/><rect x="1208" y="65.4" width="22" height="375.7" fill="url(#h0108)"/><rect x="1208" y="65.4" width="22" height="375.7" fill="url(#h0109)" mask="url(#rmp)"/><rect x="1230" y="65.4" width="29" height="375.7" fill="url(#h0109)"/><rect x="1230" y="65.4" width="29" height="375.7" fill="url(#h0110)" mask="url(#rmp)"/><rect x="1259" y="65.4" width="27" height="375.7" fill="url(#h0110)"/><rect x="1259" y="65.4" width="27" height="375.7" fill="url(#h0111)" mask="url(#rmp)"/><rect x="1286" y="65.4" width="18" height="375.7" fill="url(#h0111)"/><rect x="1286" y="65.4" width="15" height="375.7" fill="url(#h0112)" mask="url(#rmp)"/></g><rect x="91.0" y="65.4" width="1210.50" height="48.30" fill="#33f"/></g>
<rect x="91.0" y="65.4" width="1210.50" height="375.70" fill="none" stroke="#000" stroke-width="1.4"/>
<line x1="91.00" y1="65.4" x2="91.00" y2="60.64" stroke="#000" stroke-width="1.4"/>
<text x="91.00" y="48.50" class="t" text-anchor="middle">0</text>
<line x1="233.41" y1="65.4" x2="233.41" y2="60.64" stroke="#000" stroke-width="1.4"/>
<text x="233.41" y="48.50" class="t" text-anchor="middle">2</text>
<line x1="375.82" y1="65.4" x2="375.82" y2="60.64" stroke="#000" stroke-width="1.4"/>
<text x="375.82" y="48.50" class="t" text-anchor="middle">4</text>
<line x1="518.24" y1="65.4" x2="518.24" y2="60.64" stroke="#000" stroke-width="1.4"/>
<text x="518.24" y="48.50" class="t" text-anchor="middle">6</text>
<line x1="660.65" y1="65.4" x2="660.65" y2="60.64" stroke="#000" stroke-width="1.4"/>
<text x="660.65" y="48.50" class="t" text-anchor="middle">8</text>
<line x1="803.06" y1="65.4" x2="803.06" y2="60.64" stroke="#000" stroke-width="1.4"/>
<text x="803.06" y="48.50" class="t" text-anchor="middle">10</text>
<line x1="945.47" y1="65.4" x2="945.47" y2="60.64" stroke="#000" stroke-width="1.4"/>
<text x="945.47" y="48.50" class="t" text-anchor="middle">12</text>
<line x1="1087.88" y1="65.4" x2="1087.88" y2="60.64" stroke="#000" stroke-width="1.4"/>
<text x="1087.88" y="48.50" class="t" text-anchor="middle">14</text>
<line x1="1230.29" y1="65.4" x2="1230.29" y2="60.64" stroke="#000" stroke-width="1.4"/>
<text x="1230.29" y="48.50" class="t" text-anchor="middle">16</text>
<line x1="91.0" y1="65.40" x2="86.24" y2="65.40" stroke="#000" stroke-width="1.4"/>
<text x="79.40" y="75.30" class="t" text-anchor="end">0.0</text>
<line x1="91.0" y1="119.07" x2="86.24" y2="119.07" stroke="#000" stroke-width="1.4"/>
<text x="79.40" y="128.97" class="t" text-anchor="end">0.5</text>
<line x1="91.0" y1="172.74" x2="86.24" y2="172.74" stroke="#000" stroke-width="1.4"/>
<text x="79.40" y="182.64" class="t" text-anchor="end">1.0</text>
<line x1="91.0" y1="226.41" x2="86.24" y2="226.41" stroke="#000" stroke-width="1.4"/>
<text x="79.40" y="236.31" class="t" text-anchor="end">1.5</text>
<line x1="91.0" y1="280.09" x2="86.24" y2="280.09" stroke="#000" stroke-width="1.4"/>
<text x="79.40" y="289.99" class="t" text-anchor="end">2.0</text>
<line x1="91.0" y1="333.76" x2="86.24" y2="333.76" stroke="#000" stroke-width="1.4"/>
<text x="79.40" y="343.66" class="t" text-anchor="end">2.5</text>
<line x1="91.0" y1="387.43" x2="86.24" y2="387.43" stroke="#000" stroke-width="1.4"/>
<text x="79.40" y="397.33" class="t" text-anchor="end">3.0</text>
<line x1="91.0" y1="441.10" x2="86.24" y2="441.10" stroke="#000" stroke-width="1.4"/>
<text x="79.40" y="451.00" class="t" text-anchor="end">3.5</text>
<text x="696.25" y="23.70" class="l" text-anchor="middle">Distance (km)</text>
<text transform="translate(26.70,253.25) rotate(-90)" class="l" text-anchor="middle">Depth (km)</text>
<text x="1.80" y="66.90" class="l">(a)</text>
<linearGradient id="cbg0" x1="0" y1="1" x2="0" y2="0"><stop offset="0" stop-color="#00f"/><stop offset="0.5" stop-color="#fff"/><stop offset="1" stop-color="#f00"/></linearGradient>
<rect x="1317.4" y="65.4" width="15.60" height="375.70" fill="url(#cbg0)" stroke="#000" stroke-width="1.4"/>
<line x1="1333.0" y1="352.16" x2="1337.76" y2="352.16" stroke="#000" stroke-width="1.4"/>
<text x="1343.00" y="362.06" class="c">2000</text>
<line x1="1333.0" y1="245.52" x2="1337.76" y2="245.52" stroke="#000" stroke-width="1.4"/>
<text x="1343.00" y="255.42" class="c">3000</text>
<line x1="1333.0" y1="138.88" x2="1337.76" y2="138.88" stroke="#000" stroke-width="1.4"/>
<text x="1343.00" y="148.78" class="c">4000</text>
<text transform="translate(1440.50,253.25) rotate(-90)" class="c" text-anchor="middle">Velocity (m.s<tspan dy="-9.5" font-size="19">−1</tspan><tspan dy="9.5">)</tspan></text>
<defs><clipPath id="h1c"><rect x="91.4" y="531.3" width="1210.90" height="375.70"/></clipPath><linearGradient id="h10" x2="0" y2="1"><stop offset="0" stop-color="#00f"/><stop offset=".1263" stop-color="#00f"/><stop offset=".129" stop-color="#ffcfcf"/><stop offset=".3311" stop-color="#ffc1c1"/><stop offset=".4827" stop-color="#ffa9a9"/><stop offset=".5598" stop-color="#ff8686"/><stop offset=".6263" stop-color="#ff6363"/><stop offset=".6582" stop-color="#ff5252"/><stop offset=".7221" stop-color="#ff5f5f"/><stop offset=".7699" stop-color="#ff5252"/><stop offset=".8418" stop-color="#ff2a2a"/><stop offset=".9003" stop-color="#ff2424"/><stop offset=".9322" stop-color="#ff2f2f"/><stop offset=".9668" stop-color="#f44"/><stop offset="1" stop-color="#ff4545"/></linearGradient><linearGradient id="h11" x2="0" y2="1"><stop offset="0" stop-color="#00f"/><stop offset=".1263" stop-color="#00f"/><stop offset=".129" stop-color="#ffcfcf"/><stop offset=".3311" stop-color="#ffc1c1"/><stop offset=".4801" stop-color="#ffa9a9"/><stop offset=".5545" stop-color="#f88"/><stop offset=".6237" stop-color="#ff6464"/><stop offset=".6556" stop-color="#ff5252"/><stop offset=".7194" stop-color="#ff5f5f"/><stop offset=".7646" stop-color="#ff5454"/><stop offset=".8418" stop-color="#ff2a2a"/><stop offset=".9003" stop-color="#ff2525"/><stop offset=".9375" stop-color="#ff3131"/><stop offset=".9694" stop-color="#ff3c3c"/><stop offset="1" stop-color="#ff3b3b"/></linearGradient><linearGradient id="h12" x2="0" y2="1"><stop offset="0" stop-color="#00f"/><stop offset=".1263" stop-color="#00f"/><stop offset=".129" stop-color="#ffcfcf"/><stop offset=".3311" stop-color="#ffc1c1"/><stop offset=".4801" stop-color="#ffa9a9"/><stop offset=".5572" stop-color="#ff8686"/><stop offset=".6237" stop-color="#ff6363"/><stop offset=".6556" stop-color="#ff5252"/><stop offset=".7168" stop-color="#ff5f5f"/><stop offset=".762" stop-color="#f55"/><stop offset=".8418" stop-color="#ff2a2a"/><stop offset=".9029" stop-color="#ff2828"/><stop offset="1" stop-color="#ff2f2f"/></linearGradient><linearGradient id="h13" x2="0" y2="1"><stop offset="0" stop-color="#00f"/><stop offset=".1263" stop-color="#00f"/><stop offset=".129" stop-color="#ffcfcf"/><stop offset=".3311" stop-color="#ffc1c1"/><stop offset=".4801" stop-color="#ffa8a8"/><stop offset=".5572" stop-color="#ff8585"/><stop offset=".621" stop-color="#ff6363"/><stop offset=".6529" stop-color="#ff5252"/><stop offset=".7168" stop-color="#ff5f5f"/><stop offset=".762" stop-color="#f55"/><stop offset=".8418" stop-color="#ff2a2a"/><stop offset=".9003" stop-color="#ff2424"/><stop offset=".9322" stop-color="#ff2f2f"/><stop offset=".9668" stop-color="#ff4343"/><stop offset="1" stop-color="#ff4545"/></linearGradient><linearGradient id="h14" x2="0" y2="1"><stop offset="0" stop-color="#00f"/><stop offset=".1263" stop-color="#00f"/><stop offset=".129" stop-color="#ffcfcf"/><stop offset=".3311" stop-color="#ffc1c1"/><stop offset=".4801" stop-color="#ffa7a7"/><stop offset=".5652" stop-color="#ff7e7e"/><stop offset=".6184" stop-color="#ff6363"/><stop offset=".6503" stop-color="#ff5252"/><stop offset=".7141" stop-color="#ff5f5f"/><stop offset=".7593" stop-color="#ff5656"/><stop offset=".8418" stop-color="#ff2a2a"/><stop offset=".8976" stop-color="#ff2525"/><stop offset=".9375" stop-color="#f33"/><stop offset=".9694" stop-color="#ff3f3f"/><stop offset="1" stop-color="#ff3e3e"/></linearGradient><linearGradient id="h15" x2="0" y2="1"><stop offset="0" stop-color="#00f"/><stop offset=".1263" stop-color="#00f"/><stop offset=".129" stop-color="#ffcfcf"/><stop offset=".3205" stop-color="#ffc4c4"/><stop offset=".4827" stop-color="#ffa6a6"/><stop offset=".6157" stop-color="#ff6464"/><stop offset=".6476" stop-color="#ff5252"/><stop offset=".7114" stop-color="#ff5f5f"/><stop offset=".7593" stop-color="#ff5656"/><stop offset=".8418" stop-color="#ff2a2a"/><stop offset=".8976" stop-color="#ff2525"/><stop offset=".9402" stop-color="#ff3535"/><stop offset=".9747" stop-color="#ff4141"/><stop offset="1" stop-color="#ff4242"/></linearGradient><linearGradient id="h16" x2="0" y2="1"><stop offset="0" stop-color="#00f"/><stop offset=".1263" stop-color="#00f"/><stop offset=".129" stop-color="#ffcfcf"/><stop offset=".2646" stop-color="#fcc"/><stop offset=".3019" stop-color="#ffd2d2"/><stop offset=".3657" stop-color="#ffbcbc"/><stop offset=".4854" stop-color="#ffa4a4"/><stop offset=".613" stop-color="#ff6464"/><stop offset=".6449" stop-color="#ff5252"/><stop offset=".7114" stop-color="#ff5f5f"/><stop offset=".7593" stop-color="#ff5656"/><stop offset=".8418" stop-color="#ff2a2a"/><stop offset=".9003" stop-color="#ff2525"/><stop offset=".9402" stop-color="#ff3232"/><stop offset=".9721" stop-color="#ff3b3b"/><stop offset="1" stop-color="#ff3b3b"/></linearGradient><linearGradient id="h17" x2="0" y2="1"><stop offset="0" stop-color="#00f"/><stop offset=".1263" stop-color="#00f"/><stop offset=".129" stop-color="#ffcfcf"/><stop offset=".2726" stop-color="#fcc"/><stop offset=".3098" stop-color="#fcc"/><stop offset=".387" stop-color="#ffb9b9"/><stop offset=".4854" stop-color="#ffa3a3"/><stop offset=".6104" stop-color="#ff6464"/><stop offset=".6423" stop-color="#ff5353"/><stop offset=".7088" stop-color="#ff5f5f"/><stop offset=".7593" stop-color="#ff5757"/><stop offset=".8098" stop-color="#ff3a3a"/><stop offset=".8497" stop-color="#ff2929"/><stop offset=".9402" stop-color="#ff2c2c"/><stop offset="1" stop-color="#ff2f2f"/></linearGradient><linearGradient id="h18" x2="0" y2="1"><stop offset="0" stop-color="#00f"/><stop offset=".1263" stop-color="#00f"/><stop offset=".129" stop-color="#ffcfcf"/><stop offset=".3311" stop-color="#ffc1c1"/><stop offset=".4747" stop-color="#ffa4a4"/><stop offset=".6024" stop-color="#ff6565"/><stop offset=".637" stop-color="#ff5353"/><stop offset=".7035" stop-color="#ff5f5f"/><stop offset=".762" stop-color="#ff5858"/><stop offset=".8098" stop-color="#ff3e3e"/><stop offset=".8524" stop-color="#ff2a2a"/><stop offset=".9189" stop-color="#ff2a2a"/><stop offset=".9774" stop-color="#f44"/><stop offset="1" stop-color="#f44"/></linearGradient><linearGradient id="h19" x2="0" y2="1"><stop offset="0" stop-color="#00f"/><stop offset=".1263" stop-color="#00f"/><stop offset=".129" stop-color="#ffcfcf"/><stop offset=".3231" stop-color="#ffc0c0"/><stop offset=".4694" stop-color="#ffa3a3"/><stop offset=".5918" stop-color="#ff6767"/><stop offset=".6263" stop-color="#ff5454"/><stop offset=".6928" stop-color="#ff6161"/><stop offset=".7673" stop-color="#ff5b5b"/><stop offset=".8098" stop-color="#ff4747"/><stop offset=".8471" stop-color="#ff2e2e"/><stop offset=".9215" stop-color="#ff2f2f"/><stop offset=".9854" stop-color="#ff3c3c"/><stop offset="1" stop-color="#ff3c3c"/></linearGradient><linearGradient id="h110" x2="0" y2="1"><stop offset="0" stop-color="#00f"/><stop offset=".1263" stop-color="#00f"/><stop offset=".129" stop-color="#ffcfcf"/><stop offset=".2753" stop-color="#ffc3c3"/><stop offset=".4668" stop-color="#ffa1a1"/><stop offset=".5785" stop-color="#ff6f6f"/><stop offset=".613" stop-color="#ff5454"/><stop offset=".637" stop-color="#ff5656"/><stop offset=".6689" stop-color="#ff6464"/><stop offset=".7726" stop-color="#ff6161"/><stop offset=".8072" stop-color="#ff5353"/><stop offset=".8391" stop-color="#ff3535"/><stop offset=".9428" stop-color="#ff3232"/><stop offset="1" stop-color="#ff3636"/></linearGradient><linearGradient id="h111" x2="0" y2="1"><stop offset="0" stop-color="#00f"/><stop offset=".1263" stop-color="#00f"/><stop offset=".129" stop-color="#ffcfcf"/><stop offset=".2859" stop-color="#ffc3c3"/><stop offset=".4641" stop-color="#ff9e9e"/><stop offset=".5731" stop-color="#ff6f6f"/><stop offset=".6077" stop-color="#f55"/><stop offset=".6316" stop-color="#ff5959"/><stop offset=".6636" stop-color="#ff6565"/><stop offset=".7513" stop-color="#ff5f5f"/><stop offset=".8391" stop-color="#ff3535"/><stop offset="1" stop-color="#ff4040"/></linearGradient><linearGradient id="h112" x2="0" y2="1"><stop offset="0" stop-color="#00f"/><stop offset=".1263" stop-color="#00f"/><stop offset=".129" stop-color="#ffcfcf"/><stop offset=".2992" stop-color="#ffc1c1"/><stop offset=".4614" stop-color="#ff9c9c"/><stop offset=".5652" stop-color="#ff7171"/><stop offset=".5997" stop-color="#ff5656"/><stop offset=".6237" stop-color="#ff5a5a"/><stop offset=".6582" stop-color="#ff6565"/><stop offset=".7753" stop-color="#ff6161"/><stop offset=".8152" stop-color="#ff5151"/><stop offset=".8444" stop-color="#ff4040"/><stop offset="1" stop-color="#ff3636"/></linearGradient><linearGradient id="h113" x2="0" y2="1"><stop offset="0" stop-color="#00f"/><stop offset=".1263" stop-color="#00f"/><stop offset=".129" stop-color="#ffcfcf"/><stop offset=".3098" stop-color="#ffc1c1"/><stop offset=".4535" stop-color="#ff9797"/><stop offset=".5465" stop-color="#ff7171"/><stop offset=".5811" stop-color="#ff5757"/><stop offset=".6476" stop-color="#ff6565"/><stop offset=".7593" stop-color="#ff6060"/><stop offset=".8258" stop-color="#ff4141"/><stop offset=".879" stop-color="#ff3636"/><stop offset="1" stop-color="#ff4141"/></linearGradient><linearGradient id="h114" x2="0" y2="1"><stop offset="0" stop-color="#00f"/><stop offset=".1263" stop-color="#00f"/><stop offset=".129" stop-color="#ffcfcf"/><stop offset=".2832" stop-color="#ffc3c3"/><stop offset=".3418" stop-color="#ffb4b4"/><stop offset=".5173" stop-color="#ff7373"/><stop offset=".5519" stop-color="#ff5a5a"/><stop offset=".621" stop-color="#f66"/><stop offset=".7407" stop-color="#ff6060"/><stop offset=".8285" stop-color="#ff3939"/><stop offset=".8976" stop-color="#ff3e3e"/><stop offset="1" stop-color="#ff4545"/></linearGradient><linearGradient id="h115" x2="0" y2="1"><stop offset="0" stop-color="#00f"/><stop offset=".1263" stop-color="#00f"/><stop offset=".129" stop-color="#ffcfcf"/><stop offset=".2646" stop-color="#ffc4c4"/><stop offset=".3231" stop-color="#ffb7b7"/><stop offset=".3949" stop-color="#ff9494"/><stop offset=".4907" stop-color="#ff7474"/><stop offset=".5253" stop-color="#ff5e5e"/><stop offset=".5625" stop-color="#ff6969"/><stop offset=".6184" stop-color="#ff6c6c"/><stop offset=".7646" stop-color="#ff6262"/><stop offset=".871" stop-color="#f44"/><stop offset="1" stop-color="#ff3e3e"/></linearGradient><linearGradient id="h116" x2="0" y2="1"><stop offset="0" stop-color="#00f"/><stop offset=".1263" stop-color="#00f"/><stop offset=".129" stop-color="#ffcfcf"/><stop offset=".2646" stop-color="#ffc4c4"/><stop offset=".3205" stop-color="#ffb7b7"/><stop offset=".387" stop-color="#ff9393"/><stop offset=".5013" stop-color="#ff6767"/><stop offset=".5705" stop-color="#ff6f6f"/><stop offset=".7673" stop-color="#ff6363"/><stop offset=".9003" stop-color="#ff3f3f"/><stop offset="1" stop-color="#ff3636"/></linearGradient><linearGradient id="h117" x2="0" y2="1"><stop offset="0" stop-color="#00f"/><stop offset=".1263" stop-color="#00f"/><stop offset=".129" stop-color="#ffcfcf"/><stop offset=".2513" stop-color="#ffc5c5"/><stop offset=".3098" stop-color="#ffb4b4"/><stop offset=".3976" stop-color="#ff8080"/><stop offset=".496" stop-color="#ff6f6f"/><stop offset=".5625" stop-color="#ff7373"/><stop offset=".7779" stop-color="#ff5d5d"/><stop offset=".8604" stop-color="#ff4040"/><stop offset=".9428" stop-color="#ff3636"/><stop offset="1" stop-color="#ff3c3c"/></linearGradient><linearGradient id="h118" x2="0" y2="1"><stop offset="0" stop-color="#00f"/><stop offset=".1263" stop-color="#00f"/><stop offset=".129" stop-color="#ffcfcf"/><stop offset=".2301" stop-color="#ffc7c7"/><stop offset=".2912" stop-color="#ffadad"/><stop offset=".3311" stop-color="#ff9595"/><stop offset=".4987" stop-color="#ff7979"/><stop offset=".5598" stop-color="#f77"/><stop offset=".6343" stop-color="#ff6d6d"/><stop offset=".7779" stop-color="#ff5757"/><stop offset=".8364" stop-color="#ff3b3b"/><stop offset=".9109" stop-color="#ff3737"/><stop offset="1" stop-color="#ff4141"/></linearGradient><linearGradient id="h119" x2="0" y2="1"><stop offset="0" stop-color="#00f"/><stop offset=".1263" stop-color="#00f"/><stop offset=".129" stop-color="#ffcfcf"/><stop offset=".2274" stop-color="#ffc6c6"/><stop offset=".3205" stop-color="#ffa0a0"/><stop offset=".4747" stop-color="#ff7c7c"/><stop offset=".5731" stop-color="#ff7373"/><stop offset=".6662" stop-color="#ff6868"/><stop offset=".7779" stop-color="#ff4d4d"/><stop offset=".8285" stop-color="#ff3737"/><stop offset=".9029" stop-color="#ff3b3b"/><stop offset="1" stop-color="#ff4141"/></linearGradient><linearGradient id="h120" x2="0" y2="1"><stop offset="0" stop-color="#00f"/><stop offset=".1263" stop-color="#00f"/><stop offset=".129" stop-color="#ffcfcf"/><stop offset=".2513" stop-color="#ffc0c0"/><stop offset=".4109" stop-color="#ff8787"/><stop offset=".504" stop-color="#ff7272"/><stop offset=".6582" stop-color="#ff6a6a"/><stop offset=".7114" stop-color="#ff5858"/><stop offset=".8152" stop-color="#ff3636"/><stop offset=".9588" stop-color="#ff4040"/><stop offset="1" stop-color="#ff3b3b"/></linearGradient><linearGradient id="h121" x2="0" y2="1"><stop offset="0" stop-color="#00f"/><stop offset=".1263" stop-color="#00f"/><stop offset=".129" stop-color="#ffcfcf"/><stop offset=".254" stop-color="#ffbdbd"/><stop offset=".4109" stop-color="#ff7e7e"/><stop offset=".6157" stop-color="#ff6d6d"/><stop offset=".6582" stop-color="#ff6969"/><stop offset=".7061" stop-color="#f55"/><stop offset=".8072" stop-color="#ff3636"/><stop offset=".9375" stop-color="#ff3f3f"/><stop offset="1" stop-color="#ff3131"/></linearGradient><linearGradient id="h122" x2="0" y2="1"><stop offset="0" stop-color="#00f"/><stop offset=".1263" stop-color="#00f"/><stop offset=".129" stop-color="#fcc"/><stop offset=".2566" stop-color="#ffb4b4"/><stop offset=".3205" stop-color="#ff9494"/><stop offset=".5811" stop-color="#ff6e6e"/><stop offset=".6582" stop-color="#ff6868"/><stop offset=".7194" stop-color="#ff5252"/><stop offset=".8072" stop-color="#ff3939"/><stop offset=".9215" stop-color="#ff3c3c"/><stop offset=".9934" stop-color="#ff2e2e"/><stop offset="1" stop-color="#ff2f2f"/></linearGradient><linearGradient id="h123" x2="0" y2="1"><stop offset="0" stop-color="#00f"/><stop offset=".1263" stop-color="#00f"/><stop offset=".129" stop-color="#ffc8c8"/><stop offset=".1476" stop-color="#fbb"/><stop offset=".2886" stop-color="#ffa3a3"/><stop offset=".4721" stop-color="#f77"/><stop offset=".5412" stop-color="#ff6060"/><stop offset=".5838" stop-color="#ff6464"/><stop offset=".629" stop-color="#ff6c6c"/><stop offset=".8444" stop-color="#ff3e3e"/><stop offset=".9348" stop-color="#ff2f2f"/><stop offset="1" stop-color="#ff3a3a"/></linearGradient><linearGradient id="h124" x2="0" y2="1"><stop offset="0" stop-color="#00f"/><stop offset=".1263" stop-color="#00f"/><stop offset=".129" stop-color="#ffc6c6"/><stop offset=".1449" stop-color="#ffb8b8"/><stop offset=".363" stop-color="#ff9191"/><stop offset=".4535" stop-color="#ff7b7b"/><stop offset=".488" stop-color="#ff6868"/><stop offset=".5705" stop-color="#ff6464"/><stop offset=".6263" stop-color="#ff6d6d"/><stop offset=".9056" stop-color="#ff2e2e"/><stop offset="1" stop-color="#ff3b3b"/></linearGradient><linearGradient id="h125" x2="0" y2="1"><stop offset="0" stop-color="#00f"/><stop offset=".1263" stop-color="#00f"/><stop offset=".129" stop-color="#ffc4c4"/><stop offset=".1449" stop-color="#ffb3b3"/><stop offset=".5625" stop-color="#ff7171"/><stop offset=".6556" stop-color="#ff6767"/><stop offset=".8949" stop-color="#ff2e2e"/><stop offset=".9747" stop-color="#ff3b3b"/><stop offset="1" stop-color="#ff3b3b"/></linearGradient><linearGradient id="h126" x2="0" y2="1"><stop offset="0" stop-color="#00f"/><stop offset=".1263" stop-color="#00f"/><stop offset=".129" stop-color="#ffc7c7"/><stop offset=".1476" stop-color="#ffb9b9"/><stop offset=".4003" stop-color="#ff8d8d"/><stop offset=".5066" stop-color="#ff7272"/><stop offset=".5439" stop-color="#ff6a6a"/><stop offset=".5997" stop-color="#ff6a6a"/><stop offset=".6848" stop-color="#ff6262"/><stop offset=".7886" stop-color="#ff4848"/><stop offset=".8843" stop-color="#ff2d2d"/><stop offset=".9907" stop-color="#ff3a3a"/><stop offset="1" stop-color="#ff3a3a"/></linearGradient><linearGradient id="h127" x2="0" y2="1"><stop offset="0" stop-color="#00f"/><stop offset=".1263" stop-color="#00f"/><stop offset=".129" stop-color="#ffc9c9"/><stop offset=".1503" stop-color="#ffbebe"/><stop offset=".2566" stop-color="#ffacac"/><stop offset=".4295" stop-color="#ff8585"/><stop offset=".496" stop-color="#ff6565"/><stop offset=".5678" stop-color="#ff6868"/><stop offset=".6104" stop-color="#ff5c5c"/><stop offset=".6609" stop-color="#f66"/><stop offset=".762" stop-color="#ff5252"/><stop offset=".879" stop-color="#ff2d2d"/><stop offset="1" stop-color="#ff3939"/></linearGradient><linearGradient id="h128" x2="0" y2="1"><stop offset="0" stop-color="#00f"/><stop offset=".1263" stop-color="#00f"/><stop offset=".129" stop-color="#ffcaca"/><stop offset=".1582" stop-color="#ffc0c0"/><stop offset=".2434" stop-color="#ffb2b2"/><stop offset=".3923" stop-color="#ff8d8d"/><stop offset=".4535" stop-color="#ff6767"/><stop offset=".4934" stop-color="#ff6d6d"/><stop offset=".5359" stop-color="#ff6f6f"/><stop offset=".5918" stop-color="#ff6161"/><stop offset=".621" stop-color="#ff6161"/><stop offset=".6609" stop-color="#ff6969"/><stop offset=".7593" stop-color="#ff5454"/><stop offset=".8737" stop-color="#ff2d2d"/><stop offset="1" stop-color="#ff3939"/></linearGradient><linearGradient id="h129" x2="0" y2="1"><stop offset="0" stop-color="#00f"/><stop offset=".1263" stop-color="#00f"/><stop offset=".129" stop-color="#fcc"/><stop offset=".1769" stop-color="#ffc2c2"/><stop offset=".2434" stop-color="#ffb5b5"/><stop offset=".3763" stop-color="#ff9191"/><stop offset=".4189" stop-color="#ff6969"/><stop offset=".4481" stop-color="#ff6d6d"/><stop offset=".4907" stop-color="#ff7979"/><stop offset=".6024" stop-color="#ff6868"/><stop offset=".6609" stop-color="#ff7272"/><stop offset=".7327" stop-color="#ff5e5e"/><stop offset=".8684" stop-color="#ff2d2d"/><stop offset=".9428" stop-color="#f33"/><stop offset="1" stop-color="#ff3838"/></linearGradient><linearGradient id="h130" x2="0" y2="1"><stop offset="0" stop-color="#00f"/><stop offset=".1263" stop-color="#00f"/><stop offset=".129" stop-color="#ffcdcd"/><stop offset=".2327" stop-color="#fbb"/><stop offset=".3843" stop-color="#ff9191"/><stop offset=".4215" stop-color="#ff7d7d"/><stop offset=".4774" stop-color="#ff8080"/><stop offset=".5545" stop-color="#ff6d6d"/><stop offset=".6423" stop-color="#ff6e6e"/><stop offset=".6795" stop-color="#ff7272"/><stop offset=".7726" stop-color="#ff5050"/><stop offset=".8684" stop-color="#ff2d2d"/><stop offset=".9375" stop-color="#ff3030"/><stop offset="1" stop-color="#ff3838"/></linearGradient><linearGradient id="h131" x2="0" y2="1"><stop offset="0" stop-color="#00f"/><stop offset=".1263" stop-color="#00f"/><stop offset=".129" stop-color="#ffcfcf"/><stop offset=".2247" stop-color="#ffc2c2"/><stop offset=".3551" stop-color="#ff9d9d"/><stop offset=".5146" stop-color="#ff7575"/><stop offset=".5545" stop-color="#ff6c6c"/><stop offset=".6503" stop-color="#ff6868"/><stop offset=".7008" stop-color="#ff7373"/><stop offset=".7646" stop-color="#f55"/><stop offset=".8258" stop-color="#ff3a3a"/><stop offset=".8843" stop-color="#ff2b2b"/><stop offset="1" stop-color="#ff3737"/></linearGradient><linearGradient id="h132" x2="0" y2="1"><stop offset="0" stop-color="#00f"/><stop offset=".1263" stop-color="#00f"/><stop offset=".129" stop-color="#ffcfcf"/><stop offset=".2699" stop-color="#ffaeae"/><stop offset=".4747" stop-color="#ff8a8a"/><stop offset=".5279" stop-color="#ff6d6d"/><stop offset=".5652" stop-color="#ff7070"/><stop offset=".6237" stop-color="#ff4f4f"/><stop offset=".6503" stop-color="#ff5656"/><stop offset=".6981" stop-color="#ff6c6c"/><stop offset=".7407" stop-color="#ff7171"/><stop offset=".7939" stop-color="#ff4343"/><stop offset=".8577" stop-color="#ff3131"/><stop offset=".9082" stop-color="#ff3131"/><stop offset=".996" stop-color="#ff3535"/><stop offset="1" stop-color="#ff3535"/></linearGradient><linearGradient id="h133" x2="0" y2="1"><stop offset="0" stop-color="#00f"/><stop offset=".1263" stop-color="#00f"/><stop offset=".129" stop-color="#ffcfcf"/><stop offset=".3152" stop-color="#ffa4a4"/><stop offset=".4668" stop-color="#ff8e8e"/><stop offset=".5199" stop-color="#ff6d6d"/><stop offset=".5652" stop-color="#ff7474"/><stop offset=".621" stop-color="#ff5e5e"/><stop offset=".7221" stop-color="#ff6c6c"/><stop offset=".746" stop-color="#ff6262"/><stop offset=".7832" stop-color="#ff3f3f"/><stop offset=".8311" stop-color="#ff3434"/><stop offset=".8763" stop-color="#ff3232"/><stop offset=".9162" stop-color="#ff3030"/><stop offset=".9854" stop-color="#ff3535"/><stop offset="1" stop-color="#ff3434"/></linearGradient><linearGradient id="h134" x2="0" y2="1"><stop offset="0" stop-color="#00f"/><stop offset=".1263" stop-color="#00f"/><stop offset=".129" stop-color="#ffcfcf"/><stop offset=".3125" stop-color="#ffa3a3"/><stop offset=".4561" stop-color="#ff8e8e"/><stop offset=".5093" stop-color="#ff6d6d"/><stop offset=".5652" stop-color="#ff7676"/><stop offset=".6237" stop-color="#ff6161"/><stop offset=".7088" stop-color="#ff6060"/><stop offset=".7354" stop-color="#ff5454"/><stop offset=".7699" stop-color="#ff3737"/><stop offset=".8045" stop-color="#f33"/><stop offset=".8551" stop-color="#ff3c3c"/><stop offset=".9295" stop-color="#ff2e2e"/><stop offset="1" stop-color="#ff3434"/></linearGradient><linearGradient id="h135" x2="0" y2="1"><stop offset="0" stop-color="#00f"/><stop offset=".1263" stop-color="#00f"/><stop offset=".129" stop-color="#ffcece"/><stop offset=".3152" stop-color="#ffa0a0"/><stop offset=".4508" stop-color="#ff8d8d"/><stop offset=".504" stop-color="#ff6d6d"/><stop offset=".5652" stop-color="#f77"/><stop offset=".6051" stop-color="#ff6363"/><stop offset=".7114" stop-color="#ff3535"/><stop offset=".762" stop-color="#ff2d2d"/><stop offset=".8391" stop-color="#ff3c3c"/><stop offset=".9056" stop-color="#ff3434"/><stop offset=".9614" stop-color="#ff2d2d"/><stop offset="1" stop-color="#ff3232"/></linearGradient><linearGradient id="h136" x2="0" y2="1"><stop offset="0" stop-color="#00f"/><stop offset=".1263" stop-color="#00f"/><stop offset=".129" stop-color="#fcc"/><stop offset=".3152" stop-color="#ffa1a1"/><stop offset=".4402" stop-color="#ff8e8e"/><stop offset=".4934" stop-color="#ff6d6d"/><stop offset=".5598" stop-color="#ff7979"/><stop offset=".6024" stop-color="#ff6565"/><stop offset=".6848" stop-color="#ff3a3a"/><stop offset=".7354" stop-color="#ff2c2c"/><stop offset=".8152" stop-color="#ff3434"/><stop offset=".8737" stop-color="#ff4242"/><stop offset=".9481" stop-color="#ff3e3e"/><stop offset="1" stop-color="#ff3030"/></linearGradient><linearGradient id="h137" x2="0" y2="1"><stop offset="0" stop-color="#00f"/><stop offset=".1263" stop-color="#00f"/><stop offset=".129" stop-color="#ffcbcb"/><stop offset=".3098" stop-color="#ffa2a2"/><stop offset=".4295" stop-color="#ff8e8e"/><stop offset=".4827" stop-color="#ff6d6d"/><stop offset=".5519" stop-color="#ff7b7b"/><stop offset=".5944" stop-color="#ff6b6b"/><stop offset=".6902" stop-color="#f33"/><stop offset=".7354" stop-color="#ff2c2c"/><stop offset=".7912" stop-color="#f33"/><stop offset=".8391" stop-color="#ff3434"/><stop offset=".9056" stop-color="#ff4848"/><stop offset="1" stop-color="#ff4848"/></linearGradient><linearGradient id="h138" x2="0" y2="1"><stop offset="0" stop-color="#00f"/><stop offset=".1263" stop-color="#00f"/><stop offset=".129" stop-color="#fcc"/><stop offset=".387" stop-color="#ff9595"/><stop offset=".4269" stop-color="#ff8080"/><stop offset=".4614" stop-color="#ff6d6d"/><stop offset=".5412" stop-color="#ff7c7c"/><stop offset=".5838" stop-color="#ff7171"/><stop offset=".6822" stop-color="#ff3030"/><stop offset=".7221" stop-color="#ff2d2d"/><stop offset=".8125" stop-color="#ff4040"/><stop offset=".879" stop-color="#ff3232"/><stop offset=".9614" stop-color="#ff4848"/><stop offset="1" stop-color="#ff4949"/></linearGradient><linearGradient id="h139" x2="0" y2="1"><stop offset="0" stop-color="#00f"/><stop offset=".1263" stop-color="#00f"/><stop offset=".129" stop-color="#ffcece"/><stop offset=".3524" stop-color="#ff9f9f"/><stop offset=".4136" stop-color="#ff7a7a"/><stop offset=".4402" stop-color="#ff6d6d"/><stop offset=".5226" stop-color="#ff7c7c"/><stop offset=".5758" stop-color="#ff7373"/><stop offset=".6769" stop-color="#ff3030"/><stop offset=".7168" stop-color="#ff2d2d"/><stop offset=".8364" stop-color="#ff4545"/><stop offset=".8816" stop-color="#ff3d3d"/><stop offset=".9242" stop-color="#ff3232"/><stop offset="1" stop-color="#ff4747"/></linearGradient><linearGradient id="h140" x2="0" y2="1"><stop offset="0" stop-color="#00f"/><stop offset=".1263" stop-color="#00f"/><stop offset=".129" stop-color="#ffcfcf"/><stop offset=".3497" stop-color="#ff9e9e"/><stop offset=".4269" stop-color="#ff6d6d"/><stop offset=".5146" stop-color="#ff7c7c"/><stop offset=".5705" stop-color="#ff7474"/><stop offset=".6769" stop-color="#ff3030"/><stop offset=".7141" stop-color="#ff2e2e"/><stop offset=".7859" stop-color="#ff4141"/><stop offset=".9003" stop-color="#ff4545"/><stop offset=".9668" stop-color="#ff3232"/><stop offset="1" stop-color="#ff3939"/></linearGradient><linearGradient id="h141" x2="0" y2="1"><stop offset="0" stop-color="#00f"/><stop offset=".1263" stop-color="#00f"/><stop offset=".129" stop-color="#ffcfcf"/><stop offset=".3471" stop-color="#ff9e9e"/><stop offset=".4215" stop-color="#ff6d6d"/><stop offset=".5146" stop-color="#ff7c7c"/><stop offset=".5705" stop-color="#ff7373"/><stop offset=".6742" stop-color="#ff3131"/><stop offset=".7114" stop-color="#ff3030"/><stop offset=".7779" stop-color="#ff4f4f"/><stop offset=".8231" stop-color="#ff4d4d"/><stop offset=".8763" stop-color="#f44"/><stop offset=".9375" stop-color="#f44"/><stop offset="1" stop-color="#ff3232"/></linearGradient><linearGradient id="h142" x2="0" y2="1"><stop offset="0" stop-color="#00f"/><stop offset=".1263" stop-color="#00f"/><stop offset=".129" stop-color="#ffcfcf"/><stop offset=".3551" stop-color="#ff9b9b"/><stop offset=".4322" stop-color="#ff6d6d"/><stop offset=".5173" stop-color="#ff7c7c"/><stop offset=".5678" stop-color="#ff7373"/><stop offset=".6742" stop-color="#ff3030"/><stop offset=".7141" stop-color="#ff2d2d"/><stop offset=".8391" stop-color="#ff5151"/><stop offset=".8923" stop-color="#ff4d4d"/><stop offset=".9455" stop-color="#ff4545"/><stop offset="1" stop-color="#ff4949"/></linearGradient><linearGradient id="h143" x2="0" y2="1"><stop offset="0" stop-color="#00f"/><stop offset=".1263" stop-color="#00f"/><stop offset=".129" stop-color="#ffcfcf"/><stop offset=".387" stop-color="#ff9494"/><stop offset=".4561" stop-color="#ff6d6d"/><stop offset=".5306" stop-color="#ff7c7c"/><stop offset=".5731" stop-color="#ff7070"/><stop offset=".6715" stop-color="#ff3131"/><stop offset=".7114" stop-color="#ff2d2d"/><stop offset=".8949" stop-color="#ff5050"/><stop offset=".9588" stop-color="#ff5050"/><stop offset="1" stop-color="#ff4747"/></linearGradient><linearGradient id="h144" x2="0" y2="1"><stop offset="0" stop-color="#00f"/><stop offset=".1263" stop-color="#00f"/><stop offset=".129" stop-color="#ffcfcf"/><stop offset=".4189" stop-color="#ff8e8e"/><stop offset=".4721" stop-color="#ff6d6d"/><stop offset=".5412" stop-color="#ff7b7b"/><stop offset=".5864" stop-color="#ff6767"/><stop offset=".6715" stop-color="#ff3030"/><stop offset=".7114" stop-color="#ff2d2d"/><stop offset=".8152" stop-color="#ff4242"/><stop offset="1" stop-color="#ff5252"/></linearGradient><linearGradient id="h145" x2="0" y2="1"><stop offset="0" stop-color="#00f"/><stop offset=".1263" stop-color="#00f"/><stop offset=".129" stop-color="#ffcfcf"/><stop offset=".4348" stop-color="#ff8d8d"/><stop offset=".4854" stop-color="#ff6d6d"/><stop offset=".5439" stop-color="#ff7b7b"/><stop offset=".5918" stop-color="#ff6363"/><stop offset=".6715" stop-color="#ff3030"/><stop offset=".7114" stop-color="#ff2d2d"/><stop offset=".871" stop-color="#ff4c4c"/><stop offset=".9588" stop-color="#ff4848"/><stop offset="1" stop-color="#ff5050"/></linearGradient><linearGradient id="h146" x2="0" y2="1"><stop offset="0" stop-color="#00f"/><stop offset=".1263" stop-color="#00f"/><stop offset=".129" stop-color="#ffcfcf"/><stop offset=".4348" stop-color="#ff8e8e"/><stop offset=".488" stop-color="#ff6d6d"/><stop offset=".5439" stop-color="#ff7b7b"/><stop offset=".5918" stop-color="#ff6363"/><stop offset=".6715" stop-color="#ff3030"/><stop offset=".7114" stop-color="#ff2d2d"/><stop offset=".8737" stop-color="#ff4d4d"/><stop offset=".9774" stop-color="#ff4949"/><stop offset="1" stop-color="#ff4e4e"/></linearGradient></defs><g clip-path="url(#h1c)"><g shape-rendering="crispEdges"><rect x="91" y="531.3" width="39" height="375.7" fill="url(#h10)"/><rect x="91" y="531.3" width="39" height="375.7" fill="url(#h11)" mask="url(#rmp)"/><rect x="130" y="531.3" width="21" height="375.7" fill="url(#h11)"/><rect x="130" y="531.3" width="21" height="375.7" fill="url(#h12)" mask="url(#rmp)"/><rect x="151" y="531.3" width="34" height="375.7" fill="url(#h12)"/><rect x="151" y="531.3" width="34" height="375.7" fill="url(#h13)" mask="url(#rmp)"/><rect x="185" y="531.3" width="62" height="375.7" fill="url(#h13)"/><rect x="185" y="531.3" width="62" height="375.7" fill="url(#h14)" mask="url(#rmp)"/><rect x="247" y="531.3" width="20" height="375.7" fill="url(#h14)"/><rect x="247" y="531.3" width="20" height="375.7" fill="url(#h15)" mask="url(#rmp)"/><rect x="267" y="531.3" width="32" height="375.7" fill="url(#h15)"/><rect x="267" y="531.3" width="32" height="375.7" fill="url(#h16)" mask="url(#rmp)"/><rect x="299" y="531.3" width="24" height="375.7" fill="url(#h16)"/><rect x="299" y="531.3" width="24" height="375.7" fill="url(#h17)" mask="url(#rmp)"/><rect x="323" y="531.3" width="44" height="375.7" fill="url(#h17)"/><rect x="323" y="531.3" width="44" height="375.7" fill="url(#h18)" mask="url(#rmp)"/><rect x="367" y="531.3" width="47" height="375.7" fill="url(#h18)"/><rect x="367" y="531.3" width="47" height="375.7" fill="url(#h19)" mask="url(#rmp)"/><rect x="414" y="531.3" width="32" height="375.7" fill="url(#h19)"/><rect x="414" y="531.3" width="32" height="375.7" fill="url(#h110)" mask="url(#rmp)"/><rect x="446" y="531.3" width="56" height="375.7" fill="url(#h110)"/><rect x="446" y="531.3" width="56" height="375.7" fill="url(#h111)" mask="url(#rmp)"/><rect x="502" y="531.3" width="29" height="375.7" fill="url(#h111)"/><rect x="502" y="531.3" width="29" height="375.7" fill="url(#h112)" mask="url(#rmp)"/><rect x="531" y="531.3" width="38" height="375.7" fill="url(#h112)"/><rect x="531" y="531.3" width="38" height="375.7" fill="url(#h113)" mask="url(#rmp)"/><rect x="569" y="531.3" width="26" height="375.7" fill="url(#h113)"/><rect x="569" y="531.3" width="26" height="375.7" fill="url(#h114)" mask="url(#rmp)"/><rect x="595" y="531.3" width="25" height="375.7" fill="url(#h114)"/><rect x="595" y="531.3" width="25" height="375.7" fill="url(#h115)" mask="url(#rmp)"/><rect x="620" y="531.3" width="20" height="375.7" fill="url(#h115)"/><rect x="620" y="531.3" width="20" height="375.7" fill="url(#h116)" mask="url(#rmp)"/><rect x="640" y="531.3" width="19" height="375.7" fill="url(#h116)"/><rect x="640" y="531.3" width="19" height="375.7" fill="url(#h117)" mask="url(#rmp)"/><rect x="659" y="531.3" width="19" height="375.7" fill="url(#h117)"/><rect x="659" y="531.3" width="19" height="375.7" fill="url(#h118)" mask="url(#rmp)"/><rect x="678" y="531.3" width="16" height="375.7" fill="url(#h118)"/><rect x="678" y="531.3" width="16" height="375.7" fill="url(#h119)" mask="url(#rmp)"/><rect x="694" y="531.3" width="22" height="375.7" fill="url(#h119)"/><rect x="694" y="531.3" width="22" height="375.7" fill="url(#h120)" mask="url(#rmp)"/><rect x="716" y="531.3" width="15" height="375.7" fill="url(#h120)"/><rect x="716" y="531.3" width="15" height="375.7" fill="url(#h121)" mask="url(#rmp)"/><rect x="731" y="531.3" width="15" height="375.7" fill="url(#h121)"/><rect x="731" y="531.3" width="15" height="375.7" fill="url(#h122)" mask="url(#rmp)"/><rect x="746" y="531.3" width="24" height="375.7" fill="url(#h122)"/><rect x="746" y="531.3" width="24" height="375.7" fill="url(#h123)" mask="url(#rmp)"/><rect x="770" y="531.3" width="10" height="375.7" fill="url(#h123)"/><rect x="770" y="531.3" width="10" height="375.7" fill="url(#h124)" mask="url(#rmp)"/><rect x="780" y="531.3" width="14" height="375.7" fill="url(#h124)"/><rect x="780" y="531.3" width="14" height="375.7" fill="url(#h125)" mask="url(#rmp)"/><rect x="794" y="531.3" width="18" height="375.7" fill="url(#h125)"/><rect x="794" y="531.3" width="18" height="375.7" fill="url(#h126)" mask="url(#rmp)"/><rect x="812" y="531.3" width="12" height="375.7" fill="url(#h126)"/><rect x="812" y="531.3" width="12" height="375.7" fill="url(#h127)" mask="url(#rmp)"/><rect x="824" y="531.3" width="9" height="375.7" fill="url(#h127)"/><rect x="824" y="531.3" width="9" height="375.7" fill="url(#h128)" mask="url(#rmp)"/><rect x="833" y="531.3" width="8" height="375.7" fill="url(#h128)"/><rect x="833" y="531.3" width="8" height="375.7" fill="url(#h129)" mask="url(#rmp)"/><rect x="841" y="531.3" width="8" height="375.7" fill="url(#h129)"/><rect x="841" y="531.3" width="8" height="375.7" fill="url(#h130)" mask="url(#rmp)"/><rect x="849" y="531.3" width="10" height="375.7" fill="url(#h130)"/><rect x="849" y="531.3" width="10" height="375.7" fill="url(#h131)" mask="url(#rmp)"/><rect x="859" y="531.3" width="24" height="375.7" fill="url(#h131)"/><rect x="859" y="531.3" width="24" height="375.7" fill="url(#h132)" mask="url(#rmp)"/><rect x="883" y="531.3" width="24" height="375.7" fill="url(#h132)"/><rect x="883" y="531.3" width="24" height="375.7" fill="url(#h133)" mask="url(#rmp)"/><rect x="907" y="531.3" width="33" height="375.7" fill="url(#h133)"/><rect x="907" y="531.3" width="33" height="375.7" fill="url(#h134)" mask="url(#rmp)"/><rect x="940" y="531.3" width="25" height="375.7" fill="url(#h134)"/><rect x="940" y="531.3" width="25" height="375.7" fill="url(#h135)" mask="url(#rmp)"/><rect x="965" y="531.3" width="26" height="375.7" fill="url(#h135)"/><rect x="965" y="531.3" width="26" height="375.7" fill="url(#h136)" mask="url(#rmp)"/><rect x="991" y="531.3" width="21" height="375.7" fill="url(#h136)"/><rect x="991" y="531.3" width="21" height="375.7" fill="url(#h137)" mask="url(#rmp)"/><rect x="1012" y="531.3" width="29" height="375.7" fill="url(#h137)"/><rect x="1012" y="531.3" width="29" height="375.7" fill="url(#h138)" mask="url(#rmp)"/><rect x="1041" y="531.3" width="28" height="375.7" fill="url(#h138)"/><rect x="1041" y="531.3" width="28" height="375.7" fill="url(#h139)" mask="url(#rmp)"/><rect x="1069" y="531.3" width="25" height="375.7" fill="url(#h139)"/><rect x="1069" y="531.3" width="25" height="375.7" fill="url(#h140)" mask="url(#rmp)"/><rect x="1094" y="531.3" width="19" height="375.7" fill="url(#h140)"/><rect x="1094" y="531.3" width="19" height="375.7" fill="url(#h141)" mask="url(#rmp)"/><rect x="1113" y="531.3" width="37" height="375.7" fill="url(#h141)"/><rect x="1113" y="531.3" width="37" height="375.7" fill="url(#h142)" mask="url(#rmp)"/><rect x="1150" y="531.3" width="41" height="375.7" fill="url(#h142)"/><rect x="1150" y="531.3" width="41" height="375.7" fill="url(#h143)" mask="url(#rmp)"/><rect x="1191" y="531.3" width="46" height="375.7" fill="url(#h143)"/><rect x="1191" y="531.3" width="46" height="375.7" fill="url(#h144)" mask="url(#rmp)"/><rect x="1237" y="531.3" width="53" height="375.7" fill="url(#h144)"/><rect x="1237" y="531.3" width="53" height="375.7" fill="url(#h145)" mask="url(#rmp)"/><rect x="1290" y="531.3" width="14" height="375.7" fill="url(#h145)"/><rect x="1290" y="531.3" width="11" height="375.7" fill="url(#h146)" mask="url(#rmp)"/></g><rect x="91.4" y="531.3" width="1210.90" height="49.59" fill="#00f"/></g>
<rect x="91.4" y="531.3" width="1210.90" height="375.70" fill="none" stroke="#000" stroke-width="1.4"/>
<line x1="91.40" y1="531.3" x2="91.40" y2="526.54" stroke="#000" stroke-width="1.4"/>
<text x="91.40" y="514.40" class="t" text-anchor="middle">0</text>
<line x1="233.86" y1="531.3" x2="233.86" y2="526.54" stroke="#000" stroke-width="1.4"/>
<text x="233.86" y="514.40" class="t" text-anchor="middle">2</text>
<line x1="376.32" y1="531.3" x2="376.32" y2="526.54" stroke="#000" stroke-width="1.4"/>
<text x="376.32" y="514.40" class="t" text-anchor="middle">4</text>
<line x1="518.78" y1="531.3" x2="518.78" y2="526.54" stroke="#000" stroke-width="1.4"/>
<text x="518.78" y="514.40" class="t" text-anchor="middle">6</text>
<line x1="661.24" y1="531.3" x2="661.24" y2="526.54" stroke="#000" stroke-width="1.4"/>
<text x="661.24" y="514.40" class="t" text-anchor="middle">8</text>
<line x1="803.69" y1="531.3" x2="803.69" y2="526.54" stroke="#000" stroke-width="1.4"/>
<text x="803.69" y="514.40" class="t" text-anchor="middle">10</text>
<line x1="946.15" y1="531.3" x2="946.15" y2="526.54" stroke="#000" stroke-width="1.4"/>
<text x="946.15" y="514.40" class="t" text-anchor="middle">12</text>
<line x1="1088.61" y1="531.3" x2="1088.61" y2="526.54" stroke="#000" stroke-width="1.4"/>
<text x="1088.61" y="514.40" class="t" text-anchor="middle">14</text>
<line x1="1231.07" y1="531.3" x2="1231.07" y2="526.54" stroke="#000" stroke-width="1.4"/>
<text x="1231.07" y="514.40" class="t" text-anchor="middle">16</text>
<line x1="91.4" y1="531.30" x2="86.64" y2="531.30" stroke="#000" stroke-width="1.4"/>
<text x="79.80" y="541.20" class="t" text-anchor="end">0.0</text>
<line x1="91.4" y1="584.97" x2="86.64" y2="584.97" stroke="#000" stroke-width="1.4"/>
<text x="79.80" y="594.87" class="t" text-anchor="end">0.5</text>
<line x1="91.4" y1="638.64" x2="86.64" y2="638.64" stroke="#000" stroke-width="1.4"/>
<text x="79.80" y="648.54" class="t" text-anchor="end">1.0</text>
<line x1="91.4" y1="692.31" x2="86.64" y2="692.31" stroke="#000" stroke-width="1.4"/>
<text x="79.80" y="702.21" class="t" text-anchor="end">1.5</text>
<line x1="91.4" y1="745.99" x2="86.64" y2="745.99" stroke="#000" stroke-width="1.4"/>
<text x="79.80" y="755.89" class="t" text-anchor="end">2.0</text>
<line x1="91.4" y1="799.66" x2="86.64" y2="799.66" stroke="#000" stroke-width="1.4"/>
<text x="79.80" y="809.56" class="t" text-anchor="end">2.5</text>
<line x1="91.4" y1="853.33" x2="86.64" y2="853.33" stroke="#000" stroke-width="1.4"/>
<text x="79.80" y="863.23" class="t" text-anchor="end">3.0</text>
<line x1="91.4" y1="907.00" x2="86.64" y2="907.00" stroke="#000" stroke-width="1.4"/>
<text x="79.80" y="916.90" class="t" text-anchor="end">3.5</text>
<text x="696.85" y="489.60" class="l" text-anchor="middle">Distance (km)</text>
<text transform="translate(27.10,719.15) rotate(-90)" class="l" text-anchor="middle">Depth (km)</text>
<text x="2.20" y="532.80" class="l">(b)</text>
<linearGradient id="cbg1" x1="0" y1="1" x2="0" y2="0"><stop offset="0" stop-color="#00f"/><stop offset="0.5" stop-color="#fff"/><stop offset="1" stop-color="#f00"/></linearGradient>
<rect x="1317.5" y="531.3" width="16.00" height="375.70" fill="url(#cbg1)" stroke="#000" stroke-width="1.4"/>
<line x1="1333.5" y1="907.00" x2="1338.26" y2="907.00" stroke="#000" stroke-width="1.4"/>
<text x="1343.50" y="916.90" class="c">1000</text>
<line x1="1333.5" y1="791.68" x2="1338.26" y2="791.68" stroke="#000" stroke-width="1.4"/>
<text x="1343.50" y="801.58" class="c">1500</text>
<line x1="1333.5" y1="676.37" x2="1338.26" y2="676.37" stroke="#000" stroke-width="1.4"/>
<text x="1343.50" y="686.27" class="c">2000</text>
<line x1="1333.5" y1="561.05" x2="1338.26" y2="561.05" stroke="#000" stroke-width="1.4"/>
<text x="1343.50" y="570.95" class="c">2500</text>
<text transform="translate(1438.40,719.15) rotate(-90)" class="c" text-anchor="middle">Normalized pressure</text>
<defs><clipPath id="h2c"><rect x="90.2" y="998.5" width="1210.40" height="375.90"/></clipPath><linearGradient id="h20" x2="0" y2="1"><stop offset="0" stop-color="#33f"/><stop offset=".1263" stop-color="#33f"/><stop offset=".129" stop-color="#4343ff"/><stop offset=".3098" stop-color="#55f"/><stop offset=".4588" stop-color="#7979ff"/><stop offset=".512" stop-color="#99f"/><stop offset=".5891" stop-color="#e9e9ff"/><stop offset=".6077" stop-color="#fff"/><stop offset=".6476" stop-color="#ffd4d4"/><stop offset=".6742" stop-color="#ffcfcf"/><stop offset=".7221" stop-color="#ffd9d9"/><stop offset=".754" stop-color="#ffcaca"/><stop offset=".7886" stop-color="#ffa2a2"/><stop offset=".8364" stop-color="#ff6161"/><stop offset=".871" stop-color="#ff4949"/><stop offset=".9029" stop-color="#ff4848"/><stop offset=".9322" stop-color="#ff5f5f"/><stop offset=".9747" stop-color="#ff8989"/><stop offset="1" stop-color="#ff9494"/></linearGradient><linearGradient id="h21" x2="0" y2="1"><stop offset="0" stop-color="#33f"/><stop offset=".1263" stop-color="#33f"/><stop offset=".129" stop-color="#4343ff"/><stop offset=".3098" stop-color="#55f"/><stop offset=".4561" stop-color="#7979ff"/><stop offset=".5093" stop-color="#99f"/><stop offset=".5864" stop-color="#e9e9ff"/><stop offset=".6051" stop-color="#fffefe"/><stop offset=".6449" stop-color="#ffd4d4"/><stop offset=".6715" stop-color="#ffcfcf"/><stop offset=".7221" stop-color="#ffd9d9"/><stop offset=".754" stop-color="#ffcaca"/><stop offset=".7886" stop-color="#ffa2a2"/><stop offset=".8338" stop-color="#ff6464"/><stop offset=".8684" stop-color="#ff4c4c"/><stop offset=".9056" stop-color="#ff4949"/><stop offset="1" stop-color="#ff7575"/></linearGradient><linearGradient id="h22" x2="0" y2="1"><stop offset="0" stop-color="#33f"/><stop offset=".1263" stop-color="#33f"/><stop offset=".129" stop-color="#4343ff"/><stop offset=".3125" stop-color="#55f"/><stop offset=".4535" stop-color="#7979ff"/><stop offset=".5066" stop-color="#99f"/><stop offset=".5838" stop-color="#eaeaff"/><stop offset=".6024" stop-color="#fffefe"/><stop offset=".6423" stop-color="#ffd4d4"/><stop offset=".6689" stop-color="#ffcfcf"/><stop offset=".7194" stop-color="#ffdada"/><stop offset=".7513" stop-color="#fcc"/><stop offset=".7859" stop-color="#ffa6a6"/><stop offset=".8364" stop-color="#ff6161"/><stop offset=".871" stop-color="#ff4949"/><stop offset=".9029" stop-color="#ff4747"/><stop offset=".9322" stop-color="#ff5c5c"/><stop offset=".9774" stop-color="#f88"/><stop offset="1" stop-color="#ff9292"/></linearGradient><linearGradient id="h23" x2="0" y2="1"><stop offset="0" stop-color="#33f"/><stop offset=".1263" stop-color="#33f"/><stop offset=".129" stop-color="#4343ff"/><stop offset=".2726" stop-color="#4848ff"/><stop offset=".3205" stop-color="#4f4fff"/><stop offset=".4694" stop-color="#8383ff"/><stop offset=".5199" stop-color="#aaf"/><stop offset=".5971" stop-color="#fffefe"/><stop offset=".637" stop-color="#ffd4d4"/><stop offset=".6636" stop-color="#ffcfcf"/><stop offset=".7168" stop-color="#ffdada"/><stop offset=".7513" stop-color="#fcc"/><stop offset=".7859" stop-color="#ffa6a6"/><stop offset=".8338" stop-color="#ff6464"/><stop offset=".8684" stop-color="#ff4b4b"/><stop offset=".9029" stop-color="#ff4949"/><stop offset=".9428" stop-color="#ff6060"/><stop offset=".9907" stop-color="#ff7b7b"/><stop offset="1" stop-color="#ff7e7e"/></linearGradient><linearGradient id="h24" x2="0" y2="1"><stop offset="0" stop-color="#33f"/><stop offset=".1263" stop-color="#33f"/><stop offset=".129" stop-color="#4343ff"/><stop offset=".3098" stop-color="#4d4dff"/><stop offset=".4641" stop-color="#8383ff"/><stop offset=".5146" stop-color="#a9a9ff"/><stop offset=".5918" stop-color="#fefeff"/><stop offset=".6316" stop-color="#ffd5d5"/><stop offset=".6582" stop-color="#ffcfcf"/><stop offset=".7141" stop-color="#ffdbdb"/><stop offset=".7487" stop-color="#ffd0d0"/><stop offset=".7806" stop-color="#ffb0b0"/><stop offset=".8364" stop-color="#ff6565"/><stop offset=".8684" stop-color="#ff5050"/><stop offset=".9109" stop-color="#ff4c4c"/><stop offset="1" stop-color="#ff7070"/></linearGradient><linearGradient id="h25" x2="0" y2="1"><stop offset="0" stop-color="#33f"/><stop offset=".1263" stop-color="#33f"/><stop offset=".129" stop-color="#4343ff"/><stop offset=".3098" stop-color="#55f"/><stop offset=".4402" stop-color="#7b7bff"/><stop offset=".4934" stop-color="#9c9cff"/><stop offset=".5731" stop-color="#f1f1ff"/><stop offset=".5864" stop-color="#fffdfd"/><stop offset=".6237" stop-color="#ffd6d6"/><stop offset=".6503" stop-color="#ffd0d0"/><stop offset=".7114" stop-color="#fdd"/><stop offset=".7513" stop-color="#ffd2d2"/><stop offset=".7832" stop-color="#ffb6b6"/><stop offset=".8418" stop-color="#ff6767"/><stop offset=".8737" stop-color="#ff5353"/><stop offset=".9109" stop-color="#ff5353"/><stop offset=".9481" stop-color="#ff6c6c"/><stop offset=".9907" stop-color="#ff8c8c"/><stop offset="1" stop-color="#ff8f8f"/></linearGradient><linearGradient id="h26" x2="0" y2="1"><stop offset="0" stop-color="#33f"/><stop offset=".1263" stop-color="#33f"/><stop offset=".129" stop-color="#4343ff"/><stop offset=".2646" stop-color="#5252ff"/><stop offset=".4348" stop-color="#8282ff"/><stop offset=".4907" stop-color="#a3a3ff"/><stop offset=".5519" stop-color="#ddf"/><stop offset=".5758" stop-color="#fdfdff"/><stop offset=".613" stop-color="#ffd7d7"/><stop offset=".637" stop-color="#ffd4d4"/><stop offset=".6928" stop-color="#ffe9e9"/><stop offset=".7487" stop-color="#ffe4e4"/><stop offset=".7832" stop-color="#ffcece"/><stop offset=".8231" stop-color="#ff9797"/><stop offset=".8524" stop-color="#ff7676"/><stop offset=".8896" stop-color="#ff6868"/><stop offset=".9588" stop-color="#ff6c6c"/><stop offset="1" stop-color="#f77"/></linearGradient><linearGradient id="h27" x2="0" y2="1"><stop offset="0" stop-color="#33f"/><stop offset=".1263" stop-color="#33f"/><stop offset=".129" stop-color="#4343ff"/><stop offset=".2646" stop-color="#5252ff"/><stop offset=".4056" stop-color="#7b7bff"/><stop offset=".4694" stop-color="#9a9aff"/><stop offset=".5386" stop-color="#d4d4ff"/><stop offset=".5731" stop-color="#fffefe"/><stop offset=".6024" stop-color="#ffdcdc"/><stop offset=".6263" stop-color="#ffd7d7"/><stop offset=".6848" stop-color="#ffebeb"/><stop offset=".738" stop-color="#ffe5e5"/><stop offset=".7753" stop-color="#ffcdcd"/><stop offset=".8391" stop-color="#f88"/><stop offset=".8737" stop-color="#ff7a7a"/><stop offset=".9641" stop-color="#ff8080"/><stop offset="1" stop-color="#ff8787"/></linearGradient><linearGradient id="h28" x2="0" y2="1"><stop offset="0" stop-color="#33f"/><stop offset=".1263" stop-color="#33f"/><stop offset=".129" stop-color="#4343ff"/><stop offset=".2699" stop-color="#5252ff"/><stop offset=".3684" stop-color="#7070ff"/><stop offset=".4535" stop-color="#9797ff"/><stop offset=".5279" stop-color="#d2d2ff"/><stop offset=".5652" stop-color="#fffefe"/><stop offset=".5944" stop-color="#ffdfdf"/><stop offset=".6184" stop-color="#ffdada"/><stop offset=".6795" stop-color="#ffecec"/><stop offset=".7487" stop-color="#ffe7e7"/><stop offset=".7859" stop-color="#ffd1d1"/><stop offset=".8497" stop-color="#ff9393"/><stop offset=".9003" stop-color="#ff8181"/><stop offset=".9747" stop-color="#ff7d7d"/><stop offset="1" stop-color="#ff8080"/></linearGradient><linearGradient id="h29" x2="0" y2="1"><stop offset="0" stop-color="#33f"/><stop offset=".1263" stop-color="#33f"/><stop offset=".129" stop-color="#4343ff"/><stop offset=".2726" stop-color="#5353ff"/><stop offset=".3551" stop-color="#6d6dff"/><stop offset=".4508" stop-color="#9c9cff"/><stop offset=".5226" stop-color="#d6d6ff"/><stop offset=".5572" stop-color="#fffefe"/><stop offset=".5864" stop-color="#ffe2e2"/><stop offset=".613" stop-color="#ffdede"/><stop offset=".6769" stop-color="#ffeded"/><stop offset=".746" stop-color="#ffe6e6"/><stop offset=".7859" stop-color="#ffcece"/><stop offset=".8471" stop-color="#ff9292"/><stop offset=".8923" stop-color="#ff8080"/><stop offset=".9641" stop-color="#ff8080"/><stop offset="1" stop-color="#ff8686"/></linearGradient><linearGradient id="h210" x2="0" y2="1"><stop offset="0" stop-color="#33f"/><stop offset=".1263" stop-color="#33f"/><stop offset=".129" stop-color="#4343ff"/><stop offset=".2699" stop-color="#5252ff"/><stop offset=".3418" stop-color="#6a6aff"/><stop offset=".4561" stop-color="#a9a9ff"/><stop offset=".5173" stop-color="#dadaff"/><stop offset=".5492" stop-color="#fffefe"/><stop offset=".5785" stop-color="#ffe6e6"/><stop offset=".6104" stop-color="#ffe4e4"/><stop offset=".6795" stop-color="#fee"/><stop offset=".7407" stop-color="#ffe5e5"/><stop offset=".7806" stop-color="#ffcaca"/><stop offset=".8418" stop-color="#ff9090"/><stop offset=".8816" stop-color="#ff8282"/><stop offset=".9668" stop-color="#f88"/><stop offset="1" stop-color="#ff8f8f"/></linearGradient><linearGradient id="h211" x2="0" y2="1"><stop offset="0" stop-color="#33f"/><stop offset=".1263" stop-color="#33f"/><stop offset=".129" stop-color="#4343ff"/><stop offset=".2566" stop-color="#5151ff"/><stop offset=".3205" stop-color="#6767ff"/><stop offset=".504" stop-color="#e1e1ff"/><stop offset=".5412" stop-color="#fff"/><stop offset=".5864" stop-color="#fff6f6"/><stop offset=".7221" stop-color="#ffeded"/><stop offset=".762" stop-color="#ffdada"/><stop offset=".8391" stop-color="#f99"/><stop offset=".887" stop-color="#ff8b8b"/><stop offset="1" stop-color="#ff8e8e"/></linearGradient><linearGradient id="h212" x2="0" y2="1"><stop offset="0" stop-color="#33f"/><stop offset=".1263" stop-color="#33f"/><stop offset=".129" stop-color="#4343ff"/><stop offset=".254" stop-color="#5151ff"/><stop offset=".3152" stop-color="#6767ff"/><stop offset=".4269" stop-color="#b7b7ff"/><stop offset=".5332" stop-color="#f7f7ff"/><stop offset=".6051" stop-color="#fffdfd"/><stop offset=".738" stop-color="#ffebeb"/><stop offset=".7806" stop-color="#ffd0d0"/><stop offset=".8471" stop-color="#ff9d9d"/><stop offset=".9029" stop-color="#ff8b8b"/><stop offset="1" stop-color="#ff8787"/></linearGradient><linearGradient id="h213" x2="0" y2="1"><stop offset="0" stop-color="#33f"/><stop offset=".1263" stop-color="#33f"/><stop offset=".129" stop-color="#4343ff"/><stop offset=".238" stop-color="#4f4fff"/><stop offset=".2992" stop-color="#6a6aff"/><stop offset=".4003" stop-color="#bbf"/><stop offset=".4747" stop-color="#dcdcff"/><stop offset=".5279" stop-color="#e2e2ff"/><stop offset=".5705" stop-color="#e9e9ff"/><stop offset=".6316" stop-color="#fff"/><stop offset=".7513" stop-color="#ffe5e5"/><stop offset=".8019" stop-color="#ffc1c1"/><stop offset=".8657" stop-color="#ff9090"/><stop offset=".9242" stop-color="#ff7b7b"/><stop offset=".988" stop-color="#ff7b7b"/><stop offset="1" stop-color="#ff7d7d"/></linearGradient><linearGradient id="h214" x2="0" y2="1"><stop offset="0" stop-color="#33f"/><stop offset=".1263" stop-color="#33f"/><stop offset=".129" stop-color="#44f"/><stop offset=".2194" stop-color="#5151ff"/><stop offset=".2753" stop-color="#6f6fff"/><stop offset=".3604" stop-color="#aaf"/><stop offset=".4402" stop-color="#c9c9ff"/><stop offset=".5519" stop-color="#e1e1ff"/><stop offset=".6263" stop-color="#fefeff"/><stop offset=".6795" stop-color="#ffecec"/><stop offset=".7593" stop-color="#ffc3c3"/><stop offset=".8311" stop-color="#ff8686"/><stop offset=".8763" stop-color="#ff7979"/><stop offset="1" stop-color="#ff8484"/></linearGradient><linearGradient id="h215" x2="0" y2="1"><stop offset="0" stop-color="#33f"/><stop offset=".1263" stop-color="#33f"/><stop offset=".129" stop-color="#4848ff"/><stop offset=".2354" stop-color="#6262ff"/><stop offset=".3045" stop-color="#8f8fff"/><stop offset=".3816" stop-color="#bcbcff"/><stop offset=".4588" stop-color="#d1d1ff"/><stop offset=".5545" stop-color="#efefff"/><stop offset=".6263" stop-color="#fffefe"/><stop offset=".6689" stop-color="#ffeaea"/><stop offset=".7806" stop-color="#ff9797"/><stop offset=".8231" stop-color="#ff8080"/><stop offset=".9455" stop-color="#ff7676"/><stop offset="1" stop-color="#ff6f6f"/></linearGradient><linearGradient id="h216" x2="0" y2="1"><stop offset="0" stop-color="#33f"/><stop offset=".1263" stop-color="#33f"/><stop offset=".129" stop-color="#5353ff"/><stop offset=".2673" stop-color="#8b8bff"/><stop offset=".3577" stop-color="#b9b9ff"/><stop offset=".496" stop-color="#e2e2ff"/><stop offset=".5465" stop-color="#fff"/><stop offset=".637" stop-color="#fff9f9"/><stop offset=".738" stop-color="#ffbebe"/><stop offset=".8338" stop-color="#ff8686"/><stop offset=".9295" stop-color="#ff6767"/><stop offset=".996" stop-color="#ff6b6b"/><stop offset="1" stop-color="#ff6c6c"/></linearGradient><linearGradient id="h217" x2="0" y2="1"><stop offset="0" stop-color="#33f"/><stop offset=".1263" stop-color="#33f"/><stop offset=".129" stop-color="#5959ff"/><stop offset=".1822" stop-color="#7676ff"/><stop offset=".3976" stop-color="#c6c6ff"/><stop offset=".5066" stop-color="#e8e8ff"/><stop offset=".5625" stop-color="#fbfbff"/><stop offset=".6157" stop-color="#fffdfd"/><stop offset=".6715" stop-color="#ffe9e9"/><stop offset=".7859" stop-color="#ffa7a7"/><stop offset=".8816" stop-color="#ff6767"/><stop offset=".9215" stop-color="#ff6262"/><stop offset="1" stop-color="#ff7474"/></linearGradient><linearGradient id="h218" x2="0" y2="1"><stop offset="0" stop-color="#33f"/><stop offset=".1263" stop-color="#33f"/><stop offset=".129" stop-color="#5959ff"/><stop offset=".1822" stop-color="#7676ff"/><stop offset=".4481" stop-color="#d7d7ff"/><stop offset=".5864" stop-color="#fbfbff"/><stop offset=".6051" stop-color="#fffdfd"/><stop offset=".6795" stop-color="#ffe7e7"/><stop offset=".7699" stop-color="#ffb5b5"/><stop offset=".8737" stop-color="#ff6464"/><stop offset=".9082" stop-color="#ff5e5e"/><stop offset="1" stop-color="#ff7575"/></linearGradient><linearGradient id="h219" x2="0" y2="1"><stop offset="0" stop-color="#33f"/><stop offset=".1263" stop-color="#33f"/><stop offset=".129" stop-color="#5757ff"/><stop offset=".1902" stop-color="#7272ff"/><stop offset=".4162" stop-color="#d0d0ff"/><stop offset=".5678" stop-color="#fffefe"/><stop offset=".637" stop-color="#fff4f4"/><stop offset=".6902" stop-color="#ffe7e7"/><stop offset=".7593" stop-color="#ffbfbf"/><stop offset=".8657" stop-color="#ff6565"/><stop offset=".9003" stop-color="#ff5b5b"/><stop offset="1" stop-color="#ff7474"/></linearGradient><linearGradient id="h220" x2="0" y2="1"><stop offset="0" stop-color="#33f"/><stop offset=".1263" stop-color="#33f"/><stop offset=".129" stop-color="#4c4cff"/><stop offset=".238" stop-color="#7171ff"/><stop offset=".3896" stop-color="#babaff"/><stop offset=".4402" stop-color="#d5d5ff"/><stop offset=".5146" stop-color="#ededff"/><stop offset=".5598" stop-color="#fffefe"/><stop offset=".6184" stop-color="#ffefef"/><stop offset=".6902" stop-color="#fff5f5"/><stop offset=".7301" stop-color="#ffe4e4"/><stop offset=".7886" stop-color="#ffa7a7"/><stop offset=".8524" stop-color="#ff6a6a"/><stop offset=".8896" stop-color="#ff5858"/><stop offset=".9402" stop-color="#ff6060"/><stop offset="1" stop-color="#ff7070"/></linearGradient><linearGradient id="h221" x2="0" y2="1"><stop offset="0" stop-color="#33f"/><stop offset=".1263" stop-color="#33f"/><stop offset=".129" stop-color="#4646ff"/><stop offset=".2221" stop-color="#6363ff"/><stop offset=".3231" stop-color="#8e8eff"/><stop offset=".4535" stop-color="#b8b8ff"/><stop offset=".5253" stop-color="#f0f0ff"/><stop offset=".5678" stop-color="#fffdfd"/><stop offset=".621" stop-color="#ffdcdc"/><stop offset=".6503" stop-color="#ffe1e1"/><stop offset=".7035" stop-color="#fffafa"/><stop offset=".7301" stop-color="#fff3f3"/><stop offset=".754" stop-color="#ffd7d7"/><stop offset=".7992" stop-color="#ff9494"/><stop offset=".8391" stop-color="#ff7474"/><stop offset=".8923" stop-color="#ff5f5f"/><stop offset="1" stop-color="#ff6e6e"/></linearGradient><linearGradient id="h222" x2="0" y2="1"><stop offset="0" stop-color="#33f"/><stop offset=".1263" stop-color="#33f"/><stop offset=".129" stop-color="#4545ff"/><stop offset=".2141" stop-color="#6363ff"/><stop offset=".3125" stop-color="#8c8cff"/><stop offset=".4402" stop-color="#afafff"/><stop offset=".4774" stop-color="#cdcdff"/><stop offset=".512" stop-color="#ececff"/><stop offset=".5705" stop-color="#fbfbff"/><stop offset=".5811" stop-color="#fffdfd"/><stop offset=".6237" stop-color="#ffe4e4"/><stop offset=".6715" stop-color="#ffe8e8"/><stop offset=".7088" stop-color="#ffe8e8"/><stop offset=".7354" stop-color="#ffd3d3"/><stop offset=".7859" stop-color="#ff8f8f"/><stop offset=".8152" stop-color="#ff7e7e"/><stop offset=".879" stop-color="#ff6e6e"/><stop offset=".9215" stop-color="#ff6363"/><stop offset="1" stop-color="#ff6e6e"/></linearGradient><linearGradient id="h223" x2="0" y2="1"><stop offset="0" stop-color="#33f"/><stop offset=".1263" stop-color="#33f"/><stop offset=".129" stop-color="#4646ff"/><stop offset=".2114" stop-color="#6464ff"/><stop offset=".3125" stop-color="#8f8fff"/><stop offset=".4322" stop-color="#b0b0ff"/><stop offset=".4694" stop-color="#cfcfff"/><stop offset=".504" stop-color="#ededff"/><stop offset=".5678" stop-color="#f5f5ff"/><stop offset=".5838" stop-color="#fff"/><stop offset=".6423" stop-color="#ffd4d4"/><stop offset=".7114" stop-color="#ffafaf"/><stop offset=".7726" stop-color="#ff8080"/><stop offset=".8072" stop-color="#ff7d7d"/><stop offset=".8577" stop-color="#ff8282"/><stop offset=".9348" stop-color="#ff6767"/><stop offset="1" stop-color="#ff6d6d"/></linearGradient><linearGradient id="h224" x2="0" y2="1"><stop offset="0" stop-color="#33f"/><stop offset=".1263" stop-color="#33f"/><stop offset=".129" stop-color="#4848ff"/><stop offset=".2168" stop-color="#6969ff"/><stop offset=".3152" stop-color="#9191ff"/><stop offset=".4215" stop-color="#b0b0ff"/><stop offset=".4614" stop-color="#d2d2ff"/><stop offset=".4934" stop-color="#ededff"/><stop offset=".5253" stop-color="#eef"/><stop offset=".5598" stop-color="#eef"/><stop offset=".5838" stop-color="#fff"/><stop offset=".6848" stop-color="#ff9595"/><stop offset=".7274" stop-color="#ff7878"/><stop offset=".7726" stop-color="#ff7171"/><stop offset=".8684" stop-color="#ff8b8b"/><stop offset=".9375" stop-color="#ff7d7d"/><stop offset="1" stop-color="#ff7575"/></linearGradient><linearGradient id="h225" x2="0" y2="1"><stop offset="0" stop-color="#33f"/><stop offset=".1263" stop-color="#33f"/><stop offset=".129" stop-color="#4b4bff"/><stop offset=".3258" stop-color="#9191ff"/><stop offset=".4029" stop-color="#afafff"/><stop offset=".4747" stop-color="#ebebff"/><stop offset=".5066" stop-color="#ededff"/><stop offset=".5492" stop-color="#e7e7ff"/><stop offset=".5785" stop-color="#f8f8ff"/><stop offset=".5864" stop-color="#fffdfd"/><stop offset=".6795" stop-color="#ff8686"/><stop offset=".7114" stop-color="#ff7171"/><stop offset=".7487" stop-color="#ff7272"/><stop offset=".8684" stop-color="#ff8a8a"/><stop offset=".9375" stop-color="#ff9c9c"/><stop offset="1" stop-color="#ff9b9b"/></linearGradient><linearGradient id="h226" x2="0" y2="1"><stop offset="0" stop-color="#33f"/><stop offset=".1263" stop-color="#33f"/><stop offset=".129" stop-color="#4848ff"/><stop offset=".3444" stop-color="#9393ff"/><stop offset=".3949" stop-color="#b7b7ff"/><stop offset=".4455" stop-color="#e7e7ff"/><stop offset=".4747" stop-color="#eef"/><stop offset=".5386" stop-color="#e3e3ff"/><stop offset=".5705" stop-color="#f2f2ff"/><stop offset=".5838" stop-color="#fff"/><stop offset=".6263" stop-color="#ffc4c4"/><stop offset=".6715" stop-color="#ff8383"/><stop offset=".6981" stop-color="#ff7070"/><stop offset=".7274" stop-color="#ff7272"/><stop offset=".7965" stop-color="#ff8f8f"/><stop offset=".8471" stop-color="#ff8b8b"/><stop offset=".8976" stop-color="#ff8787"/><stop offset="1" stop-color="#ffa6a6"/></linearGradient><linearGradient id="h227" x2="0" y2="1"><stop offset="0" stop-color="#33f"/><stop offset=".1263" stop-color="#33f"/><stop offset=".129" stop-color="#4646ff"/><stop offset=".3098" stop-color="#8383ff"/><stop offset=".3524" stop-color="#9c9cff"/><stop offset=".4215" stop-color="#e7e7ff"/><stop offset=".4481" stop-color="#f0f0ff"/><stop offset=".5253" stop-color="#e1e1ff"/><stop offset=".5598" stop-color="#ededff"/><stop offset=".5811" stop-color="#fffdfd"/><stop offset=".6237" stop-color="#ffc2c2"/><stop offset=".6662" stop-color="#ff8383"/><stop offset=".6928" stop-color="#ff7171"/><stop offset=".7221" stop-color="#ff7676"/><stop offset=".7886" stop-color="#ff9a9a"/><stop offset=".8444" stop-color="#ff9f9f"/><stop offset=".9428" stop-color="#ff8787"/><stop offset="1" stop-color="#ff9393"/></linearGradient><linearGradient id="h228" x2="0" y2="1"><stop offset="0" stop-color="#33f"/><stop offset=".1263" stop-color="#33f"/><stop offset=".129" stop-color="#4545ff"/><stop offset=".3125" stop-color="#8585ff"/><stop offset=".3524" stop-color="#a1a1ff"/><stop offset=".4136" stop-color="#e9e9ff"/><stop offset=".4402" stop-color="#f1f1ff"/><stop offset=".5173" stop-color="#e1e1ff"/><stop offset=".5545" stop-color="#ececff"/><stop offset=".5758" stop-color="#fff"/><stop offset=".6157" stop-color="#ffc9c9"/><stop offset=".6636" stop-color="#ff8484"/><stop offset=".6902" stop-color="#ff7272"/><stop offset=".7168" stop-color="#ff7878"/><stop offset=".7806" stop-color="#ffa9a9"/><stop offset=".8205" stop-color="#ffb0b0"/><stop offset=".9375" stop-color="#ff9898"/><stop offset="1" stop-color="#f88"/></linearGradient><linearGradient id="h229" x2="0" y2="1"><stop offset="0" stop-color="#33f"/><stop offset=".1263" stop-color="#33f"/><stop offset=".129" stop-color="#4545ff"/><stop offset=".3205" stop-color="#8a8aff"/><stop offset=".363" stop-color="#a8a8ff"/><stop offset=".4215" stop-color="#e8e8ff"/><stop offset=".4481" stop-color="#f0f0ff"/><stop offset=".5199" stop-color="#e1e1ff"/><stop offset=".5545" stop-color="#ededff"/><stop offset=".5731" stop-color="#fff"/><stop offset=".6104" stop-color="#ffcece"/><stop offset=".6609" stop-color="#ff8585"/><stop offset=".6875" stop-color="#ff7171"/><stop offset=".7141" stop-color="#ff7272"/><stop offset=".8098" stop-color="#ffb1b1"/><stop offset=".8577" stop-color="#ffbaba"/><stop offset=".9987" stop-color="#ffa5a5"/><stop offset="1" stop-color="#ffa5a5"/></linearGradient><linearGradient id="h230" x2="0" y2="1"><stop offset="0" stop-color="#33f"/><stop offset=".1263" stop-color="#33f"/><stop offset=".129" stop-color="#4545ff"/><stop offset=".3338" stop-color="#8e8eff"/><stop offset=".3896" stop-color="#afafff"/><stop offset=".4508" stop-color="#ebebff"/><stop offset=".4801" stop-color="#efefff"/><stop offset=".5306" stop-color="#e4e4ff"/><stop offset=".5598" stop-color="#f2f2ff"/><stop offset=".5731" stop-color="#fffefe"/><stop offset=".621" stop-color="#ffbcbc"/><stop offset=".6636" stop-color="#ff8181"/><stop offset=".6902" stop-color="#ff6f6f"/><stop offset=".7194" stop-color="#ff7272"/><stop offset=".8152" stop-color="#ffa0a0"/><stop offset=".9056" stop-color="#ffbcbc"/><stop offset=".9801" stop-color="#ffbaba"/><stop offset="1" stop-color="#ffb8b8"/></linearGradient><linearGradient id="h231" x2="0" y2="1"><stop offset="0" stop-color="#33f"/><stop offset=".1263" stop-color="#33f"/><stop offset=".129" stop-color="#4545ff"/><stop offset=".3364" stop-color="#8e8eff"/><stop offset=".4082" stop-color="#b0b0ff"/><stop offset=".4721" stop-color="#ececff"/><stop offset=".5013" stop-color="#eef"/><stop offset=".5386" stop-color="#e8e8ff"/><stop offset=".5652" stop-color="#f8f8ff"/><stop offset=".5731" stop-color="#fffdfd"/><stop offset=".621" stop-color="#ffbaba"/><stop offset=".6636" stop-color="#ff7f7f"/><stop offset=".6902" stop-color="#ff6e6e"/><stop offset=".7194" stop-color="#ff7272"/><stop offset=".8072" stop-color="#ff9e9e"/><stop offset="1" stop-color="#ffc2c2"/></linearGradient><linearGradient id="h232" x2="0" y2="1"><stop offset="0" stop-color="#33f"/><stop offset=".1263" stop-color="#33f"/><stop offset=".129" stop-color="#4545ff"/><stop offset=".3205" stop-color="#8787ff"/><stop offset=".4136" stop-color="#aeaeff"/><stop offset=".4588" stop-color="#dadaff"/><stop offset=".4854" stop-color="#eef"/><stop offset=".5199" stop-color="#ececff"/><stop offset=".5492" stop-color="#ededff"/><stop offset=".5705" stop-color="#fff"/><stop offset=".6104" stop-color="#ffc9c9"/><stop offset=".6582" stop-color="#ff8484"/><stop offset=".6848" stop-color="#ff7070"/><stop offset=".7141" stop-color="#ff7171"/><stop offset=".8391" stop-color="#ffaeae"/><stop offset=".8896" stop-color="#ffb5b5"/><stop offset=".9641" stop-color="#ffb3b3"/><stop offset="1" stop-color="#fbb"/></linearGradient></defs><g clip-path="url(#h2c)"><g shape-rendering="crispEdges"><rect x="90" y="998.5" width="61" height="375.9" fill="url(#h20)"/><rect x="90" y="998.5" width="61" height="375.9" fill="url(#h21)" mask="url(#rmp)"/><rect x="151" y="998.5" width="55" height="375.9" fill="url(#h21)"/><rect x="151" y="998.5" width="55" height="375.9" fill="url(#h22)" mask="url(#rmp)"/><rect x="206" y="998.5" width="85" height="375.9" fill="url(#h22)"/><rect x="206" y="998.5" width="85" height="375.9" fill="url(#h23)" mask="url(#rmp)"/><rect x="291" y="998.5" width="33" height="375.9" fill="url(#h23)"/><rect x="291" y="998.5" width="33" height="375.9" fill="url(#h24)" mask="url(#rmp)"/><rect x="324" y="998.5" width="53" height="375.9" fill="url(#h24)"/><rect x="324" y="998.5" width="53" height="375.9" fill="url(#h25)" mask="url(#rmp)"/><rect x="377" y="998.5" width="68" height="375.9" fill="url(#h25)"/><rect x="377" y="998.5" width="68" height="375.9" fill="url(#h26)" mask="url(#rmp)"/><rect x="445" y="998.5" width="54" height="375.9" fill="url(#h26)"/><rect x="445" y="998.5" width="54" height="375.9" fill="url(#h27)" mask="url(#rmp)"/><rect x="499" y="998.5" width="37" height="375.9" fill="url(#h27)"/><rect x="499" y="998.5" width="37" height="375.9" fill="url(#h28)" mask="url(#rmp)"/><rect x="536" y="998.5" width="21" height="375.9" fill="url(#h28)"/><rect x="536" y="998.5" width="21" height="375.9" fill="url(#h29)" mask="url(#rmp)"/><rect x="557" y="998.5" width="17" height="375.9" fill="url(#h29)"/><rect x="557" y="998.5" width="17" height="375.9" fill="url(#h210)" mask="url(#rmp)"/><rect x="574" y="998.5" width="32" height="375.9" fill="url(#h210)"/><rect x="574" y="998.5" width="32" height="375.9" fill="url(#h211)" mask="url(#rmp)"/><rect x="606" y="998.5" width="13" height="375.9" fill="url(#h211)"/><rect x="606" y="998.5" width="13" height="375.9" fill="url(#h212)" mask="url(#rmp)"/><rect x="619" y="998.5" width="30" height="375.9" fill="url(#h212)"/><rect x="619" y="998.5" width="30" height="375.9" fill="url(#h213)" mask="url(#rmp)"/><rect x="649" y="998.5" width="42" height="375.9" fill="url(#h213)"/><rect x="649" y="998.5" width="42" height="375.9" fill="url(#h214)" mask="url(#rmp)"/><rect x="691" y="998.5" width="37" height="375.9" fill="url(#h214)"/><rect x="691" y="998.5" width="37" height="375.9" fill="url(#h215)" mask="url(#rmp)"/><rect x="728" y="998.5" width="34" height="375.9" fill="url(#h215)"/><rect x="728" y="998.5" width="34" height="375.9" fill="url(#h216)" mask="url(#rmp)"/><rect x="762" y="998.5" width="23" height="375.9" fill="url(#h216)"/><rect x="762" y="998.5" width="23" height="375.9" fill="url(#h217)" mask="url(#rmp)"/><rect x="785" y="998.5" width="16" height="375.9" fill="url(#h217)"/><rect x="785" y="998.5" width="16" height="375.9" fill="url(#h218)" mask="url(#rmp)"/><rect x="801" y="998.5" width="14" height="375.9" fill="url(#h218)"/><rect x="801" y="998.5" width="14" height="375.9" fill="url(#h219)" mask="url(#rmp)"/><rect x="815" y="998.5" width="31" height="375.9" fill="url(#h219)"/><rect x="815" y="998.5" width="31" height="375.9" fill="url(#h220)" mask="url(#rmp)"/><rect x="846" y="998.5" width="40" height="375.9" fill="url(#h220)"/><rect x="846" y="998.5" width="40" height="375.9" fill="url(#h221)" mask="url(#rmp)"/><rect x="886" y="998.5" width="33" height="375.9" fill="url(#h221)"/><rect x="886" y="998.5" width="33" height="375.9" fill="url(#h222)" mask="url(#rmp)"/><rect x="919" y="998.5" width="32" height="375.9" fill="url(#h222)"/><rect x="919" y="998.5" width="32" height="375.9" fill="url(#h223)" mask="url(#rmp)"/><rect x="951" y="998.5" width="29" height="375.9" fill="url(#h223)"/><rect x="951" y="998.5" width="29" height="375.9" fill="url(#h224)" mask="url(#rmp)"/><rect x="980" y="998.5" width="34" height="375.9" fill="url(#h224)"/><rect x="980" y="998.5" width="34" height="375.9" fill="url(#h225)" mask="url(#rmp)"/><rect x="1014" y="998.5" width="32" height="375.9" fill="url(#h225)"/><rect x="1014" y="998.5" width="32" height="375.9" fill="url(#h226)" mask="url(#rmp)"/><rect x="1046" y="998.5" width="34" height="375.9" fill="url(#h226)"/><rect x="1046" y="998.5" width="34" height="375.9" fill="url(#h227)" mask="url(#rmp)"/><rect x="1080" y="998.5" width="31" height="375.9" fill="url(#h227)"/><rect x="1080" y="998.5" width="31" height="375.9" fill="url(#h228)" mask="url(#rmp)"/><rect x="1111" y="998.5" width="39" height="375.9" fill="url(#h228)"/><rect x="1111" y="998.5" width="39" height="375.9" fill="url(#h229)" mask="url(#rmp)"/><rect x="1150" y="998.5" width="49" height="375.9" fill="url(#h229)"/><rect x="1150" y="998.5" width="49" height="375.9" fill="url(#h230)" mask="url(#rmp)"/><rect x="1199" y="998.5" width="55" height="375.9" fill="url(#h230)"/><rect x="1199" y="998.5" width="55" height="375.9" fill="url(#h231)" mask="url(#rmp)"/><rect x="1254" y="998.5" width="49" height="375.9" fill="url(#h231)"/><rect x="1254" y="998.5" width="46" height="375.9" fill="url(#h232)" mask="url(#rmp)"/></g><rect x="90.2" y="998.5" width="1210.40" height="48.33" fill="#33f"/></g>
<rect x="90.2" y="998.5" width="1210.40" height="375.90" fill="none" stroke="#000" stroke-width="1.4"/>
<line x1="90.20" y1="998.5" x2="90.20" y2="993.74" stroke="#000" stroke-width="1.4"/>
<text x="90.20" y="981.60" class="t" text-anchor="middle">0</text>
<line x1="232.60" y1="998.5" x2="232.60" y2="993.74" stroke="#000" stroke-width="1.4"/>
<text x="232.60" y="981.60" class="t" text-anchor="middle">2</text>
<line x1="375.00" y1="998.5" x2="375.00" y2="993.74" stroke="#000" stroke-width="1.4"/>
<text x="375.00" y="981.60" class="t" text-anchor="middle">4</text>
<line x1="517.40" y1="998.5" x2="517.40" y2="993.74" stroke="#000" stroke-width="1.4"/>
<text x="517.40" y="981.60" class="t" text-anchor="middle">6</text>
<line x1="659.80" y1="998.5" x2="659.80" y2="993.74" stroke="#000" stroke-width="1.4"/>
<text x="659.80" y="981.60" class="t" text-anchor="middle">8</text>
<line x1="802.20" y1="998.5" x2="802.20" y2="993.74" stroke="#000" stroke-width="1.4"/>
<text x="802.20" y="981.60" class="t" text-anchor="middle">10</text>
<line x1="944.60" y1="998.5" x2="944.60" y2="993.74" stroke="#000" stroke-width="1.4"/>
<text x="944.60" y="981.60" class="t" text-anchor="middle">12</text>
<line x1="1087.00" y1="998.5" x2="1087.00" y2="993.74" stroke="#000" stroke-width="1.4"/>
<text x="1087.00" y="981.60" class="t" text-anchor="middle">14</text>
<line x1="1229.40" y1="998.5" x2="1229.40" y2="993.74" stroke="#000" stroke-width="1.4"/>
<text x="1229.40" y="981.60" class="t" text-anchor="middle">16</text>
<line x1="90.2" y1="998.50" x2="85.44" y2="998.50" stroke="#000" stroke-width="1.4"/>
<text x="78.60" y="1008.40" class="t" text-anchor="end">0.0</text>
<line x1="90.2" y1="1052.20" x2="85.44" y2="1052.20" stroke="#000" stroke-width="1.4"/>
<text x="78.60" y="1062.10" class="t" text-anchor="end">0.5</text>
<line x1="90.2" y1="1105.90" x2="85.44" y2="1105.90" stroke="#000" stroke-width="1.4"/>
<text x="78.60" y="1115.80" class="t" text-anchor="end">1.0</text>
<line x1="90.2" y1="1159.60" x2="85.44" y2="1159.60" stroke="#000" stroke-width="1.4"/>
<text x="78.60" y="1169.50" class="t" text-anchor="end">1.5</text>
<line x1="90.2" y1="1213.30" x2="85.44" y2="1213.30" stroke="#000" stroke-width="1.4"/>
<text x="78.60" y="1223.20" class="t" text-anchor="end">2.0</text>
<line x1="90.2" y1="1267.00" x2="85.44" y2="1267.00" stroke="#000" stroke-width="1.4"/>
<text x="78.60" y="1276.90" class="t" text-anchor="end">2.5</text>
<line x1="90.2" y1="1320.70" x2="85.44" y2="1320.70" stroke="#000" stroke-width="1.4"/>
<text x="78.60" y="1330.60" class="t" text-anchor="end">3.0</text>
<line x1="90.2" y1="1374.40" x2="85.44" y2="1374.40" stroke="#000" stroke-width="1.4"/>
<text x="78.60" y="1384.30" class="t" text-anchor="end">3.5</text>
<text x="695.40" y="956.80" class="l" text-anchor="middle">Distance (km)</text>
<text transform="translate(25.90,1186.45) rotate(-90)" class="l" text-anchor="middle">Depth (km)</text>
<text x="1.00" y="1000.00" class="l">(c)</text>
<linearGradient id="cbg2" x1="0" y1="1" x2="0" y2="0"><stop offset="0" stop-color="#00f"/><stop offset="0.5" stop-color="#fff"/><stop offset="1" stop-color="#f00"/></linearGradient>
<rect x="1316.4" y="998.5" width="15.70" height="375.90" fill="url(#cbg2)" stroke="#000" stroke-width="1.4"/>
<line x1="1332.1" y1="1285.41" x2="1336.86" y2="1285.41" stroke="#000" stroke-width="1.4"/>
<text x="1342.10" y="1295.31" class="c">2000</text>
<line x1="1332.1" y1="1178.71" x2="1336.86" y2="1178.71" stroke="#000" stroke-width="1.4"/>
<text x="1342.10" y="1188.61" class="c">3000</text>
<line x1="1332.1" y1="1072.02" x2="1336.86" y2="1072.02" stroke="#000" stroke-width="1.4"/>
<text x="1342.10" y="1081.92" class="c">4000</text>
<text transform="translate(1439.60,1186.45) rotate(-90)" class="c" text-anchor="middle">Velocity (m.s<tspan dy="-9.5" font-size="19">−1</tspan><tspan dy="9.5">)</tspan></text>
<defs><clipPath id="h3c"><rect x="91.45" y="1464.4" width="1210.85" height="376.00"/></clipPath><linearGradient id="h30" x2="0" y2="1"><stop offset="0" stop-color="#00f"/><stop offset=".1263" stop-color="#00f"/><stop offset=".129" stop-color="#ffcfcf"/><stop offset=".3391" stop-color="#ffc0c0"/><stop offset=".4801" stop-color="#ffa8a8"/><stop offset=".5811" stop-color="#ff7b7b"/><stop offset=".6529" stop-color="#ff5b5b"/><stop offset=".7407" stop-color="#ff5b5b"/><stop offset=".8072" stop-color="#ff3f3f"/><stop offset=".8657" stop-color="#ff2b2b"/><stop offset=".9189" stop-color="#ff2d2d"/><stop offset=".996" stop-color="#f44"/><stop offset="1" stop-color="#f44"/></linearGradient><linearGradient id="h31" x2="0" y2="1"><stop offset="0" stop-color="#00f"/><stop offset=".1263" stop-color="#00f"/><stop offset=".129" stop-color="#ffcfcf"/><stop offset=".3391" stop-color="#ffc0c0"/><stop offset=".4801" stop-color="#ffa7a7"/><stop offset=".5971" stop-color="#ff7171"/><stop offset=".6529" stop-color="#ff5a5a"/><stop offset=".738" stop-color="#ff5c5c"/><stop offset=".7992" stop-color="#ff4343"/><stop offset=".8577" stop-color="#ff2d2d"/><stop offset=".9215" stop-color="#ff2d2d"/><stop offset="1" stop-color="#ff3b3b"/></linearGradient><linearGradient id="h32" x2="0" y2="1"><stop offset="0" stop-color="#00f"/><stop offset=".1263" stop-color="#00f"/><stop offset=".129" stop-color="#ffcfcf"/><stop offset=".3338" stop-color="#ffc1c1"/><stop offset=".4774" stop-color="#ffa7a7"/><stop offset=".6051" stop-color="#ff6a6a"/><stop offset=".6529" stop-color="#ff5a5a"/><stop offset=".7354" stop-color="#ff5c5c"/><stop offset=".7939" stop-color="#ff4646"/><stop offset=".8551" stop-color="#ff2d2d"/><stop offset=".9136" stop-color="#ff2c2c"/><stop offset="1" stop-color="#ff4141"/></linearGradient><linearGradient id="h33" x2="0" y2="1"><stop offset="0" stop-color="#00f"/><stop offset=".1263" stop-color="#00f"/><stop offset=".129" stop-color="#ffcfcf"/><stop offset=".3231" stop-color="#ffc4c4"/><stop offset=".4774" stop-color="#ffa4a4"/><stop offset=".6343" stop-color="#ff5b5b"/><stop offset=".7407" stop-color="#ff5c5c"/><stop offset=".8019" stop-color="#f44"/><stop offset=".8604" stop-color="#ff2e2e"/><stop offset=".9348" stop-color="#ff2f2f"/><stop offset="1" stop-color="#ff3b3b"/></linearGradient><linearGradient id="h34" x2="0" y2="1"><stop offset="0" stop-color="#00f"/><stop offset=".1263" stop-color="#00f"/><stop offset=".129" stop-color="#ffcfcf"/><stop offset=".3285" stop-color="#ffc0c0"/><stop offset=".4694" stop-color="#ffa3a3"/><stop offset=".6237" stop-color="#ff5c5c"/><stop offset=".7407" stop-color="#ff5f5f"/><stop offset=".7965" stop-color="#ff4e4e"/><stop offset=".8577" stop-color="#f33"/><stop offset=".9269" stop-color="#ff3232"/><stop offset="1" stop-color="#ff3f3f"/></linearGradient><linearGradient id="h35" x2="0" y2="1"><stop offset="0" stop-color="#00f"/><stop offset=".1263" stop-color="#00f"/><stop offset=".129" stop-color="#ffcfcf"/><stop offset=".2912" stop-color="#ffc1c1"/><stop offset=".4668" stop-color="#ff9f9f"/><stop offset=".5652" stop-color="#ff7373"/><stop offset=".613" stop-color="#ff5d5d"/><stop offset=".7221" stop-color="#ff6464"/><stop offset=".7832" stop-color="#ff5757"/><stop offset=".8524" stop-color="#ff3a3a"/><stop offset=".9641" stop-color="#ff3a3a"/><stop offset="1" stop-color="#ff3e3e"/></linearGradient><linearGradient id="h36" x2="0" y2="1"><stop offset="0" stop-color="#00f"/><stop offset=".1263" stop-color="#00f"/><stop offset=".129" stop-color="#ffcfcf"/><stop offset=".2992" stop-color="#ffc1c1"/><stop offset=".4721" stop-color="#ff9191"/><stop offset=".5864" stop-color="#ff6161"/><stop offset=".7354" stop-color="#ff6464"/><stop offset=".8045" stop-color="#ff5050"/><stop offset=".8684" stop-color="#ff3f3f"/><stop offset="1" stop-color="#ff4141"/></linearGradient><linearGradient id="h37" x2="0" y2="1"><stop offset="0" stop-color="#00f"/><stop offset=".1263" stop-color="#00f"/><stop offset=".129" stop-color="#ffcfcf"/><stop offset=".2753" stop-color="#ffc2c2"/><stop offset=".3471" stop-color="#ffabab"/><stop offset=".4668" stop-color="#ff8383"/><stop offset=".5465" stop-color="#ff7070"/><stop offset=".754" stop-color="#ff6262"/><stop offset=".8684" stop-color="#f44"/><stop offset="1" stop-color="#ff3f3f"/></linearGradient><linearGradient id="h38" x2="0" y2="1"><stop offset="0" stop-color="#00f"/><stop offset=".1263" stop-color="#00f"/><stop offset=".129" stop-color="#ffcfcf"/><stop offset=".2354" stop-color="#ffc4c4"/><stop offset=".3896" stop-color="#ff8c8c"/><stop offset=".5066" stop-color="#ff7f7f"/><stop offset=".5864" stop-color="#ff7474"/><stop offset=".7699" stop-color="#ff5858"/><stop offset=".863" stop-color="#ff3d3d"/><stop offset=".9747" stop-color="#ff3c3c"/><stop offset="1" stop-color="#ff3e3e"/></linearGradient><linearGradient id="h39" x2="0" y2="1"><stop offset="0" stop-color="#00f"/><stop offset=".1263" stop-color="#00f"/><stop offset=".129" stop-color="#ffc9c9"/><stop offset=".262" stop-color="#ffaeae"/><stop offset=".371" stop-color="#ff8c8c"/><stop offset=".6024" stop-color="#ff6e6e"/><stop offset=".6742" stop-color="#ff6363"/><stop offset=".8231" stop-color="#ff3e3e"/><stop offset="1" stop-color="#ff3535"/></linearGradient><linearGradient id="h310" x2="0" y2="1"><stop offset="0" stop-color="#00f"/><stop offset=".1263" stop-color="#00f"/><stop offset=".129" stop-color="#ffc0c0"/><stop offset=".2035" stop-color="#ffabab"/><stop offset=".4269" stop-color="#ff8282"/><stop offset=".613" stop-color="#ff6c6c"/><stop offset=".7673" stop-color="#ff5050"/><stop offset=".8976" stop-color="#f33"/><stop offset="1" stop-color="#ff3939"/></linearGradient><linearGradient id="h311" x2="0" y2="1"><stop offset="0" stop-color="#00f"/><stop offset=".1263" stop-color="#00f"/><stop offset=".129" stop-color="#ffcaca"/><stop offset=".2566" stop-color="#ffafaf"/><stop offset=".4588" stop-color="#ff8080"/><stop offset=".6237" stop-color="#f66"/><stop offset=".7141" stop-color="#ff6767"/><stop offset=".7965" stop-color="#ff4848"/><stop offset=".879" stop-color="#ff3030"/><stop offset="1" stop-color="#ff3737"/></linearGradient><linearGradient id="h312" x2="0" y2="1"><stop offset="0" stop-color="#00f"/><stop offset=".1263" stop-color="#00f"/><stop offset=".129" stop-color="#ffcdcd"/><stop offset=".3391" stop-color="#ffa1a1"/><stop offset=".4588" stop-color="#ff8d8d"/><stop offset=".5253" stop-color="#ff7373"/><stop offset=".5944" stop-color="#ff6767"/><stop offset=".6449" stop-color="#ff6161"/><stop offset=".7168" stop-color="#ff6767"/><stop offset=".7646" stop-color="#ff5151"/><stop offset=".8152" stop-color="#ff3d3d"/><stop offset=".9295" stop-color="#f33"/><stop offset="1" stop-color="#ff3737"/></linearGradient><linearGradient id="h313" x2="0" y2="1"><stop offset="0" stop-color="#00f"/><stop offset=".1263" stop-color="#00f"/><stop offset=".129" stop-color="#fcc"/><stop offset=".3285" stop-color="#ffa0a0"/><stop offset=".4428" stop-color="#ff8d8d"/><stop offset=".5066" stop-color="#ff7474"/><stop offset=".5758" stop-color="#ff7070"/><stop offset=".6981" stop-color="#ff4a4a"/><stop offset=".7806" stop-color="#ff3a3a"/><stop offset=".879" stop-color="#ff3d3d"/><stop offset=".9827" stop-color="#ff3636"/><stop offset="1" stop-color="#ff3636"/></linearGradient><linearGradient id="h314" x2="0" y2="1"><stop offset="0" stop-color="#00f"/><stop offset=".1263" stop-color="#00f"/><stop offset=".129" stop-color="#ffcaca"/><stop offset=".4082" stop-color="#ff8f8f"/><stop offset=".4774" stop-color="#ff7575"/><stop offset=".5598" stop-color="#ff7676"/><stop offset=".6343" stop-color="#ff5353"/><stop offset=".6981" stop-color="#ff3939"/><stop offset=".7726" stop-color="#ff3b3b"/><stop offset=".9189" stop-color="#ff4646"/><stop offset="1" stop-color="#ff4848"/></linearGradient><linearGradient id="h315" x2="0" y2="1"><stop offset="0" stop-color="#00f"/><stop offset=".1263" stop-color="#00f"/><stop offset=".129" stop-color="#ffcdcd"/><stop offset=".3418" stop-color="#ff9f9f"/><stop offset=".4269" stop-color="#ff7575"/><stop offset=".5439" stop-color="#ff7878"/><stop offset=".5997" stop-color="#ff6262"/><stop offset=".6742" stop-color="#ff3b3b"/><stop offset=".7194" stop-color="#ff3a3a"/><stop offset=".8125" stop-color="#ff4949"/><stop offset=".9854" stop-color="#ff4141"/><stop offset="1" stop-color="#ff4242"/></linearGradient><linearGradient id="h316" x2="0" y2="1"><stop offset="0" stop-color="#00f"/><stop offset=".1263" stop-color="#00f"/><stop offset=".129" stop-color="#ffcdcd"/><stop offset=".3497" stop-color="#ff9b9b"/><stop offset=".4322" stop-color="#ff7575"/><stop offset=".5412" stop-color="#ff7878"/><stop offset=".5997" stop-color="#ff6060"/><stop offset=".6715" stop-color="#ff3b3b"/><stop offset=".7194" stop-color="#ff3939"/><stop offset=".8418" stop-color="#ff5151"/><stop offset="1" stop-color="#ff4b4b"/></linearGradient><linearGradient id="h317" x2="0" y2="1"><stop offset="0" stop-color="#00f"/><stop offset=".1263" stop-color="#00f"/><stop offset=".129" stop-color="#ffcdcd"/><stop offset=".4136" stop-color="#ff8f8f"/><stop offset=".4774" stop-color="#ff7474"/><stop offset=".5519" stop-color="#ff7575"/><stop offset=".6316" stop-color="#ff4c4c"/><stop offset=".6848" stop-color="#ff3737"/><stop offset=".7487" stop-color="#ff3e3e"/><stop offset=".871" stop-color="#ff4c4c"/><stop offset="1" stop-color="#f55"/></linearGradient><linearGradient id="h318" x2="0" y2="1"><stop offset="0" stop-color="#00f"/><stop offset=".1263" stop-color="#00f"/><stop offset=".129" stop-color="#ffcdcd"/><stop offset=".4242" stop-color="#ff8e8e"/><stop offset=".488" stop-color="#ff7474"/><stop offset=".5545" stop-color="#ff7474"/><stop offset=".6715" stop-color="#ff3a3a"/><stop offset=".7221" stop-color="#ff3939"/><stop offset=".8763" stop-color="#ff5050"/><stop offset="1" stop-color="#ff5252"/></linearGradient></defs><g clip-path="url(#h3c)"><g shape-rendering="crispEdges"><rect x="91" y="1464.4" width="74" height="376.0" fill="url(#h30)"/><rect x="91" y="1464.4" width="74" height="376.0" fill="url(#h31)" mask="url(#rmp)"/><rect x="165" y="1464.4" width="80" height="376.0" fill="url(#h31)"/><rect x="165" y="1464.4" width="80" height="376.0" fill="url(#h32)" mask="url(#rmp)"/><rect x="245" y="1464.4" width="95" height="376.0" fill="url(#h32)"/><rect x="245" y="1464.4" width="95" height="376.0" fill="url(#h33)" mask="url(#rmp)"/><rect x="340" y="1464.4" width="64" height="376.0" fill="url(#h33)"/><rect x="340" y="1464.4" width="64" height="376.0" fill="url(#h34)" mask="url(#rmp)"/><rect x="404" y="1464.4" width="71" height="376.0" fill="url(#h34)"/><rect x="404" y="1464.4" width="71" height="376.0" fill="url(#h35)" mask="url(#rmp)"/><rect x="475" y="1464.4" width="92" height="376.0" fill="url(#h35)"/><rect x="475" y="1464.4" width="92" height="376.0" fill="url(#h36)" mask="url(#rmp)"/><rect x="567" y="1464.4" width="53" height="376.0" fill="url(#h36)"/><rect x="567" y="1464.4" width="53" height="376.0" fill="url(#h37)" mask="url(#rmp)"/><rect x="620" y="1464.4" width="56" height="376.0" fill="url(#h37)"/><rect x="620" y="1464.4" width="56" height="376.0" fill="url(#h38)" mask="url(#rmp)"/><rect x="676" y="1464.4" width="66" height="376.0" fill="url(#h38)"/><rect x="676" y="1464.4" width="66" height="376.0" fill="url(#h39)" mask="url(#rmp)"/><rect x="742" y="1464.4" width="46" height="376.0" fill="url(#h39)"/><rect x="742" y="1464.4" width="46" height="376.0" fill="url(#h310)" mask="url(#rmp)"/><rect x="788" y="1464.4" width="65" height="376.0" fill="url(#h310)"/><rect x="788" y="1464.4" width="65" height="376.0" fill="url(#h311)" mask="url(#rmp)"/><rect x="853" y="1464.4" width="53" height="376.0" fill="url(#h311)"/><rect x="853" y="1464.4" width="53" height="376.0" fill="url(#h312)" mask="url(#rmp)"/><rect x="906" y="1464.4" width="56" height="376.0" fill="url(#h312)"/><rect x="906" y="1464.4" width="56" height="376.0" fill="url(#h313)" mask="url(#rmp)"/><rect x="962" y="1464.4" width="60" height="376.0" fill="url(#h313)"/><rect x="962" y="1464.4" width="60" height="376.0" fill="url(#h314)" mask="url(#rmp)"/><rect x="1022" y="1464.4" width="67" height="376.0" fill="url(#h314)"/><rect x="1022" y="1464.4" width="67" height="376.0" fill="url(#h315)" mask="url(#rmp)"/><rect x="1089" y="1464.4" width="66" height="376.0" fill="url(#h315)"/><rect x="1089" y="1464.4" width="66" height="376.0" fill="url(#h316)" mask="url(#rmp)"/><rect x="1155" y="1464.4" width="102" height="376.0" fill="url(#h316)"/><rect x="1155" y="1464.4" width="102" height="376.0" fill="url(#h317)" mask="url(#rmp)"/><rect x="1257" y="1464.4" width="47" height="376.0" fill="url(#h317)"/><rect x="1257" y="1464.4" width="44" height="376.0" fill="url(#h318)" mask="url(#rmp)"/></g><rect x="91.45" y="1464.4" width="1210.85" height="49.63" fill="#00f"/></g>
<rect x="91.45" y="1464.4" width="1210.85" height="376.00" fill="none" stroke="#000" stroke-width="1.4"/>
<line x1="91.45" y1="1464.4" x2="91.45" y2="1459.64" stroke="#000" stroke-width="1.4"/>
<text x="91.45" y="1447.50" class="t" text-anchor="middle">0</text>
<line x1="233.90" y1="1464.4" x2="233.90" y2="1459.64" stroke="#000" stroke-width="1.4"/>
<text x="233.90" y="1447.50" class="t" text-anchor="middle">2</text>
<line x1="376.36" y1="1464.4" x2="376.36" y2="1459.64" stroke="#000" stroke-width="1.4"/>
<text x="376.36" y="1447.50" class="t" text-anchor="middle">4</text>
<line x1="518.81" y1="1464.4" x2="518.81" y2="1459.64" stroke="#000" stroke-width="1.4"/>
<text x="518.81" y="1447.50" class="t" text-anchor="middle">6</text>
<line x1="661.26" y1="1464.4" x2="661.26" y2="1459.64" stroke="#000" stroke-width="1.4"/>
<text x="661.26" y="1447.50" class="t" text-anchor="middle">8</text>
<line x1="803.71" y1="1464.4" x2="803.71" y2="1459.64" stroke="#000" stroke-width="1.4"/>
<text x="803.71" y="1447.50" class="t" text-anchor="middle">10</text>
<line x1="946.17" y1="1464.4" x2="946.17" y2="1459.64" stroke="#000" stroke-width="1.4"/>
<text x="946.17" y="1447.50" class="t" text-anchor="middle">12</text>
<line x1="1088.62" y1="1464.4" x2="1088.62" y2="1459.64" stroke="#000" stroke-width="1.4"/>
<text x="1088.62" y="1447.50" class="t" text-anchor="middle">14</text>
<line x1="1231.07" y1="1464.4" x2="1231.07" y2="1459.64" stroke="#000" stroke-width="1.4"/>
<text x="1231.07" y="1447.50" class="t" text-anchor="middle">16</text>
<line x1="91.45" y1="1464.40" x2="86.69" y2="1464.40" stroke="#000" stroke-width="1.4"/>
<text x="79.85" y="1474.30" class="t" text-anchor="end">0.0</text>
<line x1="91.45" y1="1518.11" x2="86.69" y2="1518.11" stroke="#000" stroke-width="1.4"/>
<text x="79.85" y="1528.01" class="t" text-anchor="end">0.5</text>
<line x1="91.45" y1="1571.83" x2="86.69" y2="1571.83" stroke="#000" stroke-width="1.4"/>
<text x="79.85" y="1581.73" class="t" text-anchor="end">1.0</text>
<line x1="91.45" y1="1625.54" x2="86.69" y2="1625.54" stroke="#000" stroke-width="1.4"/>
<text x="79.85" y="1635.44" class="t" text-anchor="end">1.5</text>
<line x1="91.45" y1="1679.26" x2="86.69" y2="1679.26" stroke="#000" stroke-width="1.4"/>
<text x="79.85" y="1689.16" class="t" text-anchor="end">2.0</text>
<line x1="91.45" y1="1732.97" x2="86.69" y2="1732.97" stroke="#000" stroke-width="1.4"/>
<text x="79.85" y="1742.87" class="t" text-anchor="end">2.5</text>
<line x1="91.45" y1="1786.69" x2="86.69" y2="1786.69" stroke="#000" stroke-width="1.4"/>
<text x="79.85" y="1796.59" class="t" text-anchor="end">3.0</text>
<line x1="91.45" y1="1840.40" x2="86.69" y2="1840.40" stroke="#000" stroke-width="1.4"/>
<text x="79.85" y="1850.30" class="t" text-anchor="end">3.5</text>
<text x="696.88" y="1422.70" class="l" text-anchor="middle">Distance (km)</text>
<text transform="translate(27.15,1652.40) rotate(-90)" class="l" text-anchor="middle">Depth (km)</text>
<text x="2.25" y="1465.90" class="l">(d)</text>
<linearGradient id="cbg3" x1="0" y1="1" x2="0" y2="0"><stop offset="0" stop-color="#00f"/><stop offset="0.5" stop-color="#fff"/><stop offset="1" stop-color="#f00"/></linearGradient>
<rect x="1317.5" y="1464.4" width="16.00" height="376.00" fill="url(#cbg3)" stroke="#000" stroke-width="1.4"/>
<line x1="1333.5" y1="1840.40" x2="1338.26" y2="1840.40" stroke="#000" stroke-width="1.4"/>
<text x="1343.50" y="1850.30" class="c">1000</text>
<line x1="1333.5" y1="1724.99" x2="1338.26" y2="1724.99" stroke="#000" stroke-width="1.4"/>
<text x="1343.50" y="1734.89" class="c">1500</text>
<line x1="1333.5" y1="1609.58" x2="1338.26" y2="1609.58" stroke="#000" stroke-width="1.4"/>
<text x="1343.50" y="1619.48" class="c">2000</text>
<line x1="1333.5" y1="1494.18" x2="1338.26" y2="1494.18" stroke="#000" stroke-width="1.4"/>
<text x="1343.50" y="1504.08" class="c">2500</text>
<text transform="translate(1438.40,1652.40) rotate(-90)" class="c" text-anchor="middle">Normalized pressure</text>
</svg></body></html>
